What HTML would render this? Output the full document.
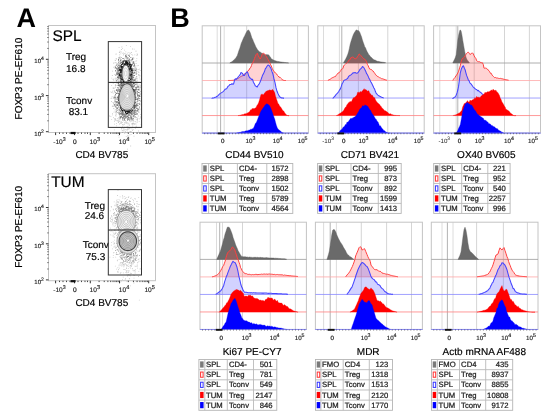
<!DOCTYPE html>
<html><head><meta charset="utf-8"><style>
html,body{margin:0;padding:0;background:#fff;width:550px;height:416px;overflow:hidden;}
svg{display:block;font-family:"Liberation Sans",sans-serif;will-change:transform;text-rendering:geometricPrecision;}
</style></head><body><svg width="550" height="416" viewBox="0 0 550 416" font-family="Liberation Sans, sans-serif"><text x="16.60" y="27.00" font-size="27" text-anchor="start" font-weight="bold" fill="#000" >A</text>
<text x="170.20" y="27.00" font-size="27" text-anchor="start" font-weight="bold" fill="#000" >B</text>
<rect x="48.5" y="25.5" width="107.0" height="107.0" fill="none" stroke="#c4c4c4" stroke-width="1"/>
<line x1="45.9" y1="59.3" x2="48.5" y2="59.3" stroke="#333" stroke-width="1"/>
<text x="34.30" y="63.20" font-size="6.0" fill="#222" stroke="#222" stroke-width="0.15" text-anchor="start">10<tspan font-size="5.10" dy="-3.00">4</tspan></text>
<line x1="45.9" y1="95.6" x2="48.5" y2="95.6" stroke="#333" stroke-width="1"/>
<text x="34.30" y="99.50" font-size="6.0" fill="#222" stroke="#222" stroke-width="0.15" text-anchor="start">10<tspan font-size="5.10" dy="-3.00">3</tspan></text>
<line x1="45.9" y1="131.7" x2="48.5" y2="131.7" stroke="#333" stroke-width="1"/>
<text x="34.30" y="135.60" font-size="6.0" fill="#222" stroke="#222" stroke-width="0.15" text-anchor="start">10<tspan font-size="5.10" dy="-3.00">2</tspan></text>
<rect x="47.4" y="120.30" width="1.1" height="1" fill="#444"/>
<rect x="47.4" y="113.93" width="1.1" height="1" fill="#444"/>
<rect x="47.4" y="109.41" width="1.1" height="1" fill="#444"/>
<rect x="47.4" y="105.90" width="1.1" height="1" fill="#444"/>
<rect x="47.4" y="103.03" width="1.1" height="1" fill="#444"/>
<rect x="47.4" y="100.61" width="1.1" height="1" fill="#444"/>
<rect x="47.4" y="98.51" width="1.1" height="1" fill="#444"/>
<rect x="47.4" y="96.66" width="1.1" height="1" fill="#444"/>
<rect x="47.4" y="84.20" width="1.1" height="1" fill="#444"/>
<rect x="47.4" y="77.83" width="1.1" height="1" fill="#444"/>
<rect x="47.4" y="73.31" width="1.1" height="1" fill="#444"/>
<rect x="47.4" y="69.80" width="1.1" height="1" fill="#444"/>
<rect x="47.4" y="66.93" width="1.1" height="1" fill="#444"/>
<rect x="47.4" y="64.51" width="1.1" height="1" fill="#444"/>
<rect x="47.4" y="62.41" width="1.1" height="1" fill="#444"/>
<rect x="47.4" y="60.56" width="1.1" height="1" fill="#444"/>
<rect x="47.4" y="47.90" width="1.1" height="1" fill="#444"/>
<rect x="47.4" y="41.53" width="1.1" height="1" fill="#444"/>
<rect x="47.4" y="37.01" width="1.1" height="1" fill="#444"/>
<rect x="47.4" y="33.50" width="1.1" height="1" fill="#444"/>
<rect x="47.4" y="30.63" width="1.1" height="1" fill="#444"/>
<rect x="47.4" y="28.21" width="1.1" height="1" fill="#444"/>
<rect x="47.4" y="26.11" width="1.1" height="1" fill="#444"/>
<line x1="55.6" y1="132.5" x2="55.6" y2="135.1" stroke="#333" stroke-width="1"/>
<line x1="74.5" y1="132.5" x2="74.5" y2="135.1" stroke="#333" stroke-width="1"/>
<line x1="90.3" y1="132.5" x2="90.3" y2="135.1" stroke="#333" stroke-width="1"/>
<line x1="119.5" y1="132.5" x2="119.5" y2="135.1" stroke="#333" stroke-width="1"/>
<line x1="148.7" y1="132.5" x2="148.7" y2="135.1" stroke="#333" stroke-width="1"/>
<rect x="59.00" y="132.5" width="1" height="1.4" fill="#444"/>
<rect x="62.50" y="132.5" width="1" height="1.4" fill="#444"/>
<rect x="66.00" y="132.5" width="1" height="1.4" fill="#444"/>
<rect x="69.50" y="132.5" width="1" height="1.4" fill="#444"/>
<rect x="77.50" y="132.5" width="1" height="1.4" fill="#444"/>
<rect x="81.00" y="132.5" width="1" height="1.4" fill="#444"/>
<rect x="84.50" y="132.5" width="1" height="1.4" fill="#444"/>
<rect x="87.00" y="132.5" width="1" height="1.4" fill="#444"/>
<rect x="98.59" y="132.5" width="1" height="1.4" fill="#444"/>
<rect x="103.73" y="132.5" width="1" height="1.4" fill="#444"/>
<rect x="107.38" y="132.5" width="1" height="1.4" fill="#444"/>
<rect x="110.21" y="132.5" width="1" height="1.4" fill="#444"/>
<rect x="112.52" y="132.5" width="1" height="1.4" fill="#444"/>
<rect x="114.48" y="132.5" width="1" height="1.4" fill="#444"/>
<rect x="116.17" y="132.5" width="1" height="1.4" fill="#444"/>
<rect x="117.66" y="132.5" width="1" height="1.4" fill="#444"/>
<rect x="127.79" y="132.5" width="1" height="1.4" fill="#444"/>
<rect x="132.93" y="132.5" width="1" height="1.4" fill="#444"/>
<rect x="136.58" y="132.5" width="1" height="1.4" fill="#444"/>
<rect x="139.41" y="132.5" width="1" height="1.4" fill="#444"/>
<rect x="141.72" y="132.5" width="1" height="1.4" fill="#444"/>
<rect x="143.68" y="132.5" width="1" height="1.4" fill="#444"/>
<rect x="145.37" y="132.5" width="1" height="1.4" fill="#444"/>
<rect x="146.86" y="132.5" width="1" height="1.4" fill="#444"/>
<rect x="70.6" y="131.9" width="5" height="2.2" fill="#111"/>
<text x="53.2" y="143.8" font-size="6.6" fill="#222" stroke="#222" stroke-width="0.15">-10<tspan font-size="5.28" dy="-3.3">3</tspan></text>
<text x="73.00" y="143.80" font-size="6.6" text-anchor="start" font-weight="normal" fill="#222" stroke="#222" stroke-width="0.22" >0</text>
<text x="89.60" y="143.80" font-size="6.6" fill="#222" stroke="#222" stroke-width="0.15" text-anchor="start">10<tspan font-size="5.61" dy="-3.30">3</tspan></text>
<text x="118.80" y="143.80" font-size="6.6" fill="#222" stroke="#222" stroke-width="0.15" text-anchor="start">10<tspan font-size="5.61" dy="-3.30">4</tspan></text>
<text x="144.40" y="143.80" font-size="6.6" fill="#222" stroke="#222" stroke-width="0.15" text-anchor="start">10<tspan font-size="5.61" dy="-3.30">5</tspan></text>
<text x="101.80" y="158.20" font-size="10" text-anchor="middle" font-weight="normal" fill="#000" stroke="#000" stroke-width="0.18" >CD4 BV785</text>
<text x="0" y="0" font-size="10" text-anchor="middle" stroke="#000" stroke-width="0.2" transform="translate(21.6,78.6) rotate(-90)">FOXP3 PE-EF610</text>
<text x="52.40" y="40.70" font-size="15.4" text-anchor="start" font-weight="normal" fill="#000" stroke="#000" stroke-width="0.18" >SPL</text>
<text x="76.00" y="60.20" font-size="10.0" text-anchor="middle" font-weight="normal" fill="#000" stroke="#000" stroke-width="0.18" >Treg</text>
<text x="75.80" y="71.90" font-size="10.0" text-anchor="middle" font-weight="normal" fill="#000" stroke="#000" stroke-width="0.18" >16.8</text>
<text x="79.10" y="103.60" font-size="10.0" text-anchor="middle" font-weight="normal" fill="#000" stroke="#000" stroke-width="0.18" >Tconv</text>
<text x="78.40" y="114.70" font-size="10.0" text-anchor="middle" font-weight="normal" fill="#000" stroke="#000" stroke-width="0.18" >83.1</text>
<path d="M126.0 82.3h0.80v0.80h-0.80zM131.6 71.2h0.80v0.80h-0.80zM128.7 63.1h0.80v0.80h-0.80zM129.6 64.2h0.80v0.80h-0.80zM131.1 69.5h0.80v0.80h-0.80zM122.3 66.3h0.80v0.80h-0.80zM120.2 71.1h0.80v0.80h-0.80zM131.3 65.2h0.80v0.80h-0.80zM124.5 63.9h0.80v0.80h-0.80zM129.7 66.4h0.80v0.80h-0.80zM119.2 74.1h0.80v0.80h-0.80zM131.5 67.8h0.80v0.80h-0.80zM132.0 70.0h0.80v0.80h-0.80zM121.3 64.6h0.80v0.80h-0.80zM123.3 64.3h0.80v0.80h-0.80zM121.5 67.3h0.80v0.80h-0.80zM122.4 77.1h0.80v0.80h-0.80zM126.8 65.5h0.80v0.80h-0.80zM128.4 63.5h0.80v0.80h-0.80zM129.9 65.3h0.80v0.80h-0.80zM122.0 70.5h0.80v0.80h-0.80zM127.2 64.1h0.80v0.80h-0.80zM126.7 64.9h0.80v0.80h-0.80zM122.3 78.8h0.80v0.80h-0.80zM120.6 75.8h0.80v0.80h-0.80zM128.9 68.8h0.80v0.80h-0.80zM122.1 62.6h0.80v0.80h-0.80zM121.7 67.8h0.80v0.80h-0.80zM122.1 62.5h0.80v0.80h-0.80zM121.7 66.4h0.80v0.80h-0.80zM129.6 73.6h0.80v0.80h-0.80zM124.7 82.0h0.80v0.80h-0.80zM120.1 76.0h0.80v0.80h-0.80zM131.0 76.7h0.80v0.80h-0.80zM121.1 67.3h0.80v0.80h-0.80zM130.4 79.2h0.80v0.80h-0.80zM124.4 63.3h0.80v0.80h-0.80zM126.6 63.3h0.80v0.80h-0.80zM120.8 75.0h0.80v0.80h-0.80zM121.6 73.1h0.80v0.80h-0.80zM130.6 75.4h0.80v0.80h-0.80zM130.3 68.3h0.80v0.80h-0.80zM124.8 60.5h0.80v0.80h-0.80zM126.2 61.3h0.80v0.80h-0.80zM129.9 74.4h0.80v0.80h-0.80zM125.6 62.9h0.80v0.80h-0.80zM121.8 77.9h0.80v0.80h-0.80zM122.2 78.7h0.80v0.80h-0.80zM131.0 76.6h0.80v0.80h-0.80zM131.0 70.0h0.80v0.80h-0.80zM122.5 62.3h0.80v0.80h-0.80zM131.1 66.3h0.80v0.80h-0.80zM121.8 68.1h0.80v0.80h-0.80zM120.2 72.6h0.80v0.80h-0.80zM128.5 61.6h0.80v0.80h-0.80zM128.9 64.7h0.80v0.80h-0.80zM121.7 72.8h0.80v0.80h-0.80zM127.9 66.4h0.80v0.80h-0.80zM123.3 79.8h0.80v0.80h-0.80zM130.4 71.8h0.80v0.80h-0.80zM119.8 75.4h0.80v0.80h-0.80zM130.7 69.1h0.80v0.80h-0.80zM130.4 68.5h0.80v0.80h-0.80zM120.5 71.8h0.80v0.80h-0.80zM122.4 69.3h0.80v0.80h-0.80zM119.9 65.2h0.80v0.80h-0.80zM121.9 63.9h0.80v0.80h-0.80zM125.7 60.7h0.80v0.80h-0.80zM125.2 63.4h0.80v0.80h-0.80zM121.4 71.3h0.80v0.80h-0.80zM126.1 63.5h0.80v0.80h-0.80zM122.8 79.1h0.80v0.80h-0.80zM118.6 69.6h0.80v0.80h-0.80zM130.5 68.9h0.80v0.80h-0.80zM123.7 64.8h0.80v0.80h-0.80zM129.5 63.9h0.80v0.80h-0.80zM122.2 63.0h0.80v0.80h-0.80zM119.6 70.1h0.80v0.80h-0.80zM127.8 81.4h0.80v0.80h-0.80zM131.7 73.8h0.80v0.80h-0.80zM121.9 64.1h0.80v0.80h-0.80zM130.3 74.0h0.80v0.80h-0.80zM125.2 63.6h0.80v0.80h-0.80zM129.2 64.5h0.80v0.80h-0.80zM125.8 61.6h0.80v0.80h-0.80zM128.9 80.0h0.80v0.80h-0.80zM123.4 61.4h0.80v0.80h-0.80zM123.5 80.5h0.80v0.80h-0.80zM125.7 62.8h0.80v0.80h-0.80zM124.5 63.4h0.80v0.80h-0.80zM120.9 79.2h0.80v0.80h-0.80zM122.3 68.0h0.80v0.80h-0.80zM122.1 72.9h0.80v0.80h-0.80zM128.6 80.2h0.80v0.80h-0.80zM120.3 74.3h0.80v0.80h-0.80zM121.0 76.4h0.80v0.80h-0.80zM121.9 66.0h0.80v0.80h-0.80zM124.9 64.7h0.80v0.80h-0.80zM126.9 62.1h0.80v0.80h-0.80zM129.7 68.5h0.80v0.80h-0.80zM131.6 69.9h0.80v0.80h-0.80zM129.5 77.1h0.80v0.80h-0.80zM129.0 62.1h0.80v0.80h-0.80zM130.0 67.7h0.80v0.80h-0.80zM126.6 61.8h0.80v0.80h-0.80zM124.2 63.3h0.80v0.80h-0.80zM129.6 64.7h0.80v0.80h-0.80zM130.4 75.3h0.80v0.80h-0.80zM126.8 82.4h0.80v0.80h-0.80zM122.1 70.3h0.80v0.80h-0.80zM130.7 76.4h0.80v0.80h-0.80zM119.6 69.2h0.80v0.80h-0.80zM122.0 79.6h0.80v0.80h-0.80zM131.7 76.2h0.80v0.80h-0.80zM125.0 62.5h0.80v0.80h-0.80zM130.4 71.3h0.80v0.80h-0.80zM120.0 69.5h0.80v0.80h-0.80zM131.4 68.4h0.80v0.80h-0.80zM126.3 62.8h0.80v0.80h-0.80zM124.7 64.4h0.80v0.80h-0.80zM125.4 64.4h0.80v0.80h-0.80zM123.2 80.4h0.80v0.80h-0.80zM118.8 69.8h0.80v0.80h-0.80zM130.0 79.3h0.80v0.80h-0.80zM122.3 70.3h0.80v0.80h-0.80zM126.3 61.9h0.80v0.80h-0.80zM121.0 74.7h0.80v0.80h-0.80zM131.9 74.9h0.80v0.80h-0.80zM129.4 75.6h0.80v0.80h-0.80zM121.8 74.8h0.80v0.80h-0.80zM131.0 74.0h0.80v0.80h-0.80zM121.4 69.3h0.80v0.80h-0.80zM130.5 66.1h0.80v0.80h-0.80zM119.9 76.8h0.80v0.80h-0.80zM120.2 68.9h0.80v0.80h-0.80zM121.9 79.1h0.80v0.80h-0.80zM127.4 62.6h0.80v0.80h-0.80zM122.9 81.1h0.80v0.80h-0.80zM119.4 66.6h0.80v0.80h-0.80zM121.1 72.0h0.80v0.80h-0.80zM121.0 79.0h0.80v0.80h-0.80zM123.3 67.1h0.80v0.80h-0.80zM129.4 74.4h0.80v0.80h-0.80zM121.3 72.2h0.80v0.80h-0.80zM132.0 68.9h0.80v0.80h-0.80zM129.5 70.7h0.80v0.80h-0.80zM126.9 60.6h0.80v0.80h-0.80zM119.0 73.9h0.80v0.80h-0.80zM119.3 75.3h0.80v0.80h-0.80zM131.0 70.3h0.80v0.80h-0.80zM122.9 61.9h0.80v0.80h-0.80zM119.9 69.2h0.80v0.80h-0.80zM122.7 80.7h0.80v0.80h-0.80zM122.2 76.9h0.80v0.80h-0.80zM119.6 74.4h0.80v0.80h-0.80zM132.1 70.6h0.80v0.80h-0.80zM130.7 75.3h0.80v0.80h-0.80zM124.3 63.6h0.80v0.80h-0.80zM123.5 81.2h0.80v0.80h-0.80zM121.3 76.4h0.80v0.80h-0.80zM129.6 75.2h0.80v0.80h-0.80zM130.5 66.7h0.80v0.80h-0.80zM129.3 65.8h0.80v0.80h-0.80zM119.8 70.8h0.80v0.80h-0.80zM130.5 76.2h0.80v0.80h-0.80zM119.9 72.6h0.80v0.80h-0.80zM122.7 79.3h0.80v0.80h-0.80zM121.2 69.8h0.80v0.80h-0.80zM121.9 70.5h0.80v0.80h-0.80zM130.0 79.4h0.80v0.80h-0.80zM121.8 66.0h0.80v0.80h-0.80zM121.2 74.5h0.80v0.80h-0.80zM130.2 67.0h0.80v0.80h-0.80zM131.7 73.9h0.80v0.80h-0.80zM121.1 76.5h0.80v0.80h-0.80zM121.8 68.9h0.80v0.80h-0.80zM124.3 65.8h0.80v0.80h-0.80zM120.2 78.1h0.80v0.80h-0.80zM124.0 65.9h0.80v0.80h-0.80zM122.1 72.1h0.80v0.80h-0.80zM124.5 63.8h0.80v0.80h-0.80zM130.7 78.1h0.80v0.80h-0.80zM129.1 63.6h0.80v0.80h-0.80zM119.6 74.8h0.80v0.80h-0.80zM126.0 60.6h0.80v0.80h-0.80zM130.5 64.4h0.80v0.80h-0.80zM125.4 64.4h0.80v0.80h-0.80zM125.0 63.5h0.80v0.80h-0.80zM118.6 73.0h0.80v0.80h-0.80zM120.6 68.3h0.80v0.80h-0.80zM130.8 78.4h0.80v0.80h-0.80zM131.3 74.8h0.80v0.80h-0.80zM127.4 81.2h0.80v0.80h-0.80zM129.9 63.9h0.80v0.80h-0.80zM131.3 68.4h0.80v0.80h-0.80zM121.6 74.2h0.80v0.80h-0.80zM119.7 67.0h0.80v0.80h-0.80zM124.7 81.7h0.80v0.80h-0.80zM125.3 61.3h0.80v0.80h-0.80zM123.3 63.1h0.80v0.80h-0.80zM126.9 65.2h0.80v0.80h-0.80zM128.7 68.7h0.80v0.80h-0.80zM125.1 61.6h0.80v0.80h-0.80zM126.7 63.1h0.80v0.80h-0.80zM122.3 67.2h0.80v0.80h-0.80zM120.7 70.6h0.80v0.80h-0.80zM127.2 63.4h0.80v0.80h-0.80zM127.5 62.7h0.80v0.80h-0.80zM123.1 64.9h0.80v0.80h-0.80zM127.0 64.0h0.80v0.80h-0.80zM129.4 75.7h0.80v0.80h-0.80zM119.4 66.7h0.80v0.80h-0.80zM121.8 67.4h0.80v0.80h-0.80zM121.7 68.7h0.80v0.80h-0.80zM119.9 70.3h0.80v0.80h-0.80zM127.3 61.8h0.80v0.80h-0.80zM130.1 78.5h0.80v0.80h-0.80zM121.5 72.3h0.80v0.80h-0.80zM130.5 67.4h0.80v0.80h-0.80zM131.6 72.2h0.80v0.80h-0.80zM123.4 80.7h0.80v0.80h-0.80zM125.3 60.9h0.80v0.80h-0.80zM126.3 61.3h0.80v0.80h-0.80zM122.5 62.3h0.80v0.80h-0.80zM130.6 67.5h0.80v0.80h-0.80zM123.8 60.8h0.80v0.80h-0.80zM120.8 77.6h0.80v0.80h-0.80zM131.4 68.9h0.80v0.80h-0.80zM121.4 71.4h0.80v0.80h-0.80zM130.7 64.1h0.80v0.80h-0.80zM122.4 79.2h0.80v0.80h-0.80zM125.5 63.3h0.80v0.80h-0.80zM124.8 64.7h0.80v0.80h-0.80zM120.3 72.6h0.80v0.80h-0.80zM119.8 71.3h0.80v0.80h-0.80zM130.3 66.4h0.80v0.80h-0.80zM128.2 63.6h0.80v0.80h-0.80zM123.2 80.0h0.80v0.80h-0.80zM129.2 68.6h0.80v0.80h-0.80zM129.8 70.4h0.80v0.80h-0.80zM129.1 69.1h0.80v0.80h-0.80zM129.5 67.0h0.80v0.80h-0.80zM118.8 68.6h0.80v0.80h-0.80zM120.3 77.6h0.80v0.80h-0.80zM129.0 67.7h0.80v0.80h-0.80zM121.5 76.2h0.80v0.80h-0.80zM128.9 65.8h0.80v0.80h-0.80zM120.2 69.1h0.80v0.80h-0.80zM120.2 72.6h0.80v0.80h-0.80zM121.9 77.2h0.80v0.80h-0.80zM119.6 68.8h0.80v0.80h-0.80zM119.6 71.7h0.80v0.80h-0.80zM125.7 62.1h0.80v0.80h-0.80zM130.3 63.8h0.80v0.80h-0.80zM127.6 65.4h0.80v0.80h-0.80zM131.8 73.9h0.80v0.80h-0.80zM129.0 69.2h0.80v0.80h-0.80zM127.9 81.5h0.80v0.80h-0.80zM129.2 70.4h0.80v0.80h-0.80zM128.9 63.8h0.80v0.80h-0.80zM120.5 74.7h0.80v0.80h-0.80zM120.9 66.6h0.80v0.80h-0.80zM131.0 69.2h0.80v0.80h-0.80zM122.0 63.8h0.80v0.80h-0.80zM120.8 64.7h0.80v0.80h-0.80zM119.3 70.1h0.80v0.80h-0.80zM126.5 64.4h0.80v0.80h-0.80zM119.7 72.4h0.80v0.80h-0.80zM118.8 74.6h0.80v0.80h-0.80zM131.3 71.6h0.80v0.80h-0.80zM126.7 64.2h0.80v0.80h-0.80zM120.1 66.4h0.80v0.80h-0.80zM129.6 63.5h0.80v0.80h-0.80zM120.6 68.8h0.80v0.80h-0.80zM120.6 69.7h0.80v0.80h-0.80zM129.7 70.4h0.80v0.80h-0.80zM121.5 79.5h0.80v0.80h-0.80zM122.0 77.4h0.80v0.80h-0.80zM122.6 67.4h0.80v0.80h-0.80zM121.8 63.5h0.80v0.80h-0.80zM127.9 82.0h0.80v0.80h-0.80zM125.8 62.9h0.80v0.80h-0.80zM120.5 79.1h0.80v0.80h-0.80zM121.1 70.8h0.80v0.80h-0.80zM125.7 64.6h0.80v0.80h-0.80zM120.3 70.3h0.80v0.80h-0.80zM120.5 66.5h0.80v0.80h-0.80zM121.5 67.8h0.80v0.80h-0.80zM121.4 70.4h0.80v0.80h-0.80zM120.6 78.4h0.80v0.80h-0.80zM132.4 72.3h0.80v0.80h-0.80zM122.2 66.2h0.80v0.80h-0.80zM127.5 64.1h0.80v0.80h-0.80zM129.9 66.3h0.80v0.80h-0.80zM121.3 67.2h0.80v0.80h-0.80zM123.1 79.4h0.80v0.80h-0.80zM131.4 70.2h0.80v0.80h-0.80zM121.2 68.8h0.80v0.80h-0.80zM123.3 61.1h0.80v0.80h-0.80zM129.6 69.7h0.80v0.80h-0.80zM129.9 68.8h0.80v0.80h-0.80zM129.3 74.3h0.80v0.80h-0.80zM129.8 72.7h0.80v0.80h-0.80zM129.3 80.5h0.80v0.80h-0.80zM124.1 66.0h0.80v0.80h-0.80zM120.9 66.8h0.80v0.80h-0.80zM119.1 75.7h0.80v0.80h-0.80zM132.1 70.5h0.80v0.80h-0.80zM126.6 64.4h0.80v0.80h-0.80zM122.3 67.2h0.80v0.80h-0.80zM120.9 78.4h0.80v0.80h-0.80zM124.4 64.5h0.80v0.80h-0.80zM119.0 72.9h0.80v0.80h-0.80zM121.5 66.1h0.80v0.80h-0.80zM130.9 69.3h0.80v0.80h-0.80zM128.2 65.6h0.80v0.80h-0.80zM129.1 78.1h0.80v0.80h-0.80zM119.0 75.1h0.80v0.80h-0.80zM122.2 79.7h0.80v0.80h-0.80zM128.1 66.6h0.80v0.80h-0.80zM127.8 64.0h0.80v0.80h-0.80zM129.6 64.9h0.80v0.80h-0.80zM130.2 79.5h0.80v0.80h-0.80zM120.9 64.1h0.80v0.80h-0.80zM120.1 71.4h0.80v0.80h-0.80zM131.0 64.8h0.80v0.80h-0.80zM131.2 74.3h0.80v0.80h-0.80zM129.5 67.0h0.80v0.80h-0.80zM118.6 72.7h0.80v0.80h-0.80zM129.9 67.2h0.80v0.80h-0.80zM128.0 79.9h0.80v0.80h-0.80zM120.4 70.3h0.80v0.80h-0.80zM121.8 70.1h0.80v0.80h-0.80zM121.8 68.6h0.80v0.80h-0.80zM131.1 77.0h0.80v0.80h-0.80zM129.0 63.9h0.80v0.80h-0.80zM121.2 71.2h0.80v0.80h-0.80zM123.2 66.0h0.80v0.80h-0.80zM129.7 67.0h0.80v0.80h-0.80zM129.7 65.5h0.80v0.80h-0.80zM121.3 71.3h0.80v0.80h-0.80zM120.8 65.9h0.80v0.80h-0.80zM128.8 63.5h0.80v0.80h-0.80zM125.7 63.5h0.80v0.80h-0.80zM131.2 72.9h0.80v0.80h-0.80zM120.6 74.6h0.80v0.80h-0.80zM121.1 70.2h0.80v0.80h-0.80zM128.2 63.2h0.80v0.80h-0.80zM129.3 75.0h0.80v0.80h-0.80zM130.9 74.5h0.80v0.80h-0.80zM131.7 72.9h0.80v0.80h-0.80zM128.0 63.8h0.80v0.80h-0.80zM122.1 67.4h0.80v0.80h-0.80zM131.6 74.8h0.80v0.80h-0.80zM122.1 71.4h0.80v0.80h-0.80zM124.1 81.7h0.80v0.80h-0.80zM121.5 76.2h0.80v0.80h-0.80zM123.9 64.0h0.80v0.80h-0.80zM128.3 65.7h0.80v0.80h-0.80zM127.3 81.9h0.80v0.80h-0.80zM121.2 67.2h0.80v0.80h-0.80zM122.9 61.7h0.80v0.80h-0.80zM120.6 65.9h0.80v0.80h-0.80zM129.5 65.1h0.80v0.80h-0.80zM120.9 65.7h0.80v0.80h-0.80zM123.9 80.8h0.80v0.80h-0.80zM129.6 72.8h0.80v0.80h-0.80zM120.8 79.0h0.80v0.80h-0.80z" fill="#000" opacity="0.9"/>
<path d="M120.5 80.0h0.80v0.80h-0.80zM135.8 72.9h0.80v0.80h-0.80zM116.7 69.4h0.80v0.80h-0.80zM125.9 60.0h0.80v0.80h-0.80zM117.8 81.0h0.80v0.80h-0.80zM121.3 80.7h0.80v0.80h-0.80zM129.0 61.7h0.80v0.80h-0.80zM133.7 79.7h0.80v0.80h-0.80zM123.0 85.7h0.80v0.80h-0.80zM121.0 62.4h0.80v0.80h-0.80zM118.5 67.1h0.80v0.80h-0.80zM117.7 77.3h0.80v0.80h-0.80zM119.4 77.3h0.80v0.80h-0.80zM132.9 73.0h0.80v0.80h-0.80zM123.1 57.9h0.80v0.80h-0.80zM120.6 80.0h0.80v0.80h-0.80zM117.5 65.6h0.80v0.80h-0.80zM121.4 82.2h0.80v0.80h-0.80zM129.1 56.1h0.80v0.80h-0.80zM128.2 60.0h0.80v0.80h-0.80zM125.2 55.1h0.80v0.80h-0.80zM132.3 64.0h0.80v0.80h-0.80zM131.2 64.9h0.80v0.80h-0.80zM134.4 72.7h0.80v0.80h-0.80zM116.2 73.6h0.80v0.80h-0.80zM115.8 68.1h0.80v0.80h-0.80zM130.0 84.9h0.80v0.80h-0.80zM134.1 64.1h0.80v0.80h-0.80zM118.1 59.1h0.80v0.80h-0.80zM136.0 68.8h0.80v0.80h-0.80zM120.9 81.5h0.80v0.80h-0.80zM120.4 79.9h0.80v0.80h-0.80zM127.9 60.1h0.80v0.80h-0.80zM117.1 71.8h0.80v0.80h-0.80zM118.2 77.8h0.80v0.80h-0.80zM117.4 68.5h0.80v0.80h-0.80zM133.2 62.4h0.80v0.80h-0.80zM132.6 82.5h0.80v0.80h-0.80zM127.6 59.2h0.80v0.80h-0.80zM131.2 78.4h0.80v0.80h-0.80zM135.8 73.9h0.80v0.80h-0.80zM133.0 82.9h0.80v0.80h-0.80zM120.8 57.0h0.80v0.80h-0.80zM132.3 68.2h0.80v0.80h-0.80zM116.2 65.2h0.80v0.80h-0.80zM125.5 83.4h0.80v0.80h-0.80zM122.2 58.0h0.80v0.80h-0.80zM117.8 72.8h0.80v0.80h-0.80zM132.9 79.6h0.80v0.80h-0.80zM117.4 76.3h0.80v0.80h-0.80zM127.8 82.3h0.80v0.80h-0.80zM123.1 84.4h0.80v0.80h-0.80zM116.4 80.2h0.80v0.80h-0.80zM121.4 84.8h0.80v0.80h-0.80zM118.3 73.0h0.80v0.80h-0.80zM115.5 74.8h0.80v0.80h-0.80zM116.9 73.1h0.80v0.80h-0.80zM128.7 83.9h0.80v0.80h-0.80zM134.0 80.5h0.80v0.80h-0.80zM118.4 65.3h0.80v0.80h-0.80zM127.3 82.6h0.80v0.80h-0.80zM124.3 84.1h0.80v0.80h-0.80zM126.8 57.2h0.80v0.80h-0.80zM123.2 83.9h0.80v0.80h-0.80zM120.0 58.7h0.80v0.80h-0.80zM133.3 68.4h0.80v0.80h-0.80zM123.9 58.8h0.80v0.80h-0.80zM120.9 61.9h0.80v0.80h-0.80zM121.3 83.5h0.80v0.80h-0.80zM133.3 77.2h0.80v0.80h-0.80zM116.5 67.7h0.80v0.80h-0.80zM119.2 84.8h0.80v0.80h-0.80zM127.1 57.9h0.80v0.80h-0.80zM117.8 78.6h0.80v0.80h-0.80zM129.1 58.4h0.80v0.80h-0.80zM118.7 67.8h0.80v0.80h-0.80zM118.5 63.3h0.80v0.80h-0.80zM134.8 71.7h0.80v0.80h-0.80zM127.5 59.9h0.80v0.80h-0.80zM130.1 62.4h0.80v0.80h-0.80zM133.2 65.5h0.80v0.80h-0.80zM118.6 77.4h0.80v0.80h-0.80zM128.5 60.4h0.80v0.80h-0.80zM132.9 75.7h0.80v0.80h-0.80zM123.0 82.6h0.80v0.80h-0.80zM121.4 82.7h0.80v0.80h-0.80zM124.9 57.5h0.80v0.80h-0.80zM124.1 60.0h0.80v0.80h-0.80zM116.6 74.5h0.80v0.80h-0.80zM132.5 63.1h0.80v0.80h-0.80zM132.3 77.6h0.80v0.80h-0.80zM130.0 81.6h0.80v0.80h-0.80zM117.3 78.8h0.80v0.80h-0.80zM118.0 62.3h0.80v0.80h-0.80zM119.7 63.3h0.80v0.80h-0.80zM121.3 81.1h0.80v0.80h-0.80zM129.2 61.6h0.80v0.80h-0.80zM121.1 62.1h0.80v0.80h-0.80zM133.4 65.7h0.80v0.80h-0.80zM117.8 70.0h0.80v0.80h-0.80zM134.1 75.1h0.80v0.80h-0.80zM120.5 83.2h0.80v0.80h-0.80zM130.7 83.5h0.80v0.80h-0.80zM118.8 84.5h0.80v0.80h-0.80zM132.9 61.3h0.80v0.80h-0.80zM134.9 69.5h0.80v0.80h-0.80zM119.9 62.2h0.80v0.80h-0.80zM133.9 63.3h0.80v0.80h-0.80zM126.0 56.3h0.80v0.80h-0.80zM115.3 70.6h0.80v0.80h-0.80zM128.4 60.7h0.80v0.80h-0.80zM116.5 80.3h0.80v0.80h-0.80zM131.9 79.2h0.80v0.80h-0.80zM118.0 82.3h0.80v0.80h-0.80zM116.7 69.2h0.80v0.80h-0.80zM129.5 61.2h0.80v0.80h-0.80zM121.9 60.5h0.80v0.80h-0.80zM117.1 72.8h0.80v0.80h-0.80zM120.4 83.3h0.80v0.80h-0.80zM135.6 67.8h0.80v0.80h-0.80zM129.9 80.8h0.80v0.80h-0.80zM120.9 80.6h0.80v0.80h-0.80zM132.1 59.1h0.80v0.80h-0.80zM116.7 71.4h0.80v0.80h-0.80zM121.3 81.9h0.80v0.80h-0.80zM118.5 75.8h0.80v0.80h-0.80zM130.9 59.3h0.80v0.80h-0.80zM135.4 77.7h0.80v0.80h-0.80zM116.9 68.5h0.80v0.80h-0.80zM130.4 57.1h0.80v0.80h-0.80zM128.8 61.1h0.80v0.80h-0.80zM120.0 62.4h0.80v0.80h-0.80zM133.7 69.8h0.80v0.80h-0.80zM133.5 61.6h0.80v0.80h-0.80zM132.1 78.0h0.80v0.80h-0.80zM118.5 69.8h0.80v0.80h-0.80zM115.0 74.8h0.80v0.80h-0.80zM133.4 70.1h0.80v0.80h-0.80zM131.0 60.5h0.80v0.80h-0.80zM117.6 82.7h0.80v0.80h-0.80zM122.0 61.1h0.80v0.80h-0.80zM129.5 84.3h0.80v0.80h-0.80zM119.3 64.5h0.80v0.80h-0.80zM127.9 54.9h0.80v0.80h-0.80zM118.4 72.2h0.80v0.80h-0.80zM124.7 60.2h0.80v0.80h-0.80zM115.1 67.3h0.80v0.80h-0.80zM116.8 63.5h0.80v0.80h-0.80zM135.7 70.3h0.80v0.80h-0.80zM133.6 72.4h0.80v0.80h-0.80zM121.8 84.0h0.80v0.80h-0.80zM135.0 70.1h0.80v0.80h-0.80zM132.4 79.3h0.80v0.80h-0.80zM121.3 84.4h0.80v0.80h-0.80zM129.6 82.5h0.80v0.80h-0.80zM118.6 68.4h0.80v0.80h-0.80zM129.2 82.3h0.80v0.80h-0.80zM130.5 60.2h0.80v0.80h-0.80zM117.1 66.5h0.80v0.80h-0.80zM117.8 68.0h0.80v0.80h-0.80zM130.4 80.6h0.80v0.80h-0.80zM123.9 84.6h0.80v0.80h-0.80zM126.0 59.9h0.80v0.80h-0.80zM120.9 59.5h0.80v0.80h-0.80zM118.9 65.6h0.80v0.80h-0.80zM134.0 71.9h0.80v0.80h-0.80zM133.2 75.3h0.80v0.80h-0.80zM130.6 80.4h0.80v0.80h-0.80zM132.9 76.9h0.80v0.80h-0.80zM122.5 84.7h0.80v0.80h-0.80zM120.3 60.0h0.80v0.80h-0.80zM119.1 65.5h0.80v0.80h-0.80zM134.0 75.0h0.80v0.80h-0.80zM127.9 82.6h0.80v0.80h-0.80zM120.0 60.7h0.80v0.80h-0.80zM132.8 80.4h0.80v0.80h-0.80zM120.3 60.7h0.80v0.80h-0.80zM133.0 61.7h0.80v0.80h-0.80zM131.6 82.8h0.80v0.80h-0.80zM133.8 65.7h0.80v0.80h-0.80zM122.5 83.3h0.80v0.80h-0.80zM121.4 62.0h0.80v0.80h-0.80zM116.2 72.8h0.80v0.80h-0.80zM117.0 77.1h0.80v0.80h-0.80zM115.1 69.9h0.80v0.80h-0.80zM117.1 73.8h0.80v0.80h-0.80zM115.5 67.3h0.80v0.80h-0.80zM125.1 56.2h0.80v0.80h-0.80zM133.6 71.4h0.80v0.80h-0.80zM123.0 57.9h0.80v0.80h-0.80zM118.8 61.5h0.80v0.80h-0.80zM117.5 69.7h0.80v0.80h-0.80zM131.2 82.0h0.80v0.80h-0.80zM128.8 55.3h0.80v0.80h-0.80zM117.2 69.8h0.80v0.80h-0.80zM126.5 56.7h0.80v0.80h-0.80zM133.4 65.4h0.80v0.80h-0.80zM121.2 80.9h0.80v0.80h-0.80zM121.6 61.6h0.80v0.80h-0.80zM118.9 67.3h0.80v0.80h-0.80zM123.5 83.7h0.80v0.80h-0.80zM128.6 59.7h0.80v0.80h-0.80zM123.5 83.1h0.80v0.80h-0.80zM129.7 62.4h0.80v0.80h-0.80zM132.0 59.4h0.80v0.80h-0.80zM117.9 77.3h0.80v0.80h-0.80zM123.1 60.2h0.80v0.80h-0.80zM132.9 79.5h0.80v0.80h-0.80zM126.0 58.4h0.80v0.80h-0.80zM118.2 77.0h0.80v0.80h-0.80zM131.9 61.8h0.80v0.80h-0.80zM133.0 65.8h0.80v0.80h-0.80zM125.4 55.7h0.80v0.80h-0.80zM130.9 63.9h0.80v0.80h-0.80zM130.6 85.4h0.80v0.80h-0.80zM127.6 83.5h0.80v0.80h-0.80zM116.5 64.3h0.80v0.80h-0.80zM132.1 64.3h0.80v0.80h-0.80zM118.4 76.4h0.80v0.80h-0.80zM128.9 60.3h0.80v0.80h-0.80zM120.1 60.0h0.80v0.80h-0.80zM121.6 62.1h0.80v0.80h-0.80zM127.5 59.9h0.80v0.80h-0.80zM134.4 65.0h0.80v0.80h-0.80zM116.6 73.9h0.80v0.80h-0.80zM131.1 85.9h0.80v0.80h-0.80zM126.3 57.0h0.80v0.80h-0.80zM134.2 79.5h0.80v0.80h-0.80zM115.2 66.8h0.80v0.80h-0.80zM126.0 55.4h0.80v0.80h-0.80zM118.8 65.7h0.80v0.80h-0.80zM133.5 62.0h0.80v0.80h-0.80zM133.6 75.3h0.80v0.80h-0.80zM126.2 83.8h0.80v0.80h-0.80zM118.3 60.4h0.80v0.80h-0.80zM129.1 82.2h0.80v0.80h-0.80zM131.9 58.6h0.80v0.80h-0.80zM132.5 69.4h0.80v0.80h-0.80zM132.3 82.4h0.80v0.80h-0.80zM132.9 61.7h0.80v0.80h-0.80zM119.4 77.9h0.80v0.80h-0.80zM117.7 78.4h0.80v0.80h-0.80zM117.3 74.0h0.80v0.80h-0.80zM118.3 59.1h0.80v0.80h-0.80zM129.3 59.3h0.80v0.80h-0.80zM122.5 81.7h0.80v0.80h-0.80zM118.2 68.0h0.80v0.80h-0.80zM116.6 69.1h0.80v0.80h-0.80zM118.4 70.2h0.80v0.80h-0.80zM117.8 74.4h0.80v0.80h-0.80zM133.6 63.2h0.80v0.80h-0.80zM123.3 59.9h0.80v0.80h-0.80zM119.6 81.2h0.80v0.80h-0.80zM123.7 60.1h0.80v0.80h-0.80zM124.9 60.1h0.80v0.80h-0.80zM132.0 76.6h0.80v0.80h-0.80zM134.0 65.0h0.80v0.80h-0.80zM119.8 80.8h0.80v0.80h-0.80zM120.8 81.5h0.80v0.80h-0.80zM134.6 66.6h0.80v0.80h-0.80zM120.3 62.8h0.80v0.80h-0.80zM122.7 82.9h0.80v0.80h-0.80zM121.2 62.3h0.80v0.80h-0.80zM116.5 72.3h0.80v0.80h-0.80zM134.2 79.4h0.80v0.80h-0.80zM130.7 83.3h0.80v0.80h-0.80zM133.5 82.8h0.80v0.80h-0.80zM118.3 60.0h0.80v0.80h-0.80zM127.9 57.6h0.80v0.80h-0.80zM134.9 79.2h0.80v0.80h-0.80zM122.4 85.6h0.80v0.80h-0.80zM132.1 58.1h0.80v0.80h-0.80zM122.8 61.1h0.80v0.80h-0.80zM117.4 70.6h0.80v0.80h-0.80zM120.4 85.6h0.80v0.80h-0.80zM116.3 80.0h0.80v0.80h-0.80zM115.6 77.8h0.80v0.80h-0.80zM133.4 72.9h0.80v0.80h-0.80zM130.0 80.7h0.80v0.80h-0.80zM124.4 83.4h0.80v0.80h-0.80zM134.5 68.4h0.80v0.80h-0.80zM118.2 73.6h0.80v0.80h-0.80zM131.3 78.0h0.80v0.80h-0.80zM120.1 80.3h0.80v0.80h-0.80zM118.4 77.2h0.80v0.80h-0.80zM118.1 75.0h0.80v0.80h-0.80zM118.2 71.2h0.80v0.80h-0.80zM131.6 77.6h0.80v0.80h-0.80zM133.5 63.3h0.80v0.80h-0.80zM117.9 67.1h0.80v0.80h-0.80zM119.4 57.6h0.80v0.80h-0.80zM132.2 58.7h0.80v0.80h-0.80zM131.7 64.6h0.80v0.80h-0.80zM117.3 76.7h0.80v0.80h-0.80zM134.5 80.1h0.80v0.80h-0.80zM118.2 64.4h0.80v0.80h-0.80zM121.6 84.9h0.80v0.80h-0.80zM136.0 71.6h0.80v0.80h-0.80zM122.7 82.7h0.80v0.80h-0.80zM122.5 85.0h0.80v0.80h-0.80z" fill="#333" opacity="0.65"/>
<path d="M118.3 58.5h0.80v0.80h-0.80zM123.3 54.2h0.80v0.80h-0.80zM122.8 52.6h0.80v0.80h-0.80zM113.6 78.4h0.80v0.80h-0.80zM115.4 62.1h0.80v0.80h-0.80zM120.4 53.5h0.80v0.80h-0.80zM135.8 50.8h0.80v0.80h-0.80zM134.4 54.4h0.80v0.80h-0.80zM135.4 50.8h0.80v0.80h-0.80zM136.6 55.1h0.80v0.80h-0.80zM136.0 76.1h0.80v0.80h-0.80zM120.2 91.5h0.80v0.80h-0.80zM119.3 51.7h0.80v0.80h-0.80zM138.4 72.1h0.80v0.80h-0.80zM137.1 54.2h0.80v0.80h-0.80zM113.4 79.9h0.80v0.80h-0.80zM135.7 63.1h0.80v0.80h-0.80zM114.6 82.0h0.80v0.80h-0.80zM115.6 79.4h0.80v0.80h-0.80zM119.6 56.2h0.80v0.80h-0.80zM125.4 51.4h0.80v0.80h-0.80zM120.7 51.6h0.80v0.80h-0.80zM135.8 92.3h0.80v0.80h-0.80zM124.1 49.8h0.80v0.80h-0.80zM119.3 52.1h0.80v0.80h-0.80zM132.8 57.2h0.80v0.80h-0.80zM134.1 83.2h0.80v0.80h-0.80zM129.2 54.4h0.80v0.80h-0.80zM115.6 53.9h0.80v0.80h-0.80zM113.0 62.7h0.80v0.80h-0.80zM113.4 66.7h0.80v0.80h-0.80zM120.7 87.1h0.80v0.80h-0.80zM129.9 52.8h0.80v0.80h-0.80zM139.3 75.2h0.80v0.80h-0.80zM119.6 50.8h0.80v0.80h-0.80zM129.5 53.4h0.80v0.80h-0.80zM118.6 57.7h0.80v0.80h-0.80zM139.4 74.9h0.80v0.80h-0.80zM126.3 54.1h0.80v0.80h-0.80zM136.7 53.6h0.80v0.80h-0.80zM116.0 58.6h0.80v0.80h-0.80zM136.6 65.5h0.80v0.80h-0.80zM137.6 71.2h0.80v0.80h-0.80zM121.0 49.1h0.80v0.80h-0.80zM136.4 69.3h0.80v0.80h-0.80zM118.3 57.1h0.80v0.80h-0.80zM119.2 54.5h0.80v0.80h-0.80zM118.7 47.0h0.80v0.80h-0.80zM131.4 53.9h0.80v0.80h-0.80zM122.5 53.2h0.80v0.80h-0.80zM136.4 58.2h0.80v0.80h-0.80zM137.8 65.1h0.80v0.80h-0.80zM132.7 86.2h0.80v0.80h-0.80zM113.2 87.7h0.80v0.80h-0.80zM118.3 86.8h0.80v0.80h-0.80zM117.4 88.2h0.80v0.80h-0.80zM115.1 60.3h0.80v0.80h-0.80zM136.4 73.0h0.80v0.80h-0.80zM130.1 45.9h0.80v0.80h-0.80zM138.1 69.0h0.80v0.80h-0.80zM114.7 68.1h0.80v0.80h-0.80zM114.1 87.7h0.80v0.80h-0.80zM114.8 66.1h0.80v0.80h-0.80zM115.6 78.8h0.80v0.80h-0.80zM119.1 57.2h0.80v0.80h-0.80zM113.7 66.8h0.80v0.80h-0.80zM114.3 74.3h0.80v0.80h-0.80zM125.9 44.9h0.80v0.80h-0.80zM115.8 62.6h0.80v0.80h-0.80zM138.0 74.8h0.80v0.80h-0.80zM126.9 52.8h0.80v0.80h-0.80zM132.0 48.6h0.80v0.80h-0.80zM115.4 94.8h0.80v0.80h-0.80zM113.6 66.9h0.80v0.80h-0.80zM124.3 53.0h0.80v0.80h-0.80zM111.4 77.7h0.80v0.80h-0.80zM117.9 84.0h0.80v0.80h-0.80zM112.1 70.8h0.80v0.80h-0.80zM135.5 83.0h0.80v0.80h-0.80zM111.7 96.0h0.80v0.80h-0.80zM133.5 57.8h0.80v0.80h-0.80zM137.3 83.2h0.80v0.80h-0.80zM138.9 77.5h0.80v0.80h-0.80zM122.0 48.2h0.80v0.80h-0.80zM114.7 59.8h0.80v0.80h-0.80zM138.6 73.9h0.80v0.80h-0.80zM135.2 80.7h0.80v0.80h-0.80zM133.5 90.2h0.80v0.80h-0.80zM135.4 60.8h0.80v0.80h-0.80zM134.5 82.9h0.80v0.80h-0.80zM133.6 82.9h0.80v0.80h-0.80zM131.7 57.0h0.80v0.80h-0.80zM135.4 80.3h0.80v0.80h-0.80zM116.9 87.2h0.80v0.80h-0.80zM136.9 78.4h0.80v0.80h-0.80zM132.3 54.8h0.80v0.80h-0.80zM116.7 82.2h0.80v0.80h-0.80zM111.9 75.1h0.80v0.80h-0.80zM133.2 58.6h0.80v0.80h-0.80zM133.8 48.7h0.80v0.80h-0.80zM136.6 69.2h0.80v0.80h-0.80zM113.8 62.5h0.80v0.80h-0.80zM115.6 80.0h0.80v0.80h-0.80zM138.2 82.3h0.80v0.80h-0.80zM139.9 70.3h0.80v0.80h-0.80zM118.9 85.9h0.80v0.80h-0.80zM135.6 77.9h0.80v0.80h-0.80zM127.7 54.2h0.80v0.80h-0.80zM115.1 65.6h0.80v0.80h-0.80zM124.8 53.4h0.80v0.80h-0.80zM136.0 82.0h0.80v0.80h-0.80zM139.5 75.7h0.80v0.80h-0.80zM131.1 52.1h0.80v0.80h-0.80zM134.2 82.8h0.80v0.80h-0.80zM121.5 46.6h0.80v0.80h-0.80zM118.9 51.9h0.80v0.80h-0.80zM114.9 85.6h0.80v0.80h-0.80zM115.7 57.9h0.80v0.80h-0.80zM125.0 53.8h0.80v0.80h-0.80zM137.9 82.3h0.80v0.80h-0.80zM122.9 54.8h0.80v0.80h-0.80zM135.7 63.1h0.80v0.80h-0.80zM114.3 82.3h0.80v0.80h-0.80zM120.9 88.1h0.80v0.80h-0.80zM116.6 92.8h0.80v0.80h-0.80zM128.5 52.2h0.80v0.80h-0.80zM137.1 86.0h0.80v0.80h-0.80zM112.7 79.1h0.80v0.80h-0.80zM118.1 89.7h0.80v0.80h-0.80zM136.3 60.4h0.80v0.80h-0.80zM133.9 82.8h0.80v0.80h-0.80zM115.7 53.5h0.80v0.80h-0.80z" fill="#777" opacity="0.45"/>
<path d="M127.5 111.8h0.80v0.80h-0.80zM134.6 103.2h0.80v0.80h-0.80zM134.9 92.8h0.80v0.80h-0.80zM121.2 88.3h0.80v0.80h-0.80zM133.2 89.3h0.80v0.80h-0.80zM118.8 102.1h0.80v0.80h-0.80zM131.2 109.4h0.80v0.80h-0.80zM124.3 109.7h0.80v0.80h-0.80zM121.4 107.5h0.80v0.80h-0.80zM121.6 108.8h0.80v0.80h-0.80zM120.4 90.8h0.80v0.80h-0.80zM118.5 99.2h0.80v0.80h-0.80zM125.0 112.5h0.80v0.80h-0.80zM118.9 95.1h0.80v0.80h-0.80zM121.6 110.2h0.80v0.80h-0.80zM122.4 111.2h0.80v0.80h-0.80zM135.2 96.8h0.80v0.80h-0.80zM120.3 90.6h0.80v0.80h-0.80zM135.3 99.3h0.80v0.80h-0.80zM118.4 98.1h0.80v0.80h-0.80zM124.2 110.6h0.80v0.80h-0.80zM124.9 111.7h0.80v0.80h-0.80zM125.0 110.8h0.80v0.80h-0.80zM125.2 110.9h0.80v0.80h-0.80zM125.3 112.2h0.80v0.80h-0.80zM132.3 110.3h0.80v0.80h-0.80zM125.7 111.6h0.80v0.80h-0.80zM122.6 110.8h0.80v0.80h-0.80zM131.1 109.5h0.80v0.80h-0.80zM118.8 102.8h0.80v0.80h-0.80zM130.0 111.6h0.80v0.80h-0.80zM129.6 110.3h0.80v0.80h-0.80zM131.6 110.1h0.80v0.80h-0.80zM126.8 113.1h0.80v0.80h-0.80zM131.8 109.0h0.80v0.80h-0.80zM120.5 106.4h0.80v0.80h-0.80zM130.3 110.2h0.80v0.80h-0.80zM122.8 109.2h0.80v0.80h-0.80zM118.9 94.1h0.80v0.80h-0.80zM134.8 93.0h0.80v0.80h-0.80zM120.0 107.6h0.80v0.80h-0.80zM118.2 100.1h0.80v0.80h-0.80zM133.9 106.6h0.80v0.80h-0.80zM126.5 111.0h0.80v0.80h-0.80zM121.1 108.8h0.80v0.80h-0.80zM125.1 111.8h0.80v0.80h-0.80zM129.0 110.7h0.80v0.80h-0.80zM128.5 110.6h0.80v0.80h-0.80zM130.9 111.7h0.80v0.80h-0.80zM133.9 90.2h0.80v0.80h-0.80zM133.5 90.6h0.80v0.80h-0.80zM135.7 98.9h0.80v0.80h-0.80zM124.4 110.3h0.80v0.80h-0.80zM118.8 99.3h0.80v0.80h-0.80zM127.3 110.4h0.80v0.80h-0.80zM134.0 107.6h0.80v0.80h-0.80zM118.4 96.4h0.80v0.80h-0.80zM135.3 96.6h0.80v0.80h-0.80zM118.3 98.6h0.80v0.80h-0.80zM133.7 90.9h0.80v0.80h-0.80zM135.0 94.4h0.80v0.80h-0.80zM131.0 111.0h0.80v0.80h-0.80zM129.5 110.1h0.80v0.80h-0.80zM125.3 111.5h0.80v0.80h-0.80zM128.9 111.7h0.80v0.80h-0.80zM122.3 110.7h0.80v0.80h-0.80zM125.9 113.1h0.80v0.80h-0.80zM118.6 99.1h0.80v0.80h-0.80zM127.8 111.5h0.80v0.80h-0.80zM120.0 107.3h0.80v0.80h-0.80zM134.7 91.9h0.80v0.80h-0.80zM118.8 102.2h0.80v0.80h-0.80zM135.0 101.9h0.80v0.80h-0.80zM133.6 90.0h0.80v0.80h-0.80zM123.2 109.8h0.80v0.80h-0.80zM118.6 98.5h0.80v0.80h-0.80zM122.0 110.0h0.80v0.80h-0.80zM132.7 108.5h0.80v0.80h-0.80zM128.6 110.8h0.80v0.80h-0.80zM133.8 91.3h0.80v0.80h-0.80zM118.7 98.5h0.80v0.80h-0.80zM119.2 94.1h0.80v0.80h-0.80zM126.7 111.4h0.80v0.80h-0.80zM130.2 111.6h0.80v0.80h-0.80zM128.3 110.3h0.80v0.80h-0.80zM126.2 112.9h0.80v0.80h-0.80zM119.7 91.1h0.80v0.80h-0.80zM120.4 108.0h0.80v0.80h-0.80zM125.6 110.4h0.80v0.80h-0.80zM119.1 93.7h0.80v0.80h-0.80zM134.5 103.6h0.80v0.80h-0.80zM122.0 87.5h0.80v0.80h-0.80zM120.3 106.8h0.80v0.80h-0.80zM127.1 110.6h0.80v0.80h-0.80zM126.4 110.8h0.80v0.80h-0.80zM126.6 111.3h0.80v0.80h-0.80zM121.9 110.0h0.80v0.80h-0.80zM129.5 112.1h0.80v0.80h-0.80zM120.5 90.1h0.80v0.80h-0.80zM122.2 110.1h0.80v0.80h-0.80zM119.4 93.5h0.80v0.80h-0.80zM127.7 110.8h0.80v0.80h-0.80zM121.1 109.4h0.80v0.80h-0.80zM134.1 105.3h0.80v0.80h-0.80zM134.3 106.2h0.80v0.80h-0.80zM118.5 102.6h0.80v0.80h-0.80zM121.6 110.0h0.80v0.80h-0.80zM119.8 90.8h0.80v0.80h-0.80zM121.1 108.9h0.80v0.80h-0.80zM133.3 106.4h0.80v0.80h-0.80zM123.8 109.9h0.80v0.80h-0.80zM126.3 111.1h0.80v0.80h-0.80zM134.9 94.6h0.80v0.80h-0.80zM134.7 104.9h0.80v0.80h-0.80zM127.6 111.5h0.80v0.80h-0.80zM128.2 111.5h0.80v0.80h-0.80zM132.1 110.5h0.80v0.80h-0.80zM132.9 89.0h0.80v0.80h-0.80zM128.4 112.5h0.80v0.80h-0.80zM132.8 107.5h0.80v0.80h-0.80zM118.7 96.7h0.80v0.80h-0.80zM133.1 89.6h0.80v0.80h-0.80zM126.1 113.1h0.80v0.80h-0.80zM127.3 113.2h0.80v0.80h-0.80zM128.8 111.4h0.80v0.80h-0.80zM118.6 95.3h0.80v0.80h-0.80zM129.3 111.2h0.80v0.80h-0.80zM119.7 104.9h0.80v0.80h-0.80zM127.0 111.6h0.80v0.80h-0.80zM119.0 94.1h0.80v0.80h-0.80zM127.5 112.5h0.80v0.80h-0.80zM120.7 108.6h0.80v0.80h-0.80zM119.8 107.3h0.80v0.80h-0.80zM120.0 91.4h0.80v0.80h-0.80zM121.3 109.7h0.80v0.80h-0.80zM120.1 105.9h0.80v0.80h-0.80zM127.6 112.3h0.80v0.80h-0.80zM123.3 110.0h0.80v0.80h-0.80zM135.3 97.8h0.80v0.80h-0.80z" fill="#000" opacity="0.9"/>
<path d="M137.6 89.3h0.80v0.80h-0.80zM132.9 81.5h0.80v0.80h-0.80zM123.5 117.7h0.80v0.80h-0.80zM119.0 88.9h0.80v0.80h-0.80zM134.4 91.2h0.80v0.80h-0.80zM136.8 84.6h0.80v0.80h-0.80zM136.1 104.8h0.80v0.80h-0.80zM125.4 116.4h0.80v0.80h-0.80zM120.0 117.7h0.80v0.80h-0.80zM123.3 115.5h0.80v0.80h-0.80zM127.9 83.9h0.80v0.80h-0.80zM130.3 113.2h0.80v0.80h-0.80zM137.1 104.9h0.80v0.80h-0.80zM138.5 95.0h0.80v0.80h-0.80zM117.9 85.1h0.80v0.80h-0.80zM133.0 111.2h0.80v0.80h-0.80zM127.4 113.7h0.80v0.80h-0.80zM135.0 89.7h0.80v0.80h-0.80zM129.9 81.4h0.80v0.80h-0.80zM121.9 116.9h0.80v0.80h-0.80zM130.0 84.0h0.80v0.80h-0.80zM121.2 85.2h0.80v0.80h-0.80zM136.9 95.8h0.80v0.80h-0.80zM131.4 81.1h0.80v0.80h-0.80zM136.1 87.1h0.80v0.80h-0.80zM133.1 87.7h0.80v0.80h-0.80zM139.9 100.8h0.80v0.80h-0.80zM127.8 115.4h0.80v0.80h-0.80zM134.1 112.1h0.80v0.80h-0.80zM116.2 111.0h0.80v0.80h-0.80zM123.8 115.6h0.80v0.80h-0.80zM116.3 100.9h0.80v0.80h-0.80zM136.5 97.6h0.80v0.80h-0.80zM122.9 85.5h0.80v0.80h-0.80zM129.2 84.2h0.80v0.80h-0.80zM131.2 117.8h0.80v0.80h-0.80zM139.2 92.5h0.80v0.80h-0.80zM130.9 80.1h0.80v0.80h-0.80zM134.3 112.9h0.80v0.80h-0.80zM121.9 82.8h0.80v0.80h-0.80zM117.5 85.0h0.80v0.80h-0.80zM119.4 109.8h0.80v0.80h-0.80zM135.5 88.6h0.80v0.80h-0.80zM122.6 116.8h0.80v0.80h-0.80zM130.4 115.3h0.80v0.80h-0.80zM123.7 84.8h0.80v0.80h-0.80zM136.2 87.1h0.80v0.80h-0.80zM123.7 82.0h0.80v0.80h-0.80zM134.8 86.9h0.80v0.80h-0.80zM117.3 92.8h0.80v0.80h-0.80zM119.0 112.7h0.80v0.80h-0.80zM134.4 82.3h0.80v0.80h-0.80zM128.0 117.0h0.80v0.80h-0.80zM116.3 102.3h0.80v0.80h-0.80zM137.6 98.6h0.80v0.80h-0.80zM131.5 86.3h0.80v0.80h-0.80zM134.4 111.4h0.80v0.80h-0.80zM133.3 86.4h0.80v0.80h-0.80zM121.3 84.7h0.80v0.80h-0.80zM136.4 110.1h0.80v0.80h-0.80zM139.6 96.2h0.80v0.80h-0.80zM132.3 86.2h0.80v0.80h-0.80zM123.9 119.9h0.80v0.80h-0.80zM129.6 82.3h0.80v0.80h-0.80zM117.9 83.8h0.80v0.80h-0.80zM122.9 116.9h0.80v0.80h-0.80zM126.7 116.1h0.80v0.80h-0.80zM134.7 116.8h0.80v0.80h-0.80zM123.0 112.3h0.80v0.80h-0.80zM124.5 116.7h0.80v0.80h-0.80zM131.7 119.6h0.80v0.80h-0.80zM138.4 103.2h0.80v0.80h-0.80zM136.8 94.0h0.80v0.80h-0.80zM135.7 89.2h0.80v0.80h-0.80zM120.6 80.6h0.80v0.80h-0.80zM132.0 111.4h0.80v0.80h-0.80zM119.7 117.0h0.80v0.80h-0.80zM133.0 83.2h0.80v0.80h-0.80zM120.0 116.0h0.80v0.80h-0.80zM129.3 81.5h0.80v0.80h-0.80zM124.5 116.5h0.80v0.80h-0.80zM130.9 116.9h0.80v0.80h-0.80zM119.6 90.2h0.80v0.80h-0.80zM115.7 108.9h0.80v0.80h-0.80zM121.2 116.7h0.80v0.80h-0.80zM122.7 114.3h0.80v0.80h-0.80zM133.8 89.1h0.80v0.80h-0.80zM138.9 107.4h0.80v0.80h-0.80zM138.1 92.1h0.80v0.80h-0.80zM129.0 114.6h0.80v0.80h-0.80zM124.9 120.5h0.80v0.80h-0.80zM125.3 113.4h0.80v0.80h-0.80zM135.0 82.1h0.80v0.80h-0.80zM135.1 110.2h0.80v0.80h-0.80zM122.3 85.5h0.80v0.80h-0.80zM136.1 113.7h0.80v0.80h-0.80zM125.5 117.7h0.80v0.80h-0.80zM134.2 112.8h0.80v0.80h-0.80zM117.2 101.3h0.80v0.80h-0.80zM118.4 95.0h0.80v0.80h-0.80zM137.0 94.6h0.80v0.80h-0.80zM129.0 114.9h0.80v0.80h-0.80zM134.9 84.1h0.80v0.80h-0.80zM136.9 99.3h0.80v0.80h-0.80zM116.7 107.3h0.80v0.80h-0.80zM121.0 116.6h0.80v0.80h-0.80zM117.0 108.5h0.80v0.80h-0.80zM132.2 83.9h0.80v0.80h-0.80zM117.1 108.0h0.80v0.80h-0.80zM133.4 89.0h0.80v0.80h-0.80zM120.0 87.1h0.80v0.80h-0.80zM137.5 100.6h0.80v0.80h-0.80zM117.8 92.7h0.80v0.80h-0.80zM138.6 96.1h0.80v0.80h-0.80zM137.1 91.2h0.80v0.80h-0.80zM122.3 112.9h0.80v0.80h-0.80zM136.1 88.3h0.80v0.80h-0.80zM139.1 106.4h0.80v0.80h-0.80zM132.3 79.8h0.80v0.80h-0.80zM116.9 107.3h0.80v0.80h-0.80zM121.8 114.2h0.80v0.80h-0.80zM117.6 90.9h0.80v0.80h-0.80zM127.1 115.6h0.80v0.80h-0.80zM132.7 86.3h0.80v0.80h-0.80zM136.1 83.7h0.80v0.80h-0.80zM130.6 112.8h0.80v0.80h-0.80zM137.1 95.0h0.80v0.80h-0.80zM120.4 110.4h0.80v0.80h-0.80zM121.5 86.7h0.80v0.80h-0.80zM132.4 82.3h0.80v0.80h-0.80zM119.6 110.5h0.80v0.80h-0.80zM131.1 113.2h0.80v0.80h-0.80zM121.6 111.9h0.80v0.80h-0.80zM122.8 81.8h0.80v0.80h-0.80zM120.8 83.7h0.80v0.80h-0.80zM121.0 111.7h0.80v0.80h-0.80zM119.5 90.0h0.80v0.80h-0.80zM131.4 113.3h0.80v0.80h-0.80zM130.8 113.0h0.80v0.80h-0.80zM126.0 114.2h0.80v0.80h-0.80zM128.9 80.4h0.80v0.80h-0.80zM121.0 112.9h0.80v0.80h-0.80zM128.1 81.6h0.80v0.80h-0.80zM136.3 113.7h0.80v0.80h-0.80zM132.7 115.0h0.80v0.80h-0.80zM115.4 97.4h0.80v0.80h-0.80zM136.4 107.2h0.80v0.80h-0.80zM131.0 80.7h0.80v0.80h-0.80zM135.7 106.2h0.80v0.80h-0.80zM134.1 110.1h0.80v0.80h-0.80zM117.2 97.2h0.80v0.80h-0.80zM133.7 85.8h0.80v0.80h-0.80zM124.1 119.3h0.80v0.80h-0.80zM120.7 110.6h0.80v0.80h-0.80zM122.6 116.7h0.80v0.80h-0.80zM119.9 89.5h0.80v0.80h-0.80zM129.8 81.3h0.80v0.80h-0.80zM133.4 108.9h0.80v0.80h-0.80zM134.0 113.8h0.80v0.80h-0.80zM132.8 112.3h0.80v0.80h-0.80zM124.0 118.3h0.80v0.80h-0.80zM131.1 84.5h0.80v0.80h-0.80zM118.1 106.6h0.80v0.80h-0.80zM131.6 114.1h0.80v0.80h-0.80zM132.6 116.4h0.80v0.80h-0.80zM135.5 89.1h0.80v0.80h-0.80zM138.2 89.4h0.80v0.80h-0.80zM116.8 107.7h0.80v0.80h-0.80zM135.0 107.1h0.80v0.80h-0.80zM120.9 82.2h0.80v0.80h-0.80zM124.3 83.7h0.80v0.80h-0.80zM134.9 105.6h0.80v0.80h-0.80zM114.6 91.8h0.80v0.80h-0.80zM116.9 97.1h0.80v0.80h-0.80zM120.4 116.9h0.80v0.80h-0.80zM128.5 113.6h0.80v0.80h-0.80zM135.1 114.3h0.80v0.80h-0.80zM120.5 82.1h0.80v0.80h-0.80zM132.4 113.7h0.80v0.80h-0.80zM118.7 85.1h0.80v0.80h-0.80zM116.0 101.0h0.80v0.80h-0.80zM129.8 114.5h0.80v0.80h-0.80zM114.6 100.2h0.80v0.80h-0.80zM117.6 96.4h0.80v0.80h-0.80zM121.2 116.2h0.80v0.80h-0.80zM119.8 110.5h0.80v0.80h-0.80zM130.8 113.1h0.80v0.80h-0.80zM130.7 78.6h0.80v0.80h-0.80zM138.2 95.2h0.80v0.80h-0.80zM118.5 113.4h0.80v0.80h-0.80zM126.8 83.3h0.80v0.80h-0.80zM137.7 94.5h0.80v0.80h-0.80zM116.8 108.1h0.80v0.80h-0.80zM131.2 85.0h0.80v0.80h-0.80zM129.6 83.3h0.80v0.80h-0.80zM121.5 112.7h0.80v0.80h-0.80zM118.2 87.8h0.80v0.80h-0.80zM136.9 113.0h0.80v0.80h-0.80zM136.6 110.5h0.80v0.80h-0.80zM118.5 103.5h0.80v0.80h-0.80zM137.4 98.8h0.80v0.80h-0.80zM136.8 108.1h0.80v0.80h-0.80zM127.6 116.1h0.80v0.80h-0.80zM116.8 90.3h0.80v0.80h-0.80zM127.3 82.7h0.80v0.80h-0.80zM117.4 102.2h0.80v0.80h-0.80zM133.9 114.4h0.80v0.80h-0.80zM123.0 112.9h0.80v0.80h-0.80zM122.2 81.5h0.80v0.80h-0.80zM116.8 98.6h0.80v0.80h-0.80zM135.3 89.3h0.80v0.80h-0.80zM120.9 82.0h0.80v0.80h-0.80zM137.2 95.7h0.80v0.80h-0.80zM121.6 111.8h0.80v0.80h-0.80zM116.6 109.9h0.80v0.80h-0.80zM130.2 119.4h0.80v0.80h-0.80zM117.8 96.3h0.80v0.80h-0.80zM139.1 98.3h0.80v0.80h-0.80zM135.9 111.6h0.80v0.80h-0.80zM132.7 111.5h0.80v0.80h-0.80zM135.5 105.3h0.80v0.80h-0.80zM122.6 81.9h0.80v0.80h-0.80zM122.0 114.7h0.80v0.80h-0.80zM119.5 113.8h0.80v0.80h-0.80zM116.8 105.1h0.80v0.80h-0.80zM139.4 102.7h0.80v0.80h-0.80zM113.8 97.7h0.80v0.80h-0.80zM119.7 83.9h0.80v0.80h-0.80zM134.3 90.1h0.80v0.80h-0.80zM137.3 91.9h0.80v0.80h-0.80zM129.4 83.0h0.80v0.80h-0.80zM128.0 81.7h0.80v0.80h-0.80zM130.1 116.6h0.80v0.80h-0.80zM115.6 102.1h0.80v0.80h-0.80zM125.5 115.5h0.80v0.80h-0.80zM115.5 104.7h0.80v0.80h-0.80zM124.2 119.1h0.80v0.80h-0.80zM124.5 116.8h0.80v0.80h-0.80zM126.4 82.7h0.80v0.80h-0.80zM116.1 89.2h0.80v0.80h-0.80zM137.6 86.1h0.80v0.80h-0.80zM118.3 93.1h0.80v0.80h-0.80zM135.5 104.7h0.80v0.80h-0.80zM134.7 109.8h0.80v0.80h-0.80zM127.5 117.6h0.80v0.80h-0.80zM131.5 112.4h0.80v0.80h-0.80zM133.6 115.2h0.80v0.80h-0.80zM118.4 102.6h0.80v0.80h-0.80zM135.6 93.0h0.80v0.80h-0.80zM137.0 92.9h0.80v0.80h-0.80zM138.1 109.4h0.80v0.80h-0.80zM119.3 91.1h0.80v0.80h-0.80zM115.0 94.1h0.80v0.80h-0.80zM130.9 116.5h0.80v0.80h-0.80zM128.5 83.1h0.80v0.80h-0.80zM135.0 112.0h0.80v0.80h-0.80zM132.2 82.0h0.80v0.80h-0.80zM128.6 114.9h0.80v0.80h-0.80zM120.1 113.0h0.80v0.80h-0.80zM122.2 111.9h0.80v0.80h-0.80zM119.3 109.6h0.80v0.80h-0.80zM128.5 117.1h0.80v0.80h-0.80zM117.4 87.3h0.80v0.80h-0.80zM116.7 89.8h0.80v0.80h-0.80zM127.5 118.1h0.80v0.80h-0.80zM116.8 89.5h0.80v0.80h-0.80zM116.1 107.4h0.80v0.80h-0.80zM126.1 83.8h0.80v0.80h-0.80zM131.0 113.5h0.80v0.80h-0.80zM130.5 117.4h0.80v0.80h-0.80zM125.5 117.3h0.80v0.80h-0.80zM136.6 104.6h0.80v0.80h-0.80zM138.2 96.7h0.80v0.80h-0.80zM121.3 87.8h0.80v0.80h-0.80zM115.3 106.7h0.80v0.80h-0.80zM118.1 83.0h0.80v0.80h-0.80zM120.4 113.6h0.80v0.80h-0.80zM127.7 81.4h0.80v0.80h-0.80zM136.6 101.5h0.80v0.80h-0.80zM138.4 89.6h0.80v0.80h-0.80zM131.9 118.7h0.80v0.80h-0.80zM126.5 116.7h0.80v0.80h-0.80zM121.9 115.3h0.80v0.80h-0.80zM130.4 84.2h0.80v0.80h-0.80zM121.3 86.1h0.80v0.80h-0.80zM137.4 110.4h0.80v0.80h-0.80zM130.5 115.8h0.80v0.80h-0.80zM124.0 116.0h0.80v0.80h-0.80zM127.3 118.1h0.80v0.80h-0.80zM116.8 104.6h0.80v0.80h-0.80zM136.1 104.0h0.80v0.80h-0.80zM117.8 93.0h0.80v0.80h-0.80zM138.2 87.0h0.80v0.80h-0.80zM137.9 108.7h0.80v0.80h-0.80zM125.2 82.2h0.80v0.80h-0.80zM116.8 99.3h0.80v0.80h-0.80zM131.9 85.1h0.80v0.80h-0.80zM122.6 117.6h0.80v0.80h-0.80zM129.3 83.8h0.80v0.80h-0.80zM134.4 82.2h0.80v0.80h-0.80zM133.1 118.2h0.80v0.80h-0.80zM122.6 118.8h0.80v0.80h-0.80zM116.7 92.6h0.80v0.80h-0.80zM123.6 112.7h0.80v0.80h-0.80zM123.6 117.7h0.80v0.80h-0.80zM136.8 90.9h0.80v0.80h-0.80zM120.8 114.0h0.80v0.80h-0.80zM130.8 116.2h0.80v0.80h-0.80zM127.7 113.6h0.80v0.80h-0.80zM128.6 118.9h0.80v0.80h-0.80zM128.7 117.6h0.80v0.80h-0.80zM128.9 120.2h0.80v0.80h-0.80zM118.4 111.7h0.80v0.80h-0.80zM113.8 96.9h0.80v0.80h-0.80zM113.8 96.3h0.80v0.80h-0.80zM132.9 112.7h0.80v0.80h-0.80zM134.1 111.0h0.80v0.80h-0.80zM117.2 103.7h0.80v0.80h-0.80zM121.6 113.6h0.80v0.80h-0.80zM134.4 85.8h0.80v0.80h-0.80zM137.7 108.6h0.80v0.80h-0.80zM130.2 117.9h0.80v0.80h-0.80zM118.6 104.7h0.80v0.80h-0.80zM119.7 81.7h0.80v0.80h-0.80zM138.0 109.3h0.80v0.80h-0.80zM121.9 112.8h0.80v0.80h-0.80zM132.7 85.6h0.80v0.80h-0.80zM131.6 85.9h0.80v0.80h-0.80zM122.0 85.4h0.80v0.80h-0.80zM115.3 96.4h0.80v0.80h-0.80zM139.3 94.7h0.80v0.80h-0.80zM124.0 81.8h0.80v0.80h-0.80zM115.7 92.9h0.80v0.80h-0.80zM125.1 81.9h0.80v0.80h-0.80zM124.4 116.6h0.80v0.80h-0.80zM130.1 112.6h0.80v0.80h-0.80zM120.7 110.6h0.80v0.80h-0.80zM130.1 113.3h0.80v0.80h-0.80zM118.3 90.4h0.80v0.80h-0.80zM134.1 89.0h0.80v0.80h-0.80zM137.0 109.6h0.80v0.80h-0.80zM120.1 86.4h0.80v0.80h-0.80zM117.6 92.8h0.80v0.80h-0.80zM118.6 113.1h0.80v0.80h-0.80zM114.6 94.9h0.80v0.80h-0.80zM132.8 111.6h0.80v0.80h-0.80zM126.3 83.3h0.80v0.80h-0.80zM123.2 113.9h0.80v0.80h-0.80zM130.0 82.9h0.80v0.80h-0.80zM118.8 107.8h0.80v0.80h-0.80zM120.0 80.9h0.80v0.80h-0.80zM135.3 105.6h0.80v0.80h-0.80zM121.1 82.9h0.80v0.80h-0.80zM127.6 116.2h0.80v0.80h-0.80zM119.9 89.9h0.80v0.80h-0.80zM127.8 117.6h0.80v0.80h-0.80zM124.7 117.8h0.80v0.80h-0.80zM135.2 87.5h0.80v0.80h-0.80zM135.0 108.8h0.80v0.80h-0.80zM135.2 106.2h0.80v0.80h-0.80zM127.4 116.2h0.80v0.80h-0.80zM119.7 85.4h0.80v0.80h-0.80zM137.6 104.8h0.80v0.80h-0.80zM120.2 84.4h0.80v0.80h-0.80zM119.7 88.6h0.80v0.80h-0.80zM117.4 89.5h0.80v0.80h-0.80zM127.0 120.0h0.80v0.80h-0.80zM115.0 91.9h0.80v0.80h-0.80zM130.8 113.1h0.80v0.80h-0.80zM134.9 110.8h0.80v0.80h-0.80zM116.8 112.3h0.80v0.80h-0.80zM124.3 114.6h0.80v0.80h-0.80zM133.9 110.6h0.80v0.80h-0.80zM133.4 82.9h0.80v0.80h-0.80zM139.5 95.8h0.80v0.80h-0.80zM113.5 97.4h0.80v0.80h-0.80zM117.0 89.7h0.80v0.80h-0.80zM138.5 88.7h0.80v0.80h-0.80zM125.4 114.6h0.80v0.80h-0.80zM122.3 119.6h0.80v0.80h-0.80zM118.1 89.0h0.80v0.80h-0.80zM133.0 113.4h0.80v0.80h-0.80zM119.9 87.3h0.80v0.80h-0.80zM115.7 105.6h0.80v0.80h-0.80zM119.4 109.3h0.80v0.80h-0.80zM134.9 113.9h0.80v0.80h-0.80zM120.4 111.7h0.80v0.80h-0.80zM130.8 85.5h0.80v0.80h-0.80zM137.5 111.0h0.80v0.80h-0.80zM115.9 90.1h0.80v0.80h-0.80zM136.4 105.8h0.80v0.80h-0.80zM127.4 83.7h0.80v0.80h-0.80zM123.6 115.7h0.80v0.80h-0.80zM136.5 101.6h0.80v0.80h-0.80zM133.2 110.2h0.80v0.80h-0.80zM137.5 105.5h0.80v0.80h-0.80zM135.2 110.3h0.80v0.80h-0.80zM134.6 90.3h0.80v0.80h-0.80zM131.9 80.7h0.80v0.80h-0.80zM117.1 101.4h0.80v0.80h-0.80zM126.6 115.9h0.80v0.80h-0.80zM114.7 97.0h0.80v0.80h-0.80zM127.8 118.9h0.80v0.80h-0.80zM133.9 108.1h0.80v0.80h-0.80zM137.7 108.9h0.80v0.80h-0.80zM129.2 113.0h0.80v0.80h-0.80zM136.5 86.6h0.80v0.80h-0.80zM118.2 93.3h0.80v0.80h-0.80zM137.7 99.7h0.80v0.80h-0.80zM129.8 84.0h0.80v0.80h-0.80zM114.1 104.1h0.80v0.80h-0.80zM132.9 87.5h0.80v0.80h-0.80zM120.8 85.1h0.80v0.80h-0.80zM123.3 116.3h0.80v0.80h-0.80zM130.9 83.8h0.80v0.80h-0.80zM139.5 98.5h0.80v0.80h-0.80zM131.7 84.5h0.80v0.80h-0.80zM131.1 85.6h0.80v0.80h-0.80zM133.7 83.8h0.80v0.80h-0.80zM138.2 92.3h0.80v0.80h-0.80zM131.0 118.6h0.80v0.80h-0.80zM135.6 112.9h0.80v0.80h-0.80zM124.1 114.3h0.80v0.80h-0.80zM118.2 109.4h0.80v0.80h-0.80zM133.7 116.4h0.80v0.80h-0.80zM130.8 116.5h0.80v0.80h-0.80zM117.4 96.3h0.80v0.80h-0.80zM119.7 116.4h0.80v0.80h-0.80zM132.4 85.4h0.80v0.80h-0.80zM139.2 104.2h0.80v0.80h-0.80zM131.5 81.4h0.80v0.80h-0.80zM134.1 85.1h0.80v0.80h-0.80zM115.4 103.6h0.80v0.80h-0.80zM118.1 82.7h0.80v0.80h-0.80zM116.4 103.8h0.80v0.80h-0.80zM128.3 114.9h0.80v0.80h-0.80zM123.2 116.5h0.80v0.80h-0.80zM136.5 103.3h0.80v0.80h-0.80zM139.4 103.8h0.80v0.80h-0.80zM123.5 115.0h0.80v0.80h-0.80zM139.9 93.8h0.80v0.80h-0.80zM120.4 83.5h0.80v0.80h-0.80zM114.5 98.8h0.80v0.80h-0.80zM131.3 117.3h0.80v0.80h-0.80zM119.6 115.8h0.80v0.80h-0.80zM114.0 105.2h0.80v0.80h-0.80zM130.2 81.7h0.80v0.80h-0.80zM125.8 113.3h0.80v0.80h-0.80zM114.7 106.0h0.80v0.80h-0.80zM137.1 103.4h0.80v0.80h-0.80zM131.8 78.7h0.80v0.80h-0.80zM133.6 82.9h0.80v0.80h-0.80zM119.8 110.9h0.80v0.80h-0.80zM122.4 84.2h0.80v0.80h-0.80zM118.8 105.6h0.80v0.80h-0.80zM118.9 109.4h0.80v0.80h-0.80zM117.7 103.6h0.80v0.80h-0.80zM126.4 83.0h0.80v0.80h-0.80zM119.2 109.8h0.80v0.80h-0.80zM136.0 108.3h0.80v0.80h-0.80zM135.4 90.0h0.80v0.80h-0.80zM119.2 114.4h0.80v0.80h-0.80zM131.6 118.2h0.80v0.80h-0.80zM119.7 110.3h0.80v0.80h-0.80zM116.7 92.8h0.80v0.80h-0.80zM134.8 116.2h0.80v0.80h-0.80zM129.3 79.4h0.80v0.80h-0.80zM122.1 118.0h0.80v0.80h-0.80zM127.9 117.7h0.80v0.80h-0.80zM116.7 110.2h0.80v0.80h-0.80zM135.3 90.9h0.80v0.80h-0.80zM138.3 96.9h0.80v0.80h-0.80zM116.0 89.7h0.80v0.80h-0.80zM120.5 88.1h0.80v0.80h-0.80zM137.1 100.8h0.80v0.80h-0.80zM120.5 113.3h0.80v0.80h-0.80zM121.7 85.3h0.80v0.80h-0.80zM128.1 83.6h0.80v0.80h-0.80zM121.9 113.7h0.80v0.80h-0.80zM126.3 114.5h0.80v0.80h-0.80zM136.0 105.1h0.80v0.80h-0.80zM131.1 114.4h0.80v0.80h-0.80zM138.0 91.9h0.80v0.80h-0.80zM137.2 99.1h0.80v0.80h-0.80zM132.9 116.0h0.80v0.80h-0.80zM117.3 105.3h0.80v0.80h-0.80zM124.5 113.6h0.80v0.80h-0.80zM131.7 111.4h0.80v0.80h-0.80zM117.9 100.3h0.80v0.80h-0.80zM136.4 88.8h0.80v0.80h-0.80zM124.6 116.0h0.80v0.80h-0.80zM121.0 115.7h0.80v0.80h-0.80zM117.4 105.0h0.80v0.80h-0.80zM131.3 79.3h0.80v0.80h-0.80zM132.6 113.3h0.80v0.80h-0.80zM128.5 114.4h0.80v0.80h-0.80zM138.2 98.2h0.80v0.80h-0.80zM128.0 117.3h0.80v0.80h-0.80zM133.7 109.0h0.80v0.80h-0.80zM131.0 114.4h0.80v0.80h-0.80zM124.6 82.5h0.80v0.80h-0.80zM139.3 95.6h0.80v0.80h-0.80zM131.7 112.5h0.80v0.80h-0.80zM137.0 87.0h0.80v0.80h-0.80zM120.0 89.7h0.80v0.80h-0.80zM128.0 82.2h0.80v0.80h-0.80zM132.1 87.3h0.80v0.80h-0.80zM118.0 94.4h0.80v0.80h-0.80zM118.7 112.1h0.80v0.80h-0.80zM118.2 96.5h0.80v0.80h-0.80zM120.5 87.8h0.80v0.80h-0.80zM130.8 82.7h0.80v0.80h-0.80zM116.3 93.1h0.80v0.80h-0.80zM136.9 98.2h0.80v0.80h-0.80zM137.9 89.1h0.80v0.80h-0.80zM123.8 114.4h0.80v0.80h-0.80zM132.8 82.5h0.80v0.80h-0.80zM131.0 81.7h0.80v0.80h-0.80zM127.0 119.2h0.80v0.80h-0.80zM123.4 85.6h0.80v0.80h-0.80zM127.6 115.5h0.80v0.80h-0.80zM129.2 118.7h0.80v0.80h-0.80zM122.4 113.6h0.80v0.80h-0.80zM123.5 81.6h0.80v0.80h-0.80zM122.0 114.0h0.80v0.80h-0.80zM132.9 118.2h0.80v0.80h-0.80zM138.0 86.2h0.80v0.80h-0.80zM118.6 90.0h0.80v0.80h-0.80zM115.6 98.7h0.80v0.80h-0.80zM114.2 101.5h0.80v0.80h-0.80zM125.7 82.0h0.80v0.80h-0.80zM116.4 107.9h0.80v0.80h-0.80zM136.5 114.0h0.80v0.80h-0.80zM122.5 111.5h0.80v0.80h-0.80zM138.8 98.2h0.80v0.80h-0.80zM116.6 89.8h0.80v0.80h-0.80zM122.7 84.8h0.80v0.80h-0.80zM115.3 101.1h0.80v0.80h-0.80zM134.6 89.1h0.80v0.80h-0.80zM119.5 86.5h0.80v0.80h-0.80zM123.7 116.0h0.80v0.80h-0.80zM128.9 117.4h0.80v0.80h-0.80zM118.0 97.3h0.80v0.80h-0.80zM139.4 92.3h0.80v0.80h-0.80zM118.3 96.6h0.80v0.80h-0.80zM119.4 89.7h0.80v0.80h-0.80zM133.6 84.0h0.80v0.80h-0.80zM125.8 116.6h0.80v0.80h-0.80zM130.3 81.2h0.80v0.80h-0.80zM117.0 97.5h0.80v0.80h-0.80zM125.0 114.6h0.80v0.80h-0.80zM117.3 101.7h0.80v0.80h-0.80zM126.3 113.9h0.80v0.80h-0.80zM115.5 98.6h0.80v0.80h-0.80zM135.5 91.6h0.80v0.80h-0.80zM134.5 89.5h0.80v0.80h-0.80zM121.3 87.1h0.80v0.80h-0.80zM131.0 84.4h0.80v0.80h-0.80zM117.2 101.2h0.80v0.80h-0.80zM132.1 118.4h0.80v0.80h-0.80zM136.6 89.7h0.80v0.80h-0.80zM122.6 113.7h0.80v0.80h-0.80zM130.2 84.8h0.80v0.80h-0.80zM120.0 110.8h0.80v0.80h-0.80zM133.4 84.4h0.80v0.80h-0.80zM118.4 83.3h0.80v0.80h-0.80zM139.3 100.1h0.80v0.80h-0.80zM138.8 95.0h0.80v0.80h-0.80zM117.1 91.3h0.80v0.80h-0.80z" fill="#333" opacity="0.65"/>
<path d="M130.5 130.9h0.80v0.80h-0.80zM139.5 90.2h0.80v0.80h-0.80zM140.4 82.4h0.80v0.80h-0.80zM113.2 117.3h0.80v0.80h-0.80zM114.2 123.7h0.80v0.80h-0.80zM127.1 148.7h0.80v0.80h-0.80zM127.1 129.0h0.80v0.80h-0.80zM128.6 127.7h0.80v0.80h-0.80zM130.4 127.2h0.80v0.80h-0.80zM139.5 84.3h0.80v0.80h-0.80zM125.2 131.2h0.80v0.80h-0.80zM114.7 110.4h0.80v0.80h-0.80zM122.8 124.8h0.80v0.80h-0.80zM133.9 124.3h0.80v0.80h-0.80zM112.8 92.8h0.80v0.80h-0.80zM127.4 126.7h0.80v0.80h-0.80zM119.8 118.1h0.80v0.80h-0.80zM121.2 128.1h0.80v0.80h-0.80zM112.3 105.5h0.80v0.80h-0.80zM122.3 126.0h0.80v0.80h-0.80zM113.9 118.3h0.80v0.80h-0.80zM112.7 87.4h0.80v0.80h-0.80zM121.9 130.0h0.80v0.80h-0.80zM116.0 125.5h0.80v0.80h-0.80zM129.7 131.3h0.80v0.80h-0.80zM122.0 132.1h0.80v0.80h-0.80zM133.2 120.6h0.80v0.80h-0.80zM123.5 128.2h0.80v0.80h-0.80zM117.6 76.5h0.80v0.80h-0.80zM140.7 104.1h0.80v0.80h-0.80zM132.0 123.5h0.80v0.80h-0.80zM117.4 118.1h0.80v0.80h-0.80zM118.2 80.3h0.80v0.80h-0.80zM121.9 127.4h0.80v0.80h-0.80zM134.2 79.0h0.80v0.80h-0.80zM138.0 84.8h0.80v0.80h-0.80zM129.9 75.4h0.80v0.80h-0.80zM117.9 122.2h0.80v0.80h-0.80zM111.3 119.3h0.80v0.80h-0.80zM123.5 129.9h0.80v0.80h-0.80zM130.8 131.3h0.80v0.80h-0.80zM120.0 78.8h0.80v0.80h-0.80zM127.5 126.5h0.80v0.80h-0.80zM140.7 124.0h0.80v0.80h-0.80zM119.1 78.7h0.80v0.80h-0.80zM138.7 111.7h0.80v0.80h-0.80zM117.9 135.0h0.80v0.80h-0.80zM130.7 133.9h0.80v0.80h-0.80zM115.9 132.0h0.80v0.80h-0.80zM131.6 123.9h0.80v0.80h-0.80zM123.2 120.4h0.80v0.80h-0.80zM110.5 91.4h0.80v0.80h-0.80zM113.5 103.4h0.80v0.80h-0.80zM140.8 93.2h0.80v0.80h-0.80zM136.6 76.4h0.80v0.80h-0.80zM140.4 86.8h0.80v0.80h-0.80zM133.4 119.4h0.80v0.80h-0.80zM120.9 122.9h0.80v0.80h-0.80zM140.7 100.0h0.80v0.80h-0.80zM127.5 136.4h0.80v0.80h-0.80zM111.0 101.1h0.80v0.80h-0.80zM120.1 78.8h0.80v0.80h-0.80zM115.1 118.3h0.80v0.80h-0.80zM139.2 118.4h0.80v0.80h-0.80zM115.9 81.7h0.80v0.80h-0.80zM140.6 105.5h0.80v0.80h-0.80zM113.2 102.9h0.80v0.80h-0.80zM115.6 112.6h0.80v0.80h-0.80zM136.7 119.1h0.80v0.80h-0.80zM126.0 121.6h0.80v0.80h-0.80zM131.7 70.9h0.80v0.80h-0.80zM133.4 76.7h0.80v0.80h-0.80zM114.1 90.2h0.80v0.80h-0.80zM123.5 130.8h0.80v0.80h-0.80zM129.9 73.7h0.80v0.80h-0.80zM132.3 126.6h0.80v0.80h-0.80zM131.7 123.1h0.80v0.80h-0.80zM132.9 119.9h0.80v0.80h-0.80zM129.7 121.4h0.80v0.80h-0.80zM119.9 126.9h0.80v0.80h-0.80zM139.5 84.8h0.80v0.80h-0.80zM119.2 118.3h0.80v0.80h-0.80zM112.6 90.5h0.80v0.80h-0.80zM133.0 78.6h0.80v0.80h-0.80zM137.9 115.6h0.80v0.80h-0.80zM124.6 129.1h0.80v0.80h-0.80zM113.7 108.5h0.80v0.80h-0.80zM133.8 122.9h0.80v0.80h-0.80zM121.7 76.5h0.80v0.80h-0.80zM117.8 118.8h0.80v0.80h-0.80zM136.1 81.1h0.80v0.80h-0.80zM115.8 114.2h0.80v0.80h-0.80zM112.8 87.9h0.80v0.80h-0.80zM130.3 145.6h0.80v0.80h-0.80zM127.7 124.4h0.80v0.80h-0.80zM140.4 132.1h0.80v0.80h-0.80zM135.6 123.6h0.80v0.80h-0.80zM112.8 83.3h0.80v0.80h-0.80zM124.0 126.8h0.80v0.80h-0.80zM124.3 140.9h0.80v0.80h-0.80zM117.5 120.5h0.80v0.80h-0.80zM127.5 122.6h0.80v0.80h-0.80zM125.8 122.9h0.80v0.80h-0.80zM132.1 78.4h0.80v0.80h-0.80zM123.9 127.0h0.80v0.80h-0.80zM114.7 119.2h0.80v0.80h-0.80zM112.5 102.3h0.80v0.80h-0.80zM109.3 115.6h0.80v0.80h-0.80zM128.4 129.2h0.80v0.80h-0.80zM129.7 121.0h0.80v0.80h-0.80zM134.5 79.9h0.80v0.80h-0.80zM137.1 119.1h0.80v0.80h-0.80zM115.2 85.2h0.80v0.80h-0.80zM119.8 75.5h0.80v0.80h-0.80zM131.8 123.5h0.80v0.80h-0.80zM137.1 114.3h0.80v0.80h-0.80zM116.2 122.9h0.80v0.80h-0.80zM111.3 85.0h0.80v0.80h-0.80zM130.2 77.1h0.80v0.80h-0.80zM117.7 120.0h0.80v0.80h-0.80zM110.5 115.9h0.80v0.80h-0.80zM134.1 69.8h0.80v0.80h-0.80zM114.0 121.2h0.80v0.80h-0.80zM139.0 68.8h0.80v0.80h-0.80zM135.6 118.8h0.80v0.80h-0.80zM123.8 124.1h0.80v0.80h-0.80zM118.6 136.7h0.80v0.80h-0.80zM129.0 127.9h0.80v0.80h-0.80zM119.2 123.7h0.80v0.80h-0.80zM112.2 113.0h0.80v0.80h-0.80zM118.6 80.3h0.80v0.80h-0.80zM129.0 77.0h0.80v0.80h-0.80zM110.6 98.0h0.80v0.80h-0.80zM137.2 80.4h0.80v0.80h-0.80zM118.0 120.8h0.80v0.80h-0.80zM132.7 123.6h0.80v0.80h-0.80zM136.4 78.3h0.80v0.80h-0.80zM132.1 123.1h0.80v0.80h-0.80zM125.8 126.5h0.80v0.80h-0.80zM113.9 129.5h0.80v0.80h-0.80zM131.7 120.5h0.80v0.80h-0.80zM126.5 122.5h0.80v0.80h-0.80zM131.7 123.7h0.80v0.80h-0.80zM118.1 122.1h0.80v0.80h-0.80zM139.4 109.5h0.80v0.80h-0.80zM137.5 118.3h0.80v0.80h-0.80zM131.5 123.2h0.80v0.80h-0.80zM125.8 135.9h0.80v0.80h-0.80zM116.9 81.9h0.80v0.80h-0.80zM115.4 118.7h0.80v0.80h-0.80zM125.5 132.5h0.80v0.80h-0.80zM118.0 76.0h0.80v0.80h-0.80zM138.1 130.6h0.80v0.80h-0.80zM117.2 79.2h0.80v0.80h-0.80zM129.2 125.0h0.80v0.80h-0.80zM121.8 130.4h0.80v0.80h-0.80zM113.0 106.3h0.80v0.80h-0.80zM133.1 123.0h0.80v0.80h-0.80zM137.1 119.5h0.80v0.80h-0.80zM138.3 111.5h0.80v0.80h-0.80zM129.2 123.8h0.80v0.80h-0.80zM112.9 97.8h0.80v0.80h-0.80zM120.4 71.3h0.80v0.80h-0.80zM119.2 117.5h0.80v0.80h-0.80zM118.6 127.1h0.80v0.80h-0.80zM139.8 85.7h0.80v0.80h-0.80zM132.6 74.1h0.80v0.80h-0.80zM140.0 114.2h0.80v0.80h-0.80zM120.4 122.0h0.80v0.80h-0.80zM129.1 126.9h0.80v0.80h-0.80zM139.4 88.9h0.80v0.80h-0.80zM129.6 130.9h0.80v0.80h-0.80zM122.0 124.0h0.80v0.80h-0.80zM111.4 97.6h0.80v0.80h-0.80zM136.4 82.4h0.80v0.80h-0.80zM128.0 126.9h0.80v0.80h-0.80zM125.8 129.4h0.80v0.80h-0.80zM112.1 114.5h0.80v0.80h-0.80zM121.3 127.6h0.80v0.80h-0.80zM115.9 81.0h0.80v0.80h-0.80zM121.3 72.3h0.80v0.80h-0.80zM115.7 85.0h0.80v0.80h-0.80zM128.3 135.7h0.80v0.80h-0.80zM115.2 87.2h0.80v0.80h-0.80zM138.0 74.5h0.80v0.80h-0.80zM136.3 117.2h0.80v0.80h-0.80zM140.6 108.8h0.80v0.80h-0.80zM115.2 114.8h0.80v0.80h-0.80zM125.3 122.5h0.80v0.80h-0.80zM134.5 78.6h0.80v0.80h-0.80zM115.6 115.6h0.80v0.80h-0.80zM122.7 140.4h0.80v0.80h-0.80zM140.6 93.2h0.80v0.80h-0.80zM116.8 82.3h0.80v0.80h-0.80zM127.5 128.1h0.80v0.80h-0.80zM133.3 75.1h0.80v0.80h-0.80zM127.4 126.0h0.80v0.80h-0.80zM140.6 85.2h0.80v0.80h-0.80zM120.1 79.9h0.80v0.80h-0.80zM130.6 75.2h0.80v0.80h-0.80zM127.1 131.7h0.80v0.80h-0.80zM120.9 121.3h0.80v0.80h-0.80zM121.4 122.1h0.80v0.80h-0.80zM129.5 73.0h0.80v0.80h-0.80zM111.9 106.1h0.80v0.80h-0.80zM138.7 87.6h0.80v0.80h-0.80zM135.6 116.9h0.80v0.80h-0.80zM127.8 123.3h0.80v0.80h-0.80zM132.1 129.9h0.80v0.80h-0.80zM136.7 119.5h0.80v0.80h-0.80zM135.1 81.2h0.80v0.80h-0.80zM121.5 127.4h0.80v0.80h-0.80zM137.7 85.0h0.80v0.80h-0.80zM134.7 121.1h0.80v0.80h-0.80zM138.8 121.3h0.80v0.80h-0.80zM135.9 125.7h0.80v0.80h-0.80zM129.5 134.5h0.80v0.80h-0.80zM114.0 90.9h0.80v0.80h-0.80zM115.2 111.6h0.80v0.80h-0.80zM140.0 116.4h0.80v0.80h-0.80zM133.6 135.7h0.80v0.80h-0.80zM131.7 123.7h0.80v0.80h-0.80zM113.0 108.2h0.80v0.80h-0.80zM124.5 122.0h0.80v0.80h-0.80zM122.0 122.0h0.80v0.80h-0.80zM139.8 87.6h0.80v0.80h-0.80zM139.9 91.3h0.80v0.80h-0.80zM114.0 91.1h0.80v0.80h-0.80zM116.7 120.4h0.80v0.80h-0.80zM126.8 129.6h0.80v0.80h-0.80zM113.5 104.6h0.80v0.80h-0.80zM131.4 69.3h0.80v0.80h-0.80zM113.3 102.4h0.80v0.80h-0.80zM139.7 86.7h0.80v0.80h-0.80zM131.5 128.4h0.80v0.80h-0.80zM132.7 122.5h0.80v0.80h-0.80zM121.1 76.4h0.80v0.80h-0.80zM136.7 80.7h0.80v0.80h-0.80zM123.9 122.8h0.80v0.80h-0.80zM135.9 76.8h0.80v0.80h-0.80zM129.7 127.6h0.80v0.80h-0.80zM119.7 123.1h0.80v0.80h-0.80zM136.8 82.0h0.80v0.80h-0.80zM129.0 137.8h0.80v0.80h-0.80zM118.4 117.2h0.80v0.80h-0.80zM138.4 112.2h0.80v0.80h-0.80zM131.4 120.7h0.80v0.80h-0.80zM124.2 132.9h0.80v0.80h-0.80zM120.3 133.2h0.80v0.80h-0.80zM121.3 128.8h0.80v0.80h-0.80zM139.6 89.5h0.80v0.80h-0.80zM122.6 124.6h0.80v0.80h-0.80zM140.5 117.6h0.80v0.80h-0.80zM132.4 124.7h0.80v0.80h-0.80zM119.2 119.4h0.80v0.80h-0.80zM134.9 128.2h0.80v0.80h-0.80zM111.4 92.1h0.80v0.80h-0.80zM138.6 86.0h0.80v0.80h-0.80zM119.7 120.7h0.80v0.80h-0.80zM139.4 87.0h0.80v0.80h-0.80zM134.7 123.4h0.80v0.80h-0.80zM114.3 119.6h0.80v0.80h-0.80zM137.1 117.8h0.80v0.80h-0.80zM119.8 118.7h0.80v0.80h-0.80zM120.7 79.5h0.80v0.80h-0.80zM139.3 108.5h0.80v0.80h-0.80zM131.1 120.4h0.80v0.80h-0.80zM137.2 121.7h0.80v0.80h-0.80zM115.3 119.8h0.80v0.80h-0.80zM115.1 84.3h0.80v0.80h-0.80zM127.3 135.0h0.80v0.80h-0.80zM133.9 79.1h0.80v0.80h-0.80zM140.2 91.1h0.80v0.80h-0.80zM118.7 121.1h0.80v0.80h-0.80zM135.7 121.7h0.80v0.80h-0.80zM135.6 79.2h0.80v0.80h-0.80zM132.5 74.2h0.80v0.80h-0.80zM139.7 78.7h0.80v0.80h-0.80zM123.1 128.7h0.80v0.80h-0.80zM119.5 139.7h0.80v0.80h-0.80zM135.6 126.5h0.80v0.80h-0.80zM112.2 91.5h0.80v0.80h-0.80zM132.7 129.0h0.80v0.80h-0.80zM116.6 83.2h0.80v0.80h-0.80zM122.9 142.0h0.80v0.80h-0.80zM115.7 120.0h0.80v0.80h-0.80zM130.2 74.0h0.80v0.80h-0.80zM136.9 120.4h0.80v0.80h-0.80zM113.6 111.7h0.80v0.80h-0.80zM140.8 91.0h0.80v0.80h-0.80zM116.0 112.6h0.80v0.80h-0.80zM133.3 118.9h0.80v0.80h-0.80z" fill="#777" opacity="0.45"/>
<path d="M135.00,97.00 L135.10,98.72 L135.05,100.42 L134.85,102.05 L134.49,103.60 L133.97,105.04 L133.31,106.33 L132.50,107.47 L131.56,108.43 L130.52,109.20 L129.40,109.75 L128.21,110.09 L127.00,110.20 L125.79,110.09 L124.60,109.75 L123.48,109.20 L122.44,108.43 L121.50,107.47 L120.69,106.33 L120.03,105.04 L119.51,103.60 L119.15,102.05 L118.95,100.42 L118.90,98.72 L119.00,97.00 L119.24,95.28 L119.60,93.58 L120.07,91.95 L120.64,90.40 L121.28,88.96 L122.00,87.67 L122.76,86.53 L123.56,85.57 L124.40,84.80 L125.26,84.25 L126.12,83.91 L127.00,83.80 L127.88,83.91 L128.74,84.25 L129.60,84.80 L130.44,85.57 L131.24,86.53 L132.00,87.67 L132.72,88.96 L133.36,90.40 L133.93,91.95 L134.40,93.58 L134.76,95.28Z" fill="#e4e4e4" stroke="#444" stroke-width="0.9"/>
<path d="M134.01,97.00 L134.08,98.48 L134.01,99.93 L133.82,101.33 L133.49,102.66 L133.03,103.89 L132.44,105.00 L131.73,105.98 L130.92,106.80 L130.02,107.45 L129.05,107.93 L128.04,108.22 L127.00,108.31 L125.96,108.22 L124.95,107.93 L123.98,107.45 L123.08,106.80 L122.27,105.98 L121.56,105.00 L120.97,103.89 L120.51,102.66 L120.18,101.33 L119.99,99.93 L119.92,98.48 L119.99,97.00 L120.17,95.52 L120.46,94.07 L120.86,92.67 L121.34,91.34 L121.90,90.11 L122.52,89.00 L123.19,88.02 L123.91,87.20 L124.65,86.55 L125.42,86.07 L126.21,85.78 L127.00,85.69 L127.79,85.78 L128.58,86.07 L129.35,86.55 L130.09,87.20 L130.81,88.02 L131.48,89.00 L132.10,90.11 L132.66,91.34 L133.14,92.67 L133.54,94.07 L133.83,95.52Z" fill="none" stroke="#a4a4a4" stroke-width="0.5"/>
<path d="M132.98,97.00 L133.01,98.23 L132.94,99.44 L132.76,100.61 L132.47,101.71 L132.06,102.74 L131.56,103.67 L130.96,104.48 L130.28,105.17 L129.52,105.71 L128.71,106.11 L127.87,106.35 L127.00,106.43 L126.13,106.35 L125.29,106.11 L124.48,105.71 L123.72,105.17 L123.04,104.48 L122.44,103.67 L121.94,102.74 L121.53,101.71 L121.24,100.61 L121.06,99.44 L120.99,98.23 L121.02,97.00 L121.16,95.77 L121.39,94.56 L121.71,93.39 L122.11,92.29 L122.58,91.26 L123.10,90.33 L123.68,89.52 L124.30,88.83 L124.95,88.29 L125.62,87.89 L126.31,87.65 L127.00,87.57 L127.69,87.65 L128.38,87.89 L129.05,88.29 L129.70,88.83 L130.32,89.52 L130.90,90.33 L131.42,91.26 L131.89,92.29 L132.29,93.39 L132.61,94.56 L132.84,95.77Z" fill="none" stroke="#a4a4a4" stroke-width="0.5"/>
<path d="M131.89,97.00 L131.90,97.98 L131.83,98.95 L131.67,99.89 L131.42,100.77 L131.08,101.59 L130.67,102.33 L130.18,102.98 L129.63,103.53 L129.02,103.97 L128.37,104.29 L127.69,104.48 L127.00,104.54 L126.31,104.48 L125.63,104.29 L124.98,103.97 L124.37,103.53 L123.82,102.98 L123.33,102.33 L122.92,101.59 L122.58,100.77 L122.33,99.89 L122.17,98.95 L122.10,97.98 L122.11,97.00 L122.21,96.02 L122.38,95.05 L122.63,94.11 L122.95,93.23 L123.33,92.41 L123.76,91.67 L124.23,91.02 L124.74,90.47 L125.28,90.03 L125.84,89.71 L126.42,89.52 L127.00,89.46 L127.58,89.52 L128.16,89.71 L128.72,90.03 L129.26,90.47 L129.77,91.02 L130.24,91.67 L130.67,92.41 L131.05,93.23 L131.37,94.11 L131.62,95.05 L131.79,96.02Z" fill="none" stroke="#a4a4a4" stroke-width="0.5"/>
<path d="M130.75,97.00 L130.75,97.74 L130.68,98.46 L130.55,99.16 L130.35,99.83 L130.09,100.44 L129.77,101.00 L129.40,101.49 L128.98,101.90 L128.52,102.23 L128.03,102.46 L127.52,102.61 L127.00,102.66 L126.48,102.61 L125.97,102.46 L125.48,102.23 L125.02,101.90 L124.60,101.49 L124.23,101.00 L123.91,100.44 L123.65,99.83 L123.45,99.16 L123.32,98.46 L123.25,97.74 L123.25,97.00 L123.32,96.26 L123.44,95.54 L123.62,94.84 L123.86,94.17 L124.14,93.56 L124.47,93.00 L124.83,92.51 L125.23,92.10 L125.65,91.77 L126.09,91.54 L126.54,91.39 L127.00,91.34 L127.46,91.39 L127.91,91.54 L128.35,91.77 L128.77,92.10 L129.17,92.51 L129.53,93.00 L129.86,93.56 L130.14,94.17 L130.38,94.84 L130.56,95.54 L130.68,96.26Z" fill="none" stroke="#a4a4a4" stroke-width="0.5"/>
<path d="M129.55,97.00 L129.54,97.49 L129.49,97.98 L129.39,98.44 L129.26,98.89 L129.08,99.30 L128.86,99.67 L128.60,99.99 L128.32,100.27 L128.01,100.48 L127.69,100.64 L127.35,100.74 L127.00,100.77 L126.65,100.74 L126.31,100.64 L125.99,100.48 L125.68,100.27 L125.40,99.99 L125.14,99.67 L124.92,99.30 L124.74,98.89 L124.61,98.44 L124.51,97.98 L124.46,97.49 L124.45,97.00 L124.48,96.51 L124.56,96.02 L124.68,95.56 L124.84,95.11 L125.03,94.70 L125.25,94.33 L125.50,94.01 L125.77,93.73 L126.06,93.52 L126.37,93.36 L126.68,93.26 L127.00,93.23 L127.32,93.26 L127.63,93.36 L127.94,93.52 L128.23,93.73 L128.50,94.01 L128.75,94.33 L128.97,94.70 L129.16,95.11 L129.32,95.56 L129.44,96.02 L129.52,96.51Z" fill="none" stroke="#a4a4a4" stroke-width="0.5"/>
<path d="M128.30,97.00 L128.29,97.25 L128.26,97.49 L128.21,97.72 L128.14,97.94 L128.05,98.15 L127.93,98.33 L127.81,98.50 L127.66,98.63 L127.51,98.74 L127.34,98.82 L127.17,98.87 L127.00,98.89 L126.83,98.87 L126.66,98.82 L126.49,98.74 L126.34,98.63 L126.19,98.50 L126.07,98.33 L125.95,98.15 L125.86,97.94 L125.79,97.72 L125.74,97.49 L125.71,97.25 L125.70,97.00 L125.71,96.75 L125.75,96.51 L125.81,96.28 L125.88,96.06 L125.98,95.85 L126.09,95.67 L126.22,95.50 L126.36,95.37 L126.51,95.26 L126.67,95.18 L126.83,95.13 L127.00,95.11 L127.17,95.13 L127.33,95.18 L127.49,95.26 L127.64,95.37 L127.78,95.50 L127.91,95.67 L128.02,95.85 L128.12,96.06 L128.19,96.28 L128.25,96.51 L128.29,96.75Z" fill="none" stroke="#a4a4a4" stroke-width="0.5"/>
<circle cx="127.5" cy="96" r="0.9" fill="#fff"/>
<path d="M129.30,73.50 L129.27,74.58 L129.18,75.65 L129.03,76.68 L128.82,77.65 L128.56,78.55 L128.25,79.37 L127.89,80.08 L127.50,80.69 L127.08,81.17 L126.63,81.52 L126.17,81.73 L125.70,81.80 L125.23,81.73 L124.77,81.52 L124.32,81.17 L123.90,80.69 L123.51,80.08 L123.15,79.37 L122.84,78.55 L122.58,77.65 L122.37,76.68 L122.22,75.65 L122.13,74.58 L122.10,73.50 L122.13,72.42 L122.22,71.35 L122.37,70.32 L122.58,69.35 L122.84,68.45 L123.15,67.63 L123.51,66.92 L123.90,66.31 L124.32,65.83 L124.77,65.48 L125.23,65.27 L125.70,65.20 L126.17,65.27 L126.63,65.48 L127.08,65.83 L127.50,66.31 L127.89,66.92 L128.25,67.63 L128.56,68.45 L128.82,69.35 L129.03,70.32 L129.18,71.35 L129.27,72.42Z" fill="#f8f8f8" stroke="#555" stroke-width="0.9"/>
<path d="M128.10,73.50 L128.08,74.22 L128.02,74.93 L127.92,75.62 L127.78,76.27 L127.60,76.87 L127.40,77.41 L127.16,77.89 L126.90,78.29 L126.62,78.61 L126.32,78.84 L126.01,78.99 L125.70,79.03 L125.39,78.99 L125.08,78.84 L124.78,78.61 L124.50,78.29 L124.24,77.89 L124.00,77.41 L123.80,76.87 L123.62,76.27 L123.48,75.62 L123.38,74.93 L123.32,74.22 L123.30,73.50 L123.32,72.78 L123.38,72.07 L123.48,71.38 L123.62,70.73 L123.80,70.13 L124.00,69.59 L124.24,69.11 L124.50,68.71 L124.78,68.39 L125.08,68.16 L125.39,68.01 L125.70,67.97 L126.01,68.01 L126.32,68.16 L126.62,68.39 L126.90,68.71 L127.16,69.11 L127.40,69.59 L127.60,70.13 L127.78,70.73 L127.92,71.38 L128.02,72.07 L128.08,72.78Z" fill="none" stroke="#b0b0b0" stroke-width="0.5"/>
<path d="M126.90,73.50 L126.89,73.86 L126.86,74.22 L126.81,74.56 L126.74,74.88 L126.65,75.18 L126.55,75.46 L126.43,75.69 L126.30,75.90 L126.16,76.06 L126.01,76.17 L125.86,76.24 L125.70,76.27 L125.54,76.24 L125.39,76.17 L125.24,76.06 L125.10,75.90 L124.97,75.69 L124.85,75.46 L124.75,75.18 L124.66,74.88 L124.59,74.56 L124.54,74.22 L124.51,73.86 L124.50,73.50 L124.51,73.14 L124.54,72.78 L124.59,72.44 L124.66,72.12 L124.75,71.82 L124.85,71.54 L124.97,71.31 L125.10,71.10 L125.24,70.94 L125.39,70.83 L125.54,70.76 L125.70,70.73 L125.86,70.76 L126.01,70.83 L126.16,70.94 L126.30,71.10 L126.43,71.31 L126.55,71.54 L126.65,71.82 L126.74,72.12 L126.81,72.44 L126.86,72.78 L126.89,73.14Z" fill="none" stroke="#b0b0b0" stroke-width="0.5"/>
<rect x="108.3" y="41.6" width="33.3" height="85.8" fill="none" stroke="#333" stroke-width="1"/>
<line x1="108.3" y1="82.4" x2="141.6" y2="82.4" stroke="#222" stroke-width="1"/>
<rect x="48.5" y="173.7" width="107.0" height="107.0" fill="none" stroke="#c4c4c4" stroke-width="1"/>
<line x1="45.9" y1="207.5" x2="48.5" y2="207.5" stroke="#333" stroke-width="1"/>
<text x="34.30" y="211.40" font-size="6.0" fill="#222" stroke="#222" stroke-width="0.15" text-anchor="start">10<tspan font-size="5.10" dy="-3.00">4</tspan></text>
<line x1="45.9" y1="243.79999999999998" x2="48.5" y2="243.79999999999998" stroke="#333" stroke-width="1"/>
<text x="34.30" y="247.70" font-size="6.0" fill="#222" stroke="#222" stroke-width="0.15" text-anchor="start">10<tspan font-size="5.10" dy="-3.00">3</tspan></text>
<line x1="45.9" y1="279.9" x2="48.5" y2="279.9" stroke="#333" stroke-width="1"/>
<text x="34.30" y="283.80" font-size="6.0" fill="#222" stroke="#222" stroke-width="0.15" text-anchor="start">10<tspan font-size="5.10" dy="-3.00">2</tspan></text>
<rect x="47.4" y="268.50" width="1.1" height="1" fill="#444"/>
<rect x="47.4" y="262.13" width="1.1" height="1" fill="#444"/>
<rect x="47.4" y="257.61" width="1.1" height="1" fill="#444"/>
<rect x="47.4" y="254.10" width="1.1" height="1" fill="#444"/>
<rect x="47.4" y="251.23" width="1.1" height="1" fill="#444"/>
<rect x="47.4" y="248.81" width="1.1" height="1" fill="#444"/>
<rect x="47.4" y="246.71" width="1.1" height="1" fill="#444"/>
<rect x="47.4" y="244.86" width="1.1" height="1" fill="#444"/>
<rect x="47.4" y="232.40" width="1.1" height="1" fill="#444"/>
<rect x="47.4" y="226.03" width="1.1" height="1" fill="#444"/>
<rect x="47.4" y="221.51" width="1.1" height="1" fill="#444"/>
<rect x="47.4" y="218.00" width="1.1" height="1" fill="#444"/>
<rect x="47.4" y="215.13" width="1.1" height="1" fill="#444"/>
<rect x="47.4" y="212.71" width="1.1" height="1" fill="#444"/>
<rect x="47.4" y="210.61" width="1.1" height="1" fill="#444"/>
<rect x="47.4" y="208.76" width="1.1" height="1" fill="#444"/>
<rect x="47.4" y="196.10" width="1.1" height="1" fill="#444"/>
<rect x="47.4" y="189.73" width="1.1" height="1" fill="#444"/>
<rect x="47.4" y="185.21" width="1.1" height="1" fill="#444"/>
<rect x="47.4" y="181.70" width="1.1" height="1" fill="#444"/>
<rect x="47.4" y="178.83" width="1.1" height="1" fill="#444"/>
<rect x="47.4" y="176.41" width="1.1" height="1" fill="#444"/>
<rect x="47.4" y="174.31" width="1.1" height="1" fill="#444"/>
<line x1="55.6" y1="280.7" x2="55.6" y2="283.3" stroke="#333" stroke-width="1"/>
<line x1="74.5" y1="280.7" x2="74.5" y2="283.3" stroke="#333" stroke-width="1"/>
<line x1="90.3" y1="280.7" x2="90.3" y2="283.3" stroke="#333" stroke-width="1"/>
<line x1="119.5" y1="280.7" x2="119.5" y2="283.3" stroke="#333" stroke-width="1"/>
<line x1="148.7" y1="280.7" x2="148.7" y2="283.3" stroke="#333" stroke-width="1"/>
<rect x="59.00" y="280.7" width="1" height="1.4" fill="#444"/>
<rect x="62.50" y="280.7" width="1" height="1.4" fill="#444"/>
<rect x="66.00" y="280.7" width="1" height="1.4" fill="#444"/>
<rect x="69.50" y="280.7" width="1" height="1.4" fill="#444"/>
<rect x="77.50" y="280.7" width="1" height="1.4" fill="#444"/>
<rect x="81.00" y="280.7" width="1" height="1.4" fill="#444"/>
<rect x="84.50" y="280.7" width="1" height="1.4" fill="#444"/>
<rect x="87.00" y="280.7" width="1" height="1.4" fill="#444"/>
<rect x="98.59" y="280.7" width="1" height="1.4" fill="#444"/>
<rect x="103.73" y="280.7" width="1" height="1.4" fill="#444"/>
<rect x="107.38" y="280.7" width="1" height="1.4" fill="#444"/>
<rect x="110.21" y="280.7" width="1" height="1.4" fill="#444"/>
<rect x="112.52" y="280.7" width="1" height="1.4" fill="#444"/>
<rect x="114.48" y="280.7" width="1" height="1.4" fill="#444"/>
<rect x="116.17" y="280.7" width="1" height="1.4" fill="#444"/>
<rect x="117.66" y="280.7" width="1" height="1.4" fill="#444"/>
<rect x="127.79" y="280.7" width="1" height="1.4" fill="#444"/>
<rect x="132.93" y="280.7" width="1" height="1.4" fill="#444"/>
<rect x="136.58" y="280.7" width="1" height="1.4" fill="#444"/>
<rect x="139.41" y="280.7" width="1" height="1.4" fill="#444"/>
<rect x="141.72" y="280.7" width="1" height="1.4" fill="#444"/>
<rect x="143.68" y="280.7" width="1" height="1.4" fill="#444"/>
<rect x="145.37" y="280.7" width="1" height="1.4" fill="#444"/>
<rect x="146.86" y="280.7" width="1" height="1.4" fill="#444"/>
<rect x="70.6" y="280.09999999999997" width="5" height="2.2" fill="#111"/>
<text x="53.2" y="292.0" font-size="6.6" fill="#222" stroke="#222" stroke-width="0.15">-10<tspan font-size="5.28" dy="-3.3">3</tspan></text>
<text x="73.00" y="292.00" font-size="6.6" text-anchor="start" font-weight="normal" fill="#222" stroke="#222" stroke-width="0.22" >0</text>
<text x="89.60" y="292.00" font-size="6.6" fill="#222" stroke="#222" stroke-width="0.15" text-anchor="start">10<tspan font-size="5.61" dy="-3.30">3</tspan></text>
<text x="118.80" y="292.00" font-size="6.6" fill="#222" stroke="#222" stroke-width="0.15" text-anchor="start">10<tspan font-size="5.61" dy="-3.30">4</tspan></text>
<text x="144.40" y="292.00" font-size="6.6" fill="#222" stroke="#222" stroke-width="0.15" text-anchor="start">10<tspan font-size="5.61" dy="-3.30">5</tspan></text>
<text x="101.80" y="306.40" font-size="10" text-anchor="middle" font-weight="normal" fill="#000" stroke="#000" stroke-width="0.18" >CD4 BV785</text>
<text x="0" y="0" font-size="10" text-anchor="middle" stroke="#000" stroke-width="0.2" transform="translate(21.6,226.79999999999998) rotate(-90)">FOXP3 PE-EF610</text>
<text x="51.20" y="186.80" font-size="15.4" text-anchor="start" font-weight="normal" fill="#000" stroke="#000" stroke-width="0.18" >TUM</text>
<text x="94.90" y="208.80" font-size="10.0" text-anchor="middle" font-weight="normal" fill="#000" stroke="#000" stroke-width="0.18" >Treg</text>
<text x="94.40" y="219.40" font-size="10.0" text-anchor="middle" font-weight="normal" fill="#000" stroke="#000" stroke-width="0.18" >24.6</text>
<text x="95.70" y="248.40" font-size="10.0" text-anchor="middle" font-weight="normal" fill="#000" stroke="#000" stroke-width="0.18" >Tconv</text>
<text x="95.50" y="260.00" font-size="10.0" text-anchor="middle" font-weight="normal" fill="#000" stroke="#000" stroke-width="0.18" >75.3</text>
<path d="M129.4 208.2h0.80v0.80h-0.80zM134.6 216.1h0.80v0.80h-0.80zM117.9 215.8h0.80v0.80h-0.80zM133.4 213.3h0.80v0.80h-0.80zM122.6 209.3h0.80v0.80h-0.80zM129.2 208.9h0.80v0.80h-0.80zM119.0 210.8h0.80v0.80h-0.80zM121.3 212.0h0.80v0.80h-0.80zM134.1 215.8h0.80v0.80h-0.80zM120.2 210.9h0.80v0.80h-0.80zM126.6 209.8h0.80v0.80h-0.80zM132.7 210.1h0.80v0.80h-0.80zM123.7 208.5h0.80v0.80h-0.80zM119.8 211.2h0.80v0.80h-0.80zM131.8 210.2h0.80v0.80h-0.80zM121.7 211.4h0.80v0.80h-0.80zM121.4 211.8h0.80v0.80h-0.80zM128.6 208.5h0.80v0.80h-0.80zM131.1 208.8h0.80v0.80h-0.80zM125.8 208.5h0.80v0.80h-0.80zM132.2 210.8h0.80v0.80h-0.80zM120.9 210.9h0.80v0.80h-0.80zM121.8 209.8h0.80v0.80h-0.80zM132.6 211.1h0.80v0.80h-0.80zM128.7 210.3h0.80v0.80h-0.80zM126.3 206.2h0.80v0.80h-0.80zM127.0 206.2h0.80v0.80h-0.80zM124.3 208.1h0.80v0.80h-0.80zM132.7 212.2h0.80v0.80h-0.80zM129.0 208.8h0.80v0.80h-0.80zM130.1 208.4h0.80v0.80h-0.80zM128.0 209.8h0.80v0.80h-0.80zM122.7 207.7h0.80v0.80h-0.80zM124.9 209.9h0.80v0.80h-0.80zM134.6 215.3h0.80v0.80h-0.80zM123.0 207.0h0.80v0.80h-0.80zM124.8 209.0h0.80v0.80h-0.80zM125.2 208.3h0.80v0.80h-0.80zM130.4 208.9h0.80v0.80h-0.80zM131.0 208.6h0.80v0.80h-0.80zM134.7 216.0h0.80v0.80h-0.80zM126.8 209.0h0.80v0.80h-0.80zM122.1 210.5h0.80v0.80h-0.80zM117.4 217.4h0.80v0.80h-0.80zM125.9 210.4h0.80v0.80h-0.80zM131.4 210.6h0.80v0.80h-0.80zM125.6 206.1h0.80v0.80h-0.80zM129.8 208.1h0.80v0.80h-0.80zM126.3 210.4h0.80v0.80h-0.80zM126.6 206.8h0.80v0.80h-0.80zM132.4 211.5h0.80v0.80h-0.80zM123.4 208.5h0.80v0.80h-0.80zM133.2 210.6h0.80v0.80h-0.80zM122.5 209.4h0.80v0.80h-0.80zM127.0 209.4h0.80v0.80h-0.80zM125.3 210.5h0.80v0.80h-0.80zM124.8 208.4h0.80v0.80h-0.80zM132.6 210.9h0.80v0.80h-0.80zM134.7 216.1h0.80v0.80h-0.80zM129.3 207.3h0.80v0.80h-0.80zM133.3 213.4h0.80v0.80h-0.80zM119.0 212.5h0.80v0.80h-0.80zM121.1 209.4h0.80v0.80h-0.80zM123.4 210.1h0.80v0.80h-0.80zM125.3 207.0h0.80v0.80h-0.80zM118.6 214.9h0.80v0.80h-0.80zM122.3 210.2h0.80v0.80h-0.80zM125.9 206.9h0.80v0.80h-0.80zM125.6 208.8h0.80v0.80h-0.80zM128.7 207.9h0.80v0.80h-0.80zM128.1 208.5h0.80v0.80h-0.80zM129.7 210.2h0.80v0.80h-0.80zM129.2 210.5h0.80v0.80h-0.80zM126.5 207.3h0.80v0.80h-0.80zM128.6 208.2h0.80v0.80h-0.80zM125.3 208.4h0.80v0.80h-0.80zM127.3 209.8h0.80v0.80h-0.80zM123.1 208.4h0.80v0.80h-0.80zM129.7 208.0h0.80v0.80h-0.80zM131.2 207.9h0.80v0.80h-0.80zM121.0 211.3h0.80v0.80h-0.80zM123.4 207.5h0.80v0.80h-0.80zM132.5 213.4h0.80v0.80h-0.80zM127.2 209.8h0.80v0.80h-0.80zM124.7 207.3h0.80v0.80h-0.80zM133.6 211.3h0.80v0.80h-0.80zM133.8 214.4h0.80v0.80h-0.80zM127.6 210.1h0.80v0.80h-0.80zM132.0 211.4h0.80v0.80h-0.80zM121.3 208.4h0.80v0.80h-0.80zM121.4 207.9h0.80v0.80h-0.80zM127.1 206.4h0.80v0.80h-0.80zM131.9 211.5h0.80v0.80h-0.80zM134.8 216.1h0.80v0.80h-0.80zM133.5 213.9h0.80v0.80h-0.80zM122.3 207.9h0.80v0.80h-0.80zM123.4 210.1h0.80v0.80h-0.80zM130.9 209.2h0.80v0.80h-0.80zM131.4 209.7h0.80v0.80h-0.80zM120.4 210.6h0.80v0.80h-0.80zM124.9 208.2h0.80v0.80h-0.80zM122.9 208.3h0.80v0.80h-0.80zM133.1 214.0h0.80v0.80h-0.80zM123.9 210.0h0.80v0.80h-0.80zM125.7 209.5h0.80v0.80h-0.80zM126.8 208.6h0.80v0.80h-0.80zM124.4 210.6h0.80v0.80h-0.80zM125.3 208.0h0.80v0.80h-0.80zM119.8 210.9h0.80v0.80h-0.80zM123.4 209.3h0.80v0.80h-0.80zM121.8 208.8h0.80v0.80h-0.80zM128.6 210.1h0.80v0.80h-0.80zM123.1 208.9h0.80v0.80h-0.80zM129.2 207.2h0.80v0.80h-0.80zM123.5 210.4h0.80v0.80h-0.80zM119.0 211.9h0.80v0.80h-0.80zM120.5 208.6h0.80v0.80h-0.80zM125.3 208.7h0.80v0.80h-0.80zM122.7 207.7h0.80v0.80h-0.80zM126.9 210.4h0.80v0.80h-0.80zM133.1 212.9h0.80v0.80h-0.80zM131.9 210.7h0.80v0.80h-0.80zM126.5 208.9h0.80v0.80h-0.80zM128.1 207.9h0.80v0.80h-0.80zM130.2 207.4h0.80v0.80h-0.80zM125.5 210.3h0.80v0.80h-0.80zM118.5 214.5h0.80v0.80h-0.80zM120.3 209.1h0.80v0.80h-0.80zM130.9 211.3h0.80v0.80h-0.80zM117.7 214.4h0.80v0.80h-0.80zM125.7 208.8h0.80v0.80h-0.80zM124.4 208.8h0.80v0.80h-0.80zM124.6 208.1h0.80v0.80h-0.80zM123.3 208.8h0.80v0.80h-0.80zM125.1 208.1h0.80v0.80h-0.80zM121.5 211.1h0.80v0.80h-0.80zM128.2 208.9h0.80v0.80h-0.80zM132.4 210.9h0.80v0.80h-0.80zM124.5 210.7h0.80v0.80h-0.80zM126.6 209.3h0.80v0.80h-0.80zM131.1 210.5h0.80v0.80h-0.80zM127.9 207.1h0.80v0.80h-0.80z" fill="#3a3a3a" opacity="0.65"/>
<path d="M118.2 207.2h0.80v0.80h-0.80zM135.4 212.7h0.80v0.80h-0.80zM117.7 214.0h0.80v0.80h-0.80zM116.3 213.9h0.80v0.80h-0.80zM136.4 217.3h0.80v0.80h-0.80zM126.2 200.6h0.80v0.80h-0.80zM138.1 218.7h0.80v0.80h-0.80zM114.6 214.7h0.80v0.80h-0.80zM135.0 225.9h0.80v0.80h-0.80zM130.1 200.9h0.80v0.80h-0.80zM115.6 208.1h0.80v0.80h-0.80zM118.0 206.1h0.80v0.80h-0.80zM134.0 230.2h0.80v0.80h-0.80zM139.5 216.9h0.80v0.80h-0.80zM115.2 218.0h0.80v0.80h-0.80zM135.4 214.0h0.80v0.80h-0.80zM118.5 228.4h0.80v0.80h-0.80zM127.8 204.1h0.80v0.80h-0.80zM120.3 204.7h0.80v0.80h-0.80zM127.5 204.1h0.80v0.80h-0.80zM120.9 207.9h0.80v0.80h-0.80zM114.0 220.6h0.80v0.80h-0.80zM118.9 204.9h0.80v0.80h-0.80zM125.2 201.1h0.80v0.80h-0.80zM118.5 230.2h0.80v0.80h-0.80zM133.3 207.5h0.80v0.80h-0.80zM122.3 204.4h0.80v0.80h-0.80zM127.9 206.0h0.80v0.80h-0.80zM117.8 206.7h0.80v0.80h-0.80zM119.1 206.7h0.80v0.80h-0.80zM119.3 209.7h0.80v0.80h-0.80zM135.8 227.6h0.80v0.80h-0.80zM130.0 205.8h0.80v0.80h-0.80zM128.7 201.4h0.80v0.80h-0.80zM120.5 207.9h0.80v0.80h-0.80zM125.9 205.6h0.80v0.80h-0.80zM138.0 218.3h0.80v0.80h-0.80zM123.7 205.4h0.80v0.80h-0.80zM138.0 223.5h0.80v0.80h-0.80zM128.8 204.9h0.80v0.80h-0.80zM136.9 219.2h0.80v0.80h-0.80zM116.2 210.6h0.80v0.80h-0.80zM136.1 221.5h0.80v0.80h-0.80zM117.3 213.0h0.80v0.80h-0.80zM123.9 204.9h0.80v0.80h-0.80zM120.8 230.6h0.80v0.80h-0.80zM136.9 219.5h0.80v0.80h-0.80zM136.0 213.2h0.80v0.80h-0.80zM136.1 214.9h0.80v0.80h-0.80zM131.0 206.3h0.80v0.80h-0.80zM118.8 210.9h0.80v0.80h-0.80zM122.3 205.2h0.80v0.80h-0.80zM125.0 203.6h0.80v0.80h-0.80zM137.2 222.5h0.80v0.80h-0.80zM134.3 211.6h0.80v0.80h-0.80zM117.4 217.9h0.80v0.80h-0.80zM136.2 224.7h0.80v0.80h-0.80zM134.1 209.5h0.80v0.80h-0.80zM126.7 205.9h0.80v0.80h-0.80zM114.5 222.6h0.80v0.80h-0.80zM124.7 203.9h0.80v0.80h-0.80zM115.2 208.9h0.80v0.80h-0.80zM137.4 211.3h0.80v0.80h-0.80zM139.1 215.2h0.80v0.80h-0.80zM131.7 207.5h0.80v0.80h-0.80zM135.0 224.9h0.80v0.80h-0.80zM120.7 201.5h0.80v0.80h-0.80zM117.5 206.3h0.80v0.80h-0.80zM117.2 216.2h0.80v0.80h-0.80zM115.7 219.0h0.80v0.80h-0.80zM122.6 205.1h0.80v0.80h-0.80zM114.3 213.5h0.80v0.80h-0.80zM116.2 210.1h0.80v0.80h-0.80zM126.4 204.3h0.80v0.80h-0.80zM121.2 202.0h0.80v0.80h-0.80zM125.5 205.3h0.80v0.80h-0.80zM134.1 210.7h0.80v0.80h-0.80zM117.7 212.6h0.80v0.80h-0.80zM118.1 210.1h0.80v0.80h-0.80zM122.2 204.2h0.80v0.80h-0.80zM135.3 225.8h0.80v0.80h-0.80zM125.1 201.4h0.80v0.80h-0.80zM129.8 204.3h0.80v0.80h-0.80zM121.5 204.3h0.80v0.80h-0.80zM126.9 203.4h0.80v0.80h-0.80zM115.7 217.1h0.80v0.80h-0.80zM128.4 206.2h0.80v0.80h-0.80zM136.1 213.4h0.80v0.80h-0.80zM117.0 226.2h0.80v0.80h-0.80zM134.2 210.0h0.80v0.80h-0.80zM137.7 219.2h0.80v0.80h-0.80zM133.3 228.9h0.80v0.80h-0.80zM118.0 227.5h0.80v0.80h-0.80zM136.7 214.9h0.80v0.80h-0.80zM115.6 218.6h0.80v0.80h-0.80zM137.9 217.7h0.80v0.80h-0.80zM116.9 207.3h0.80v0.80h-0.80zM115.7 221.4h0.80v0.80h-0.80zM114.1 211.9h0.80v0.80h-0.80zM130.7 206.5h0.80v0.80h-0.80zM124.5 205.5h0.80v0.80h-0.80zM135.7 222.1h0.80v0.80h-0.80zM116.7 220.0h0.80v0.80h-0.80zM134.7 208.5h0.80v0.80h-0.80zM129.0 201.2h0.80v0.80h-0.80zM119.5 208.2h0.80v0.80h-0.80zM131.2 207.7h0.80v0.80h-0.80zM137.5 211.8h0.80v0.80h-0.80zM126.7 205.4h0.80v0.80h-0.80zM122.5 204.1h0.80v0.80h-0.80zM116.4 205.5h0.80v0.80h-0.80zM136.5 221.4h0.80v0.80h-0.80zM134.5 227.0h0.80v0.80h-0.80zM119.8 205.2h0.80v0.80h-0.80zM132.2 207.0h0.80v0.80h-0.80zM114.8 224.7h0.80v0.80h-0.80zM124.0 205.6h0.80v0.80h-0.80zM129.2 202.9h0.80v0.80h-0.80zM139.3 214.3h0.80v0.80h-0.80zM121.2 207.7h0.80v0.80h-0.80zM116.8 208.8h0.80v0.80h-0.80zM116.5 221.4h0.80v0.80h-0.80zM129.5 203.1h0.80v0.80h-0.80zM117.0 205.7h0.80v0.80h-0.80zM118.1 208.1h0.80v0.80h-0.80zM131.8 207.5h0.80v0.80h-0.80zM115.0 221.0h0.80v0.80h-0.80zM121.5 201.2h0.80v0.80h-0.80zM121.5 203.8h0.80v0.80h-0.80zM120.8 206.5h0.80v0.80h-0.80zM134.2 208.0h0.80v0.80h-0.80zM121.4 203.8h0.80v0.80h-0.80zM134.3 211.3h0.80v0.80h-0.80zM120.4 232.1h0.80v0.80h-0.80zM135.4 222.5h0.80v0.80h-0.80zM137.2 226.8h0.80v0.80h-0.80zM116.7 220.7h0.80v0.80h-0.80zM119.0 210.1h0.80v0.80h-0.80zM135.0 226.0h0.80v0.80h-0.80zM134.1 204.0h0.80v0.80h-0.80zM116.6 205.8h0.80v0.80h-0.80zM118.0 227.8h0.80v0.80h-0.80zM115.9 227.7h0.80v0.80h-0.80zM126.0 203.3h0.80v0.80h-0.80zM138.4 220.5h0.80v0.80h-0.80zM117.2 217.0h0.80v0.80h-0.80zM138.1 216.0h0.80v0.80h-0.80zM137.4 216.6h0.80v0.80h-0.80zM137.5 209.2h0.80v0.80h-0.80zM134.0 203.6h0.80v0.80h-0.80zM124.8 203.3h0.80v0.80h-0.80zM132.0 205.0h0.80v0.80h-0.80zM117.3 204.5h0.80v0.80h-0.80zM121.6 207.3h0.80v0.80h-0.80zM123.1 203.7h0.80v0.80h-0.80zM119.0 207.6h0.80v0.80h-0.80zM135.4 224.9h0.80v0.80h-0.80zM113.3 214.8h0.80v0.80h-0.80zM118.4 209.4h0.80v0.80h-0.80zM117.1 219.1h0.80v0.80h-0.80zM120.8 205.2h0.80v0.80h-0.80zM116.2 216.6h0.80v0.80h-0.80zM118.6 208.7h0.80v0.80h-0.80zM135.7 211.0h0.80v0.80h-0.80zM123.5 204.2h0.80v0.80h-0.80zM124.2 202.7h0.80v0.80h-0.80zM136.4 224.5h0.80v0.80h-0.80zM129.5 200.7h0.80v0.80h-0.80zM118.3 208.3h0.80v0.80h-0.80zM138.0 213.0h0.80v0.80h-0.80zM137.0 212.3h0.80v0.80h-0.80zM116.3 214.5h0.80v0.80h-0.80zM133.6 228.7h0.80v0.80h-0.80zM137.0 216.1h0.80v0.80h-0.80zM125.2 201.5h0.80v0.80h-0.80zM135.7 216.8h0.80v0.80h-0.80zM116.1 215.1h0.80v0.80h-0.80zM133.1 209.9h0.80v0.80h-0.80zM135.5 212.1h0.80v0.80h-0.80zM130.9 207.3h0.80v0.80h-0.80zM114.3 217.8h0.80v0.80h-0.80zM137.7 209.6h0.80v0.80h-0.80zM136.2 211.5h0.80v0.80h-0.80zM134.9 213.3h0.80v0.80h-0.80zM125.4 202.8h0.80v0.80h-0.80zM119.7 209.1h0.80v0.80h-0.80zM128.9 204.0h0.80v0.80h-0.80zM136.2 218.8h0.80v0.80h-0.80zM117.7 211.1h0.80v0.80h-0.80zM118.0 208.5h0.80v0.80h-0.80zM134.5 229.3h0.80v0.80h-0.80zM136.1 215.3h0.80v0.80h-0.80zM118.2 211.3h0.80v0.80h-0.80zM135.6 215.4h0.80v0.80h-0.80zM126.8 205.9h0.80v0.80h-0.80zM115.1 214.7h0.80v0.80h-0.80zM117.5 213.7h0.80v0.80h-0.80zM130.7 204.1h0.80v0.80h-0.80zM134.0 227.6h0.80v0.80h-0.80zM135.3 217.2h0.80v0.80h-0.80zM128.5 206.0h0.80v0.80h-0.80zM120.6 207.3h0.80v0.80h-0.80zM113.1 213.2h0.80v0.80h-0.80zM121.2 206.5h0.80v0.80h-0.80zM114.8 217.1h0.80v0.80h-0.80zM133.8 208.4h0.80v0.80h-0.80zM133.7 210.6h0.80v0.80h-0.80zM135.0 213.9h0.80v0.80h-0.80zM128.4 206.2h0.80v0.80h-0.80zM133.5 209.8h0.80v0.80h-0.80zM132.7 206.6h0.80v0.80h-0.80zM127.2 203.7h0.80v0.80h-0.80zM116.0 219.1h0.80v0.80h-0.80zM117.8 229.3h0.80v0.80h-0.80zM136.6 215.1h0.80v0.80h-0.80zM134.1 208.1h0.80v0.80h-0.80zM122.3 205.0h0.80v0.80h-0.80zM117.5 213.3h0.80v0.80h-0.80zM131.1 206.3h0.80v0.80h-0.80zM134.1 207.5h0.80v0.80h-0.80zM115.0 223.0h0.80v0.80h-0.80zM134.5 211.7h0.80v0.80h-0.80zM133.6 210.2h0.80v0.80h-0.80zM131.2 206.6h0.80v0.80h-0.80zM135.4 216.8h0.80v0.80h-0.80zM134.1 209.3h0.80v0.80h-0.80zM135.0 211.3h0.80v0.80h-0.80zM135.9 222.1h0.80v0.80h-0.80zM138.0 216.0h0.80v0.80h-0.80zM127.2 202.2h0.80v0.80h-0.80zM120.2 203.2h0.80v0.80h-0.80zM132.3 207.7h0.80v0.80h-0.80zM122.4 206.3h0.80v0.80h-0.80zM117.8 227.4h0.80v0.80h-0.80zM116.5 227.3h0.80v0.80h-0.80zM136.0 205.8h0.80v0.80h-0.80zM122.1 203.8h0.80v0.80h-0.80zM122.9 203.4h0.80v0.80h-0.80zM116.8 220.6h0.80v0.80h-0.80zM136.7 212.9h0.80v0.80h-0.80z" fill="#5a5a5a" opacity="0.55"/>
<path d="M130.8 197.5h0.80v0.80h-0.80zM125.2 197.8h0.80v0.80h-0.80zM140.0 217.2h0.80v0.80h-0.80zM139.9 215.1h0.80v0.80h-0.80zM119.7 196.4h0.80v0.80h-0.80zM114.5 204.8h0.80v0.80h-0.80zM117.9 233.3h0.80v0.80h-0.80zM117.6 190.3h0.80v0.80h-0.80zM140.4 223.5h0.80v0.80h-0.80zM124.3 196.3h0.80v0.80h-0.80zM111.7 234.7h0.80v0.80h-0.80zM128.9 200.3h0.80v0.80h-0.80zM111.2 206.6h0.80v0.80h-0.80zM116.4 204.0h0.80v0.80h-0.80zM111.6 222.2h0.80v0.80h-0.80zM111.3 219.1h0.80v0.80h-0.80zM116.0 200.4h0.80v0.80h-0.80zM111.3 216.3h0.80v0.80h-0.80zM112.2 220.3h0.80v0.80h-0.80zM115.3 231.7h0.80v0.80h-0.80zM110.1 220.6h0.80v0.80h-0.80zM111.3 230.3h0.80v0.80h-0.80zM118.6 199.2h0.80v0.80h-0.80zM123.9 198.4h0.80v0.80h-0.80zM116.7 199.5h0.80v0.80h-0.80zM136.8 201.0h0.80v0.80h-0.80zM128.0 197.2h0.80v0.80h-0.80zM112.2 219.0h0.80v0.80h-0.80zM110.6 231.3h0.80v0.80h-0.80zM132.4 199.3h0.80v0.80h-0.80zM140.2 212.2h0.80v0.80h-0.80zM117.9 202.1h0.80v0.80h-0.80zM115.8 204.4h0.80v0.80h-0.80zM132.9 201.7h0.80v0.80h-0.80zM134.9 198.6h0.80v0.80h-0.80zM116.7 201.6h0.80v0.80h-0.80zM113.8 201.4h0.80v0.80h-0.80zM125.0 198.0h0.80v0.80h-0.80zM114.2 230.0h0.80v0.80h-0.80zM114.4 226.0h0.80v0.80h-0.80zM133.1 200.2h0.80v0.80h-0.80zM126.8 199.1h0.80v0.80h-0.80zM110.1 227.7h0.80v0.80h-0.80zM137.5 206.4h0.80v0.80h-0.80zM134.4 197.9h0.80v0.80h-0.80zM110.8 206.2h0.80v0.80h-0.80zM117.5 201.0h0.80v0.80h-0.80zM122.5 197.5h0.80v0.80h-0.80zM112.8 208.7h0.80v0.80h-0.80zM111.0 215.3h0.80v0.80h-0.80zM112.0 223.6h0.80v0.80h-0.80zM136.9 203.4h0.80v0.80h-0.80zM140.2 219.2h0.80v0.80h-0.80zM140.0 211.8h0.80v0.80h-0.80zM136.6 203.2h0.80v0.80h-0.80zM109.9 210.4h0.80v0.80h-0.80zM116.6 202.4h0.80v0.80h-0.80zM113.0 222.0h0.80v0.80h-0.80zM113.2 223.5h0.80v0.80h-0.80zM137.0 228.4h0.80v0.80h-0.80zM111.6 216.6h0.80v0.80h-0.80zM112.5 218.4h0.80v0.80h-0.80zM128.4 195.9h0.80v0.80h-0.80zM110.4 221.0h0.80v0.80h-0.80zM122.4 196.3h0.80v0.80h-0.80zM112.7 225.4h0.80v0.80h-0.80zM117.4 204.1h0.80v0.80h-0.80zM122.2 195.0h0.80v0.80h-0.80zM113.0 209.5h0.80v0.80h-0.80zM128.1 196.9h0.80v0.80h-0.80zM111.6 221.0h0.80v0.80h-0.80zM139.9 222.1h0.80v0.80h-0.80zM137.8 205.9h0.80v0.80h-0.80zM137.2 232.4h0.80v0.80h-0.80zM117.9 201.6h0.80v0.80h-0.80zM126.4 197.3h0.80v0.80h-0.80zM140.0 220.4h0.80v0.80h-0.80zM137.9 204.0h0.80v0.80h-0.80zM130.3 198.0h0.80v0.80h-0.80zM119.5 200.4h0.80v0.80h-0.80zM138.3 197.0h0.80v0.80h-0.80zM138.4 231.8h0.80v0.80h-0.80zM114.6 205.4h0.80v0.80h-0.80zM113.1 234.8h0.80v0.80h-0.80zM136.5 228.2h0.80v0.80h-0.80zM115.7 232.0h0.80v0.80h-0.80zM136.3 200.9h0.80v0.80h-0.80zM139.3 203.9h0.80v0.80h-0.80zM110.1 217.6h0.80v0.80h-0.80zM109.9 218.5h0.80v0.80h-0.80zM114.5 228.8h0.80v0.80h-0.80zM118.6 202.8h0.80v0.80h-0.80zM115.7 202.7h0.80v0.80h-0.80zM136.5 233.6h0.80v0.80h-0.80zM122.2 197.8h0.80v0.80h-0.80zM118.2 231.8h0.80v0.80h-0.80zM117.1 195.1h0.80v0.80h-0.80zM114.6 232.8h0.80v0.80h-0.80z" fill="#808080" opacity="0.45"/>
<path d="M126.1 253.8h0.80v0.80h-0.80zM124.4 253.5h0.80v0.80h-0.80zM123.6 253.6h0.80v0.80h-0.80zM133.0 253.0h0.80v0.80h-0.80zM131.0 254.5h0.80v0.80h-0.80zM130.9 255.7h0.80v0.80h-0.80zM133.1 253.1h0.80v0.80h-0.80zM127.7 256.3h0.80v0.80h-0.80zM127.1 253.8h0.80v0.80h-0.80zM122.5 252.5h0.80v0.80h-0.80zM126.0 253.8h0.80v0.80h-0.80zM127.8 253.7h0.80v0.80h-0.80zM123.9 254.2h0.80v0.80h-0.80zM127.9 255.9h0.80v0.80h-0.80zM130.8 253.6h0.80v0.80h-0.80zM130.2 253.7h0.80v0.80h-0.80zM121.2 252.2h0.80v0.80h-0.80zM121.4 251.8h0.80v0.80h-0.80zM120.6 250.6h0.80v0.80h-0.80zM126.8 254.5h0.80v0.80h-0.80zM129.7 255.2h0.80v0.80h-0.80zM128.5 254.8h0.80v0.80h-0.80zM128.9 253.8h0.80v0.80h-0.80zM132.9 254.0h0.80v0.80h-0.80zM125.4 255.9h0.80v0.80h-0.80zM120.5 251.5h0.80v0.80h-0.80zM126.0 255.2h0.80v0.80h-0.80zM130.6 254.0h0.80v0.80h-0.80zM131.4 253.3h0.80v0.80h-0.80zM122.7 253.9h0.80v0.80h-0.80zM127.5 256.0h0.80v0.80h-0.80zM134.7 251.8h0.80v0.80h-0.80zM129.7 254.1h0.80v0.80h-0.80zM128.3 256.1h0.80v0.80h-0.80zM120.3 251.2h0.80v0.80h-0.80zM122.3 253.5h0.80v0.80h-0.80zM122.3 252.2h0.80v0.80h-0.80zM126.7 256.1h0.80v0.80h-0.80zM122.0 252.0h0.80v0.80h-0.80z" fill="#3a3a3a" opacity="0.65"/>
<path d="M116.5 249.5h0.80v0.80h-0.80zM130.8 262.1h0.80v0.80h-0.80zM135.2 259.2h0.80v0.80h-0.80zM123.0 255.0h0.80v0.80h-0.80zM117.3 249.1h0.80v0.80h-0.80zM115.9 247.0h0.80v0.80h-0.80zM134.3 258.5h0.80v0.80h-0.80zM127.6 259.8h0.80v0.80h-0.80zM126.9 261.2h0.80v0.80h-0.80zM121.5 254.9h0.80v0.80h-0.80zM139.3 249.7h0.80v0.80h-0.80zM133.6 260.9h0.80v0.80h-0.80zM135.5 257.8h0.80v0.80h-0.80zM136.0 255.0h0.80v0.80h-0.80zM139.0 255.1h0.80v0.80h-0.80zM139.4 244.3h0.80v0.80h-0.80zM135.2 252.8h0.80v0.80h-0.80zM132.9 260.2h0.80v0.80h-0.80zM130.1 256.8h0.80v0.80h-0.80zM122.4 255.6h0.80v0.80h-0.80zM138.9 251.0h0.80v0.80h-0.80zM125.7 260.6h0.80v0.80h-0.80zM138.5 244.6h0.80v0.80h-0.80zM135.4 255.8h0.80v0.80h-0.80zM132.6 256.1h0.80v0.80h-0.80zM121.0 257.9h0.80v0.80h-0.80zM130.4 259.7h0.80v0.80h-0.80zM139.5 239.7h0.80v0.80h-0.80zM115.0 250.1h0.80v0.80h-0.80zM138.8 235.9h0.80v0.80h-0.80zM116.1 243.0h0.80v0.80h-0.80zM120.6 232.0h0.80v0.80h-0.80zM134.9 257.4h0.80v0.80h-0.80zM118.5 232.1h0.80v0.80h-0.80zM135.0 257.7h0.80v0.80h-0.80zM116.0 252.2h0.80v0.80h-0.80zM120.7 258.4h0.80v0.80h-0.80zM129.2 256.9h0.80v0.80h-0.80zM129.0 258.9h0.80v0.80h-0.80zM119.6 253.1h0.80v0.80h-0.80zM119.8 231.5h0.80v0.80h-0.80zM133.4 255.0h0.80v0.80h-0.80zM127.2 257.3h0.80v0.80h-0.80zM120.8 257.5h0.80v0.80h-0.80zM116.8 245.6h0.80v0.80h-0.80zM119.2 231.1h0.80v0.80h-0.80zM132.8 254.9h0.80v0.80h-0.80zM124.5 258.3h0.80v0.80h-0.80zM128.9 258.2h0.80v0.80h-0.80zM120.7 256.4h0.80v0.80h-0.80zM134.9 259.1h0.80v0.80h-0.80zM120.1 255.2h0.80v0.80h-0.80zM140.0 241.9h0.80v0.80h-0.80zM123.7 255.8h0.80v0.80h-0.80zM136.7 255.6h0.80v0.80h-0.80zM117.0 253.9h0.80v0.80h-0.80zM123.9 261.0h0.80v0.80h-0.80zM129.6 259.3h0.80v0.80h-0.80zM126.6 256.9h0.80v0.80h-0.80zM128.6 260.2h0.80v0.80h-0.80zM135.5 252.1h0.80v0.80h-0.80zM129.2 256.9h0.80v0.80h-0.80zM140.5 241.5h0.80v0.80h-0.80zM121.3 257.5h0.80v0.80h-0.80zM120.4 230.4h0.80v0.80h-0.80zM130.6 257.1h0.80v0.80h-0.80zM121.0 254.7h0.80v0.80h-0.80zM120.6 252.9h0.80v0.80h-0.80zM134.2 255.7h0.80v0.80h-0.80zM137.7 247.0h0.80v0.80h-0.80zM119.9 256.9h0.80v0.80h-0.80zM128.7 262.1h0.80v0.80h-0.80zM135.5 230.8h0.80v0.80h-0.80zM120.7 230.3h0.80v0.80h-0.80zM138.6 244.5h0.80v0.80h-0.80zM129.7 257.7h0.80v0.80h-0.80zM124.8 259.1h0.80v0.80h-0.80zM140.1 243.3h0.80v0.80h-0.80zM116.0 252.5h0.80v0.80h-0.80zM139.1 249.9h0.80v0.80h-0.80zM139.2 240.5h0.80v0.80h-0.80zM136.8 232.9h0.80v0.80h-0.80zM117.0 234.3h0.80v0.80h-0.80zM136.1 249.6h0.80v0.80h-0.80zM135.0 253.6h0.80v0.80h-0.80zM135.6 251.8h0.80v0.80h-0.80zM125.8 260.2h0.80v0.80h-0.80zM128.2 260.1h0.80v0.80h-0.80zM121.8 258.2h0.80v0.80h-0.80zM130.2 260.7h0.80v0.80h-0.80zM140.7 244.8h0.80v0.80h-0.80zM133.4 260.8h0.80v0.80h-0.80zM132.8 258.0h0.80v0.80h-0.80zM138.6 243.0h0.80v0.80h-0.80zM114.6 245.8h0.80v0.80h-0.80zM129.1 261.7h0.80v0.80h-0.80zM133.8 254.9h0.80v0.80h-0.80zM119.5 250.5h0.80v0.80h-0.80zM118.5 253.9h0.80v0.80h-0.80zM116.8 241.5h0.80v0.80h-0.80zM126.5 259.1h0.80v0.80h-0.80zM137.6 246.8h0.80v0.80h-0.80zM118.0 251.0h0.80v0.80h-0.80zM133.0 255.1h0.80v0.80h-0.80zM135.6 255.0h0.80v0.80h-0.80zM125.3 261.1h0.80v0.80h-0.80zM140.7 248.5h0.80v0.80h-0.80zM117.6 249.4h0.80v0.80h-0.80zM138.6 239.9h0.80v0.80h-0.80zM121.0 258.8h0.80v0.80h-0.80zM131.5 256.9h0.80v0.80h-0.80zM133.6 260.8h0.80v0.80h-0.80zM131.0 257.6h0.80v0.80h-0.80zM136.4 256.7h0.80v0.80h-0.80zM140.0 249.5h0.80v0.80h-0.80zM133.5 259.2h0.80v0.80h-0.80zM132.4 260.1h0.80v0.80h-0.80zM121.3 255.3h0.80v0.80h-0.80zM117.0 245.9h0.80v0.80h-0.80zM123.2 260.8h0.80v0.80h-0.80zM135.2 260.0h0.80v0.80h-0.80zM126.7 262.1h0.80v0.80h-0.80zM119.6 256.0h0.80v0.80h-0.80zM116.3 254.1h0.80v0.80h-0.80zM131.9 261.1h0.80v0.80h-0.80zM122.2 259.1h0.80v0.80h-0.80zM122.9 260.1h0.80v0.80h-0.80zM125.9 257.1h0.80v0.80h-0.80zM135.3 252.5h0.80v0.80h-0.80zM135.9 255.3h0.80v0.80h-0.80zM126.8 258.9h0.80v0.80h-0.80zM125.2 260.3h0.80v0.80h-0.80zM140.2 239.3h0.80v0.80h-0.80zM115.3 247.6h0.80v0.80h-0.80zM133.5 260.3h0.80v0.80h-0.80zM138.7 239.9h0.80v0.80h-0.80zM119.3 232.1h0.80v0.80h-0.80zM122.3 257.4h0.80v0.80h-0.80zM132.9 257.0h0.80v0.80h-0.80zM123.4 261.3h0.80v0.80h-0.80zM119.5 252.4h0.80v0.80h-0.80zM126.3 257.9h0.80v0.80h-0.80zM120.4 231.3h0.80v0.80h-0.80zM137.0 254.6h0.80v0.80h-0.80zM124.7 257.3h0.80v0.80h-0.80zM129.7 256.6h0.80v0.80h-0.80zM122.8 256.9h0.80v0.80h-0.80zM127.8 259.9h0.80v0.80h-0.80zM135.7 258.2h0.80v0.80h-0.80zM123.8 257.1h0.80v0.80h-0.80zM129.8 258.2h0.80v0.80h-0.80zM133.0 260.9h0.80v0.80h-0.80zM117.7 250.1h0.80v0.80h-0.80zM128.0 258.5h0.80v0.80h-0.80zM130.0 257.0h0.80v0.80h-0.80zM116.5 237.4h0.80v0.80h-0.80zM137.5 250.7h0.80v0.80h-0.80zM135.4 253.1h0.80v0.80h-0.80zM117.3 236.9h0.80v0.80h-0.80zM133.6 254.6h0.80v0.80h-0.80zM138.2 236.6h0.80v0.80h-0.80z" fill="#5a5a5a" opacity="0.55"/>
<path d="M119.7 262.7h0.80v0.80h-0.80zM126.1 270.6h0.80v0.80h-0.80zM138.0 259.3h0.80v0.80h-0.80zM130.8 265.0h0.80v0.80h-0.80zM117.7 270.7h0.80v0.80h-0.80zM131.2 272.9h0.80v0.80h-0.80zM120.5 272.1h0.80v0.80h-0.80zM115.7 253.8h0.80v0.80h-0.80zM112.9 254.9h0.80v0.80h-0.80zM136.0 259.9h0.80v0.80h-0.80zM117.4 270.9h0.80v0.80h-0.80zM133.6 277.7h0.80v0.80h-0.80zM113.6 252.2h0.80v0.80h-0.80zM136.8 264.5h0.80v0.80h-0.80zM140.4 234.6h0.80v0.80h-0.80zM138.4 271.2h0.80v0.80h-0.80zM126.0 267.4h0.80v0.80h-0.80zM138.6 258.6h0.80v0.80h-0.80zM129.4 263.3h0.80v0.80h-0.80zM128.3 263.7h0.80v0.80h-0.80zM132.7 262.3h0.80v0.80h-0.80zM135.9 260.0h0.80v0.80h-0.80zM113.7 236.9h0.80v0.80h-0.80zM132.7 263.5h0.80v0.80h-0.80zM140.1 268.5h0.80v0.80h-0.80zM135.6 281.0h0.80v0.80h-0.80zM137.1 267.8h0.80v0.80h-0.80zM139.8 236.2h0.80v0.80h-0.80zM118.6 265.5h0.80v0.80h-0.80zM111.1 242.2h0.80v0.80h-0.80zM116.3 235.1h0.80v0.80h-0.80zM126.1 267.7h0.80v0.80h-0.80zM138.2 261.4h0.80v0.80h-0.80zM118.8 264.5h0.80v0.80h-0.80zM133.9 262.1h0.80v0.80h-0.80zM114.2 239.8h0.80v0.80h-0.80zM109.5 256.8h0.80v0.80h-0.80zM139.5 260.8h0.80v0.80h-0.80zM134.1 274.9h0.80v0.80h-0.80zM126.6 265.4h0.80v0.80h-0.80zM126.1 265.5h0.80v0.80h-0.80zM123.6 264.3h0.80v0.80h-0.80zM114.1 243.2h0.80v0.80h-0.80zM134.6 265.7h0.80v0.80h-0.80zM133.1 274.8h0.80v0.80h-0.80zM120.9 262.5h0.80v0.80h-0.80zM117.5 267.4h0.80v0.80h-0.80zM124.7 263.1h0.80v0.80h-0.80zM136.8 223.4h0.80v0.80h-0.80zM118.1 269.1h0.80v0.80h-0.80zM122.2 262.1h0.80v0.80h-0.80zM126.7 270.0h0.80v0.80h-0.80zM117.3 271.6h0.80v0.80h-0.80zM133.8 269.9h0.80v0.80h-0.80zM112.0 248.5h0.80v0.80h-0.80zM120.0 262.6h0.80v0.80h-0.80zM132.4 269.7h0.80v0.80h-0.80zM133.5 282.6h0.80v0.80h-0.80zM112.8 241.4h0.80v0.80h-0.80zM122.9 263.7h0.80v0.80h-0.80zM125.2 263.7h0.80v0.80h-0.80zM115.3 256.8h0.80v0.80h-0.80zM137.3 230.4h0.80v0.80h-0.80zM131.1 266.3h0.80v0.80h-0.80zM123.5 266.2h0.80v0.80h-0.80zM138.0 276.1h0.80v0.80h-0.80zM122.7 287.1h0.80v0.80h-0.80zM125.2 269.4h0.80v0.80h-0.80zM137.2 262.4h0.80v0.80h-0.80zM128.9 277.9h0.80v0.80h-0.80zM128.1 274.1h0.80v0.80h-0.80zM123.2 262.2h0.80v0.80h-0.80zM140.8 258.5h0.80v0.80h-0.80zM130.6 265.8h0.80v0.80h-0.80zM116.1 268.7h0.80v0.80h-0.80zM129.0 274.6h0.80v0.80h-0.80zM137.0 262.3h0.80v0.80h-0.80zM118.7 258.9h0.80v0.80h-0.80zM127.4 265.4h0.80v0.80h-0.80zM118.9 279.9h0.80v0.80h-0.80zM120.3 281.7h0.80v0.80h-0.80zM130.6 263.2h0.80v0.80h-0.80zM137.5 227.8h0.80v0.80h-0.80zM129.8 265.1h0.80v0.80h-0.80zM114.1 236.6h0.80v0.80h-0.80zM113.3 232.8h0.80v0.80h-0.80zM136.0 260.1h0.80v0.80h-0.80zM126.1 268.2h0.80v0.80h-0.80zM136.7 265.5h0.80v0.80h-0.80zM130.4 273.6h0.80v0.80h-0.80zM123.4 266.5h0.80v0.80h-0.80zM139.6 268.6h0.80v0.80h-0.80zM127.8 287.0h0.80v0.80h-0.80zM119.1 267.8h0.80v0.80h-0.80zM122.7 264.0h0.80v0.80h-0.80zM139.7 234.5h0.80v0.80h-0.80zM116.9 260.4h0.80v0.80h-0.80zM120.0 262.3h0.80v0.80h-0.80zM130.0 285.4h0.80v0.80h-0.80zM133.3 270.5h0.80v0.80h-0.80zM123.9 268.9h0.80v0.80h-0.80zM115.4 232.9h0.80v0.80h-0.80zM117.3 233.1h0.80v0.80h-0.80zM124.2 264.6h0.80v0.80h-0.80zM109.4 230.1h0.80v0.80h-0.80zM127.9 268.0h0.80v0.80h-0.80zM122.4 264.7h0.80v0.80h-0.80zM133.1 262.4h0.80v0.80h-0.80zM112.7 236.3h0.80v0.80h-0.80zM112.5 231.5h0.80v0.80h-0.80zM132.5 263.4h0.80v0.80h-0.80zM138.6 231.6h0.80v0.80h-0.80zM131.9 268.3h0.80v0.80h-0.80zM121.4 265.7h0.80v0.80h-0.80zM134.7 271.3h0.80v0.80h-0.80zM117.7 271.9h0.80v0.80h-0.80zM139.8 230.3h0.80v0.80h-0.80zM126.5 271.6h0.80v0.80h-0.80zM122.2 278.9h0.80v0.80h-0.80zM122.8 276.7h0.80v0.80h-0.80zM130.2 267.7h0.80v0.80h-0.80zM127.1 275.6h0.80v0.80h-0.80zM113.5 243.6h0.80v0.80h-0.80zM134.6 270.2h0.80v0.80h-0.80zM122.2 263.3h0.80v0.80h-0.80zM137.6 259.4h0.80v0.80h-0.80zM128.5 270.1h0.80v0.80h-0.80zM130.7 264.7h0.80v0.80h-0.80zM119.9 273.2h0.80v0.80h-0.80zM128.0 265.9h0.80v0.80h-0.80zM128.4 271.2h0.80v0.80h-0.80zM130.1 275.4h0.80v0.80h-0.80zM120.8 280.8h0.80v0.80h-0.80zM120.5 264.9h0.80v0.80h-0.80zM118.0 230.5h0.80v0.80h-0.80zM132.1 268.2h0.80v0.80h-0.80zM134.9 268.9h0.80v0.80h-0.80zM110.0 234.4h0.80v0.80h-0.80zM117.3 226.7h0.80v0.80h-0.80zM127.7 275.3h0.80v0.80h-0.80zM126.5 272.5h0.80v0.80h-0.80zM138.9 299.7h0.80v0.80h-0.80zM131.5 264.5h0.80v0.80h-0.80zM113.6 246.6h0.80v0.80h-0.80zM134.7 272.6h0.80v0.80h-0.80zM123.3 269.2h0.80v0.80h-0.80zM137.2 230.9h0.80v0.80h-0.80zM131.5 262.6h0.80v0.80h-0.80zM110.9 244.8h0.80v0.80h-0.80zM126.7 274.0h0.80v0.80h-0.80zM126.4 280.9h0.80v0.80h-0.80zM124.8 279.3h0.80v0.80h-0.80zM125.4 272.3h0.80v0.80h-0.80zM114.0 242.4h0.80v0.80h-0.80zM123.5 264.2h0.80v0.80h-0.80zM131.1 263.5h0.80v0.80h-0.80zM114.4 234.1h0.80v0.80h-0.80zM125.0 278.2h0.80v0.80h-0.80zM114.7 230.3h0.80v0.80h-0.80zM126.5 264.8h0.80v0.80h-0.80zM123.3 264.6h0.80v0.80h-0.80zM126.3 264.3h0.80v0.80h-0.80zM129.9 272.8h0.80v0.80h-0.80zM129.6 266.6h0.80v0.80h-0.80zM122.9 272.5h0.80v0.80h-0.80zM117.2 259.8h0.80v0.80h-0.80zM135.6 266.1h0.80v0.80h-0.80zM114.9 265.7h0.80v0.80h-0.80zM137.0 265.8h0.80v0.80h-0.80zM130.2 265.0h0.80v0.80h-0.80zM123.5 264.4h0.80v0.80h-0.80zM114.8 233.3h0.80v0.80h-0.80zM122.4 262.7h0.80v0.80h-0.80zM117.5 267.2h0.80v0.80h-0.80zM120.7 264.2h0.80v0.80h-0.80zM112.8 257.0h0.80v0.80h-0.80zM113.0 252.5h0.80v0.80h-0.80zM127.9 272.1h0.80v0.80h-0.80zM121.4 262.2h0.80v0.80h-0.80zM129.3 278.5h0.80v0.80h-0.80z" fill="#808080" opacity="0.45"/>
<path d="M135.40,221.50 L135.32,222.94 L135.09,224.35 L134.70,225.71 L134.17,227.00 L133.50,228.20 L132.71,229.28 L131.80,230.23 L130.80,231.03 L129.72,231.66 L128.58,232.13 L127.40,232.41 L126.20,232.50 L125.00,232.41 L123.82,232.13 L122.68,231.66 L121.60,231.03 L120.60,230.23 L119.69,229.28 L118.90,228.20 L118.23,227.00 L117.70,225.71 L117.31,224.35 L117.08,222.94 L117.00,221.50 L117.08,220.06 L117.31,218.65 L117.70,217.29 L118.23,216.00 L118.90,214.80 L119.69,213.72 L120.60,212.77 L121.60,211.97 L122.68,211.34 L123.82,210.87 L125.00,210.59 L126.20,210.50 L127.40,210.59 L128.58,210.87 L129.72,211.34 L130.80,211.97 L131.80,212.77 L132.71,213.72 L133.50,214.80 L134.17,216.00 L134.70,217.29 L135.09,218.65 L135.32,220.06Z" fill="#f4f4f4" stroke="#7a7a7a" stroke-width="0.7"/>
<path d="M133.87,221.50 L133.80,222.70 L133.61,223.87 L133.28,225.01 L132.84,226.08 L132.28,227.08 L131.62,227.98 L130.87,228.77 L130.03,229.44 L129.13,229.97 L128.18,230.35 L127.20,230.59 L126.20,230.67 L125.20,230.59 L124.22,230.35 L123.27,229.97 L122.37,229.44 L121.53,228.77 L120.78,227.98 L120.12,227.08 L119.56,226.08 L119.12,225.01 L118.79,223.87 L118.60,222.70 L118.53,221.50 L118.60,220.30 L118.79,219.13 L119.12,217.99 L119.56,216.92 L120.12,215.92 L120.78,215.02 L121.53,214.23 L122.37,213.56 L123.27,213.03 L124.22,212.65 L125.20,212.41 L126.20,212.33 L127.20,212.41 L128.18,212.65 L129.13,213.03 L130.03,213.56 L130.87,214.23 L131.62,215.02 L132.28,215.92 L132.84,216.92 L133.28,217.99 L133.61,219.13 L133.80,220.30Z" fill="none" stroke="#8e8e8e" stroke-width="0.5"/>
<path d="M132.33,221.50 L132.28,222.46 L132.12,223.40 L131.87,224.31 L131.51,225.17 L131.07,225.96 L130.54,226.69 L129.93,227.32 L129.27,227.85 L128.55,228.28 L127.79,228.58 L127.00,228.77 L126.20,228.83 L125.40,228.77 L124.61,228.58 L123.85,228.28 L123.13,227.85 L122.47,227.32 L121.86,226.69 L121.33,225.96 L120.89,225.17 L120.53,224.31 L120.28,223.40 L120.12,222.46 L120.07,221.50 L120.12,220.54 L120.28,219.60 L120.53,218.69 L120.89,217.83 L121.33,217.04 L121.86,216.31 L122.47,215.68 L123.13,215.15 L123.85,214.72 L124.61,214.42 L125.40,214.23 L126.20,214.17 L127.00,214.23 L127.79,214.42 L128.55,214.72 L129.27,215.15 L129.93,215.68 L130.54,216.31 L131.07,217.04 L131.51,217.83 L131.87,218.69 L132.12,219.60 L132.28,220.54Z" fill="none" stroke="#8e8e8e" stroke-width="0.5"/>
<path d="M130.80,221.50 L130.76,222.22 L130.64,222.92 L130.45,223.60 L130.18,224.25 L129.85,224.85 L129.45,225.39 L129.00,225.86 L128.50,226.26 L127.96,226.58 L127.39,226.81 L126.80,226.95 L126.20,227.00 L125.60,226.95 L125.01,226.81 L124.44,226.58 L123.90,226.26 L123.40,225.86 L122.95,225.39 L122.55,224.85 L122.22,224.25 L121.95,223.60 L121.76,222.92 L121.64,222.22 L121.60,221.50 L121.64,220.78 L121.76,220.08 L121.95,219.40 L122.22,218.75 L122.55,218.15 L122.95,217.61 L123.40,217.14 L123.90,216.74 L124.44,216.42 L125.01,216.19 L125.60,216.05 L126.20,216.00 L126.80,216.05 L127.39,216.19 L127.96,216.42 L128.50,216.74 L129.00,217.14 L129.45,217.61 L129.85,218.15 L130.18,218.75 L130.45,219.40 L130.64,220.08 L130.76,220.78Z" fill="none" stroke="#8e8e8e" stroke-width="0.5"/>
<path d="M129.27,221.50 L129.24,221.98 L129.16,222.45 L129.03,222.90 L128.86,223.33 L128.63,223.73 L128.37,224.09 L128.07,224.41 L127.73,224.68 L127.37,224.89 L126.99,225.04 L126.60,225.14 L126.20,225.17 L125.80,225.14 L125.41,225.04 L125.03,224.89 L124.67,224.68 L124.33,224.41 L124.03,224.09 L123.77,223.73 L123.54,223.33 L123.37,222.90 L123.24,222.45 L123.16,221.98 L123.13,221.50 L123.16,221.02 L123.24,220.55 L123.37,220.10 L123.54,219.67 L123.77,219.27 L124.03,218.91 L124.33,218.59 L124.67,218.32 L125.03,218.11 L125.41,217.96 L125.80,217.86 L126.20,217.83 L126.60,217.86 L126.99,217.96 L127.37,218.11 L127.73,218.32 L128.07,218.59 L128.37,218.91 L128.63,219.27 L128.86,219.67 L129.03,220.10 L129.16,220.55 L129.24,221.02Z" fill="none" stroke="#8e8e8e" stroke-width="0.5"/>
<path d="M127.73,221.50 L127.72,221.74 L127.68,221.97 L127.62,222.20 L127.53,222.42 L127.42,222.62 L127.28,222.80 L127.13,222.95 L126.97,223.09 L126.79,223.19 L126.60,223.27 L126.40,223.32 L126.20,223.33 L126.00,223.32 L125.80,223.27 L125.61,223.19 L125.43,223.09 L125.27,222.95 L125.12,222.80 L124.98,222.62 L124.87,222.42 L124.78,222.20 L124.72,221.97 L124.68,221.74 L124.67,221.50 L124.68,221.26 L124.72,221.03 L124.78,220.80 L124.87,220.58 L124.98,220.38 L125.12,220.20 L125.27,220.05 L125.43,219.91 L125.61,219.81 L125.80,219.73 L126.00,219.68 L126.20,219.67 L126.40,219.68 L126.60,219.73 L126.79,219.81 L126.97,219.91 L127.13,220.05 L127.28,220.20 L127.42,220.38 L127.53,220.58 L127.62,220.80 L127.68,221.03 L127.72,221.26Z" fill="none" stroke="#8e8e8e" stroke-width="0.5"/>
<circle cx="126.2" cy="222" r="1.0" fill="#fff"/>
<path d="M138.60,241.20 L138.51,242.79 L138.23,244.36 L137.78,245.87 L137.15,247.30 L136.37,248.63 L135.44,249.83 L134.37,250.88 L133.20,251.77 L131.93,252.47 L130.60,252.98 L129.21,253.30 L127.80,253.40 L126.39,253.30 L125.00,252.98 L123.67,252.47 L122.40,251.77 L121.23,250.88 L120.16,249.83 L119.23,248.63 L118.45,247.30 L117.82,245.87 L117.37,244.36 L117.09,242.79 L117.00,241.20 L117.09,239.61 L117.37,238.04 L117.82,236.53 L118.45,235.10 L119.23,233.77 L120.16,232.57 L121.23,231.52 L122.40,230.63 L123.67,229.93 L125.00,229.42 L126.39,229.10 L127.80,229.00 L129.21,229.10 L130.60,229.42 L131.93,229.93 L133.20,230.63 L134.37,231.52 L135.44,232.57 L136.37,233.77 L137.15,235.10 L137.78,236.53 L138.23,238.04 L138.51,239.61Z" fill="#e0e0e0" stroke="#909090" stroke-width="0.8"/>
<path d="M135.00,241.20 L134.94,242.26 L134.75,243.31 L134.45,244.31 L134.04,245.27 L133.51,246.15 L132.89,246.95 L132.18,247.65 L131.40,248.24 L130.56,248.71 L129.66,249.06 L128.74,249.26 L127.80,249.33 L126.86,249.26 L125.94,249.06 L125.04,248.71 L124.20,248.24 L123.42,247.65 L122.71,246.95 L122.09,246.15 L121.56,245.27 L121.15,244.31 L120.85,243.31 L120.66,242.26 L120.60,241.20 L120.66,240.14 L120.85,239.09 L121.15,238.09 L121.56,237.13 L122.09,236.25 L122.71,235.45 L123.42,234.75 L124.20,234.16 L125.04,233.69 L125.94,233.34 L126.86,233.14 L127.80,233.07 L128.74,233.14 L129.66,233.34 L130.56,233.69 L131.40,234.16 L132.18,234.75 L132.89,235.45 L133.51,236.25 L134.04,237.13 L134.45,238.09 L134.75,239.09 L134.94,240.14Z" fill="none" stroke="#a0a0a0" stroke-width="0.5"/>
<path d="M131.40,241.20 L131.37,241.73 L131.28,242.25 L131.13,242.76 L130.92,243.23 L130.66,243.68 L130.35,244.08 L129.99,244.43 L129.60,244.72 L129.18,244.96 L128.73,245.13 L128.27,245.23 L127.80,245.27 L127.33,245.23 L126.87,245.13 L126.42,244.96 L126.00,244.72 L125.61,244.43 L125.25,244.08 L124.94,243.68 L124.68,243.23 L124.47,242.76 L124.32,242.25 L124.23,241.73 L124.20,241.20 L124.23,240.67 L124.32,240.15 L124.47,239.64 L124.68,239.17 L124.94,238.72 L125.25,238.32 L125.61,237.97 L126.00,237.68 L126.42,237.44 L126.87,237.27 L127.33,237.17 L127.80,237.13 L128.27,237.17 L128.73,237.27 L129.18,237.44 L129.60,237.68 L129.99,237.97 L130.35,238.32 L130.66,238.72 L130.92,239.17 L131.13,239.64 L131.28,240.15 L131.37,240.67Z" fill="none" stroke="#a0a0a0" stroke-width="0.5"/>
<path d="M136.50,241.20 L136.43,242.43 L136.20,243.63 L135.84,244.80 L135.33,245.90 L134.70,246.92 L133.95,247.85 L133.10,248.66 L132.15,249.34 L131.13,249.88 L130.05,250.28 L128.94,250.52 L127.80,250.60 L126.66,250.52 L125.55,250.28 L124.47,249.88 L123.45,249.34 L122.50,248.66 L121.65,247.85 L120.90,246.92 L120.27,245.90 L119.76,244.80 L119.40,243.63 L119.17,242.43 L119.10,241.20 L119.17,239.97 L119.40,238.77 L119.76,237.60 L120.27,236.50 L120.90,235.48 L121.65,234.55 L122.50,233.74 L123.45,233.06 L124.47,232.52 L125.55,232.12 L126.66,231.88 L127.80,231.80 L128.94,231.88 L130.05,232.12 L131.13,232.52 L132.15,233.06 L133.10,233.74 L133.95,234.55 L134.70,235.48 L135.33,236.50 L135.84,237.60 L136.20,238.77 L136.43,239.97Z" fill="#c8c8c8" stroke="#444" stroke-width="1.2"/>
<path d="M135.05,241.20 L134.99,242.22 L134.80,243.23 L134.50,244.20 L134.08,245.12 L133.55,245.97 L132.93,246.74 L132.21,247.41 L131.43,247.98 L130.57,248.44 L129.68,248.77 L128.75,248.97 L127.80,249.03 L126.85,248.97 L125.92,248.77 L125.03,248.44 L124.17,247.98 L123.39,247.41 L122.67,246.74 L122.05,245.97 L121.52,245.12 L121.10,244.20 L120.80,243.23 L120.61,242.22 L120.55,241.20 L120.61,240.18 L120.80,239.17 L121.10,238.20 L121.52,237.28 L122.05,236.43 L122.67,235.66 L123.39,234.99 L124.17,234.42 L125.03,233.96 L125.92,233.63 L126.85,233.43 L127.80,233.37 L128.75,233.43 L129.68,233.63 L130.57,233.96 L131.43,234.42 L132.21,234.99 L132.93,235.66 L133.55,236.43 L134.08,237.28 L134.50,238.20 L134.80,239.17 L134.99,240.18Z" fill="none" stroke="#7a7a7a" stroke-width="0.55"/>
<path d="M133.60,241.20 L133.55,242.02 L133.40,242.82 L133.16,243.60 L132.82,244.33 L132.40,245.01 L131.90,245.63 L131.33,246.17 L130.70,246.63 L130.02,246.99 L129.30,247.25 L128.56,247.41 L127.80,247.47 L127.04,247.41 L126.30,247.25 L125.58,246.99 L124.90,246.63 L124.27,246.17 L123.70,245.63 L123.20,245.01 L122.78,244.33 L122.44,243.60 L122.20,242.82 L122.05,242.02 L122.00,241.20 L122.05,240.38 L122.20,239.58 L122.44,238.80 L122.78,238.07 L123.20,237.39 L123.70,236.77 L124.27,236.23 L124.90,235.77 L125.58,235.41 L126.30,235.15 L127.04,234.99 L127.80,234.93 L128.56,234.99 L129.30,235.15 L130.02,235.41 L130.70,235.77 L131.33,236.23 L131.90,236.77 L132.40,237.39 L132.82,238.07 L133.16,238.80 L133.40,239.58 L133.55,240.38Z" fill="none" stroke="#7a7a7a" stroke-width="0.55"/>
<path d="M132.15,241.20 L132.11,241.81 L132.00,242.42 L131.82,243.00 L131.57,243.55 L131.25,244.06 L130.88,244.52 L130.45,244.93 L129.97,245.27 L129.46,245.54 L128.93,245.74 L128.37,245.86 L127.80,245.90 L127.23,245.86 L126.67,245.74 L126.14,245.54 L125.62,245.27 L125.15,244.93 L124.72,244.52 L124.35,244.06 L124.03,243.55 L123.78,243.00 L123.60,242.42 L123.49,241.81 L123.45,241.20 L123.49,240.59 L123.60,239.98 L123.78,239.40 L124.03,238.85 L124.35,238.34 L124.72,237.88 L125.15,237.47 L125.62,237.13 L126.14,236.86 L126.67,236.66 L127.23,236.54 L127.80,236.50 L128.37,236.54 L128.93,236.66 L129.46,236.86 L129.97,237.13 L130.45,237.47 L130.88,237.88 L131.25,238.34 L131.57,238.85 L131.82,239.40 L132.00,239.98 L132.11,240.59Z" fill="none" stroke="#7a7a7a" stroke-width="0.55"/>
<path d="M130.70,241.20 L130.68,241.61 L130.60,242.01 L130.48,242.40 L130.31,242.77 L130.10,243.11 L129.85,243.42 L129.57,243.69 L129.25,243.91 L128.91,244.09 L128.55,244.23 L128.18,244.31 L127.80,244.33 L127.42,244.31 L127.05,244.23 L126.69,244.09 L126.35,243.91 L126.03,243.69 L125.75,243.42 L125.50,243.11 L125.29,242.77 L125.12,242.40 L125.00,242.01 L124.92,241.61 L124.90,241.20 L124.92,240.79 L125.00,240.39 L125.12,240.00 L125.29,239.63 L125.50,239.29 L125.75,238.98 L126.03,238.71 L126.35,238.49 L126.69,238.31 L127.05,238.17 L127.42,238.09 L127.80,238.07 L128.18,238.09 L128.55,238.17 L128.91,238.31 L129.25,238.49 L129.57,238.71 L129.85,238.98 L130.10,239.29 L130.31,239.63 L130.48,240.00 L130.60,240.39 L130.68,240.79Z" fill="none" stroke="#7a7a7a" stroke-width="0.55"/>
<path d="M129.25,241.20 L129.24,241.40 L129.20,241.61 L129.14,241.80 L129.06,241.98 L128.95,242.15 L128.83,242.31 L128.68,242.44 L128.53,242.56 L128.35,242.65 L128.18,242.71 L127.99,242.75 L127.80,242.77 L127.61,242.75 L127.42,242.71 L127.25,242.65 L127.08,242.56 L126.92,242.44 L126.77,242.31 L126.65,242.15 L126.54,241.98 L126.46,241.80 L126.40,241.61 L126.36,241.40 L126.35,241.20 L126.36,241.00 L126.40,240.79 L126.46,240.60 L126.54,240.42 L126.65,240.25 L126.77,240.09 L126.92,239.96 L127.08,239.84 L127.25,239.75 L127.42,239.69 L127.61,239.65 L127.80,239.63 L127.99,239.65 L128.18,239.69 L128.35,239.75 L128.53,239.84 L128.68,239.96 L128.83,240.09 L128.95,240.25 L129.06,240.42 L129.14,240.60 L129.20,240.79 L129.24,241.00Z" fill="none" stroke="#7a7a7a" stroke-width="0.55"/>
<circle cx="128" cy="240.5" r="1.0" fill="#fff"/>
<rect x="108.3" y="189.6" width="33.2" height="85.4" fill="none" stroke="#333" stroke-width="1"/>
<line x1="108.3" y1="230" x2="141.5" y2="230" stroke="#222" stroke-width="1"/>
<line x1="217.2" y1="25.8" x2="217.2" y2="133.07999999999998" stroke="#d8d8d8" stroke-width="0.9"/>
<line x1="220.6" y1="25.8" x2="220.6" y2="133.07999999999998" stroke="#aaaaaa" stroke-width="0.9"/>
<line x1="224.2" y1="25.8" x2="224.2" y2="133.07999999999998" stroke="#d8d8d8" stroke-width="0.9"/>
<line x1="246.7" y1="25.8" x2="246.7" y2="133.07999999999998" stroke="#d0d0d0" stroke-width="0.9"/>
<line x1="273.7" y1="25.8" x2="273.7" y2="133.07999999999998" stroke="#d0d0d0" stroke-width="0.9"/>
<line x1="297.6" y1="25.8" x2="297.6" y2="133.07999999999998" stroke="#d0d0d0" stroke-width="0.9"/>
<rect x="202.2" y="25.8" width="106.19999999999999" height="107.27999999999999" fill="none" stroke="#c4c4c4" stroke-width="1"/>
<line x1="202.2" y1="63.0" x2="308.4" y2="63.0" stroke="#9a9a9a" stroke-width="0.8"/>
<path d="M229.80,63.00 L229.80,63.00 L230.32,62.61 L231.03,62.15 L231.87,61.71 L232.79,61.00 L233.76,60.09 L234.71,59.18 L235.61,58.16 L236.40,57.12 L237.32,55.49 L238.19,52.83 L239.01,50.19 L239.79,48.26 L240.55,45.68 L241.30,43.17 L242.19,41.22 L243.04,39.17 L243.86,37.32 L244.65,35.95 L245.40,34.13 L246.50,32.12 L247.50,30.53 L248.60,29.90 L249.35,31.03 L250.14,32.51 L250.96,35.06 L251.81,37.85 L252.70,39.40 L253.46,41.45 L254.24,43.26 L255.04,45.05 L255.87,47.05 L256.72,48.27 L257.60,50.06 L258.38,50.60 L259.20,51.70 L260.03,52.01 L260.88,52.38 L261.73,53.19 L262.57,53.42 L263.40,53.70 L264.22,54.56 L265.03,54.37 L265.85,54.99 L266.65,54.48 L267.45,54.66 L268.23,54.71 L269.00,55.21 L269.76,56.48 L270.35,56.90 L270.93,58.22 L271.64,58.98 L272.61,59.41 L274.00,60.37 L274.60,60.50 L275.29,60.68 L276.06,60.95 L276.90,61.27 L277.79,61.43 L278.73,61.57 L279.69,61.79 L280.67,61.89 L281.66,62.06 L282.64,62.20 L283.60,62.32 L284.53,62.44 L285.41,62.56 L286.24,62.66 L286.99,62.76 L287.66,62.85 L288.23,62.93 L288.70,63.00 L288.70,63.00 Z" fill="#6a6a6a" stroke="#5a5a5a" stroke-width="0.4"/>
<line x1="202.2" y1="80.52" x2="308.4" y2="80.52" stroke="#ffa8a8" stroke-width="0.8"/>
<path d="M228.00,80.52 L228.00,80.50 L228.49,80.46 L229.09,80.45 L229.81,80.45 L230.61,80.45 L231.49,80.42 L232.42,80.35 L233.39,80.22 L234.39,80.01 L235.40,79.71 L236.40,79.34 L237.14,78.92 L237.93,78.44 L238.76,78.00 L239.63,77.41 L240.52,76.96 L241.42,76.00 L242.32,75.91 L243.21,75.38 L244.09,74.02 L244.93,74.08 L245.73,73.01 L246.49,72.78 L247.18,71.89 L247.80,70.85 L249.02,70.01 L250.00,68.03 L250.81,67.35 L251.49,65.45 L252.10,63.79 L252.70,62.94 L253.73,60.70 L254.49,58.38 L255.20,56.76 L256.23,54.34 L257.30,53.21 L258.16,55.51 L259.10,57.24 L260.10,59.06 L260.84,58.02 L261.57,55.83 L262.40,53.84 L263.40,53.31 L264.08,53.62 L264.85,54.34 L265.67,55.64 L266.52,56.81 L267.38,58.38 L268.21,59.67 L269.00,61.21 L269.83,62.80 L270.59,64.75 L271.34,66.04 L272.12,68.19 L272.99,70.00 L274.00,71.60 L274.71,72.09 L275.51,73.16 L276.36,73.67 L277.26,75.14 L278.17,76.01 L279.08,77.26 L279.96,77.19 L280.79,78.19 L281.54,78.92 L282.20,79.51 L283.55,80.29 L284.61,80.53 L285.42,80.49 L286.00,80.50 L286.00,80.52 Z" fill="rgba(255,70,70,0.24)" stroke="none"/>
<path d="M228.00,80.52 L228.00,80.50 L228.49,80.46 L229.09,80.45 L229.81,80.45 L230.61,80.45 L231.49,80.42 L232.42,80.35 L233.39,80.22 L234.39,80.01 L235.40,79.71 L236.40,79.34 L237.14,78.92 L237.93,78.44 L238.76,78.00 L239.63,77.41 L240.52,76.96 L241.42,76.00 L242.32,75.91 L243.21,75.38 L244.09,74.02 L244.93,74.08 L245.73,73.01 L246.49,72.78 L247.18,71.89 L247.80,70.85 L249.02,70.01 L250.00,68.03 L250.81,67.35 L251.49,65.45 L252.10,63.79 L252.70,62.94 L253.73,60.70 L254.49,58.38 L255.20,56.76 L256.23,54.34 L257.30,53.21 L258.16,55.51 L259.10,57.24 L260.10,59.06 L260.84,58.02 L261.57,55.83 L262.40,53.84 L263.40,53.31 L264.08,53.62 L264.85,54.34 L265.67,55.64 L266.52,56.81 L267.38,58.38 L268.21,59.67 L269.00,61.21 L269.83,62.80 L270.59,64.75 L271.34,66.04 L272.12,68.19 L272.99,70.00 L274.00,71.60 L274.71,72.09 L275.51,73.16 L276.36,73.67 L277.26,75.14 L278.17,76.01 L279.08,77.26 L279.96,77.19 L280.79,78.19 L281.54,78.92 L282.20,79.51 L283.55,80.29 L284.61,80.53 L285.42,80.49 L286.00,80.50" fill="none" stroke="#ff4040" stroke-width="1.0" stroke-linejoin="round"/>
<line x1="202.2" y1="98.03999999999999" x2="308.4" y2="98.03999999999999" stroke="#8a8aff" stroke-width="0.8"/>
<path d="M212.00,98.04 L212.00,98.20 L212.54,98.07 L213.31,97.89 L214.21,97.67 L215.14,97.37 L216.00,97.02 L216.78,96.50 L217.55,95.97 L218.33,95.27 L219.14,94.40 L220.00,93.59 L220.78,93.16 L221.60,92.66 L222.45,92.15 L223.31,91.42 L224.17,90.51 L225.00,89.34 L225.82,88.92 L226.65,88.71 L227.47,87.17 L228.27,86.13 L229.05,85.66 L229.80,84.50 L230.91,84.59 L231.99,83.57 L232.96,84.42 L233.70,83.54 L234.60,79.81 L235.37,78.82 L236.36,79.20 L237.50,77.82 L238.30,76.77 L239.21,75.72 L240.14,74.62 L241.01,72.51 L241.70,72.91 L242.62,73.43 L243.30,75.59 L244.41,75.54 L245.50,73.50 L247.00,71.88 L247.81,72.92 L248.75,76.08 L249.70,77.80 L250.59,78.25 L251.50,79.44 L252.50,79.18 L253.36,82.18 L254.29,83.59 L255.25,85.78 L256.20,86.44 L257.15,87.08 L258.11,85.24 L259.07,84.05 L260.00,82.21 L260.87,80.09 L261.71,77.79 L262.56,75.21 L263.50,73.63 L264.36,71.79 L265.30,68.84 L266.26,67.61 L267.18,66.00 L268.00,64.99 L269.11,65.47 L270.06,66.93 L271.00,68.61 L272.00,71.65 L273.00,74.27 L274.00,78.97 L275.00,82.65 L276.00,87.64 L277.00,91.29 L277.96,93.53 L278.93,95.63 L280.00,96.95 L280.80,97.57 L281.72,97.88 L282.64,98.04 L283.44,98.11 L284.00,98.20 L284.00,98.04 Z" fill="rgba(80,80,255,0.26)" stroke="none"/>
<path d="M212.00,98.04 L212.00,98.20 L212.54,98.07 L213.31,97.89 L214.21,97.67 L215.14,97.37 L216.00,97.02 L216.78,96.50 L217.55,95.97 L218.33,95.27 L219.14,94.40 L220.00,93.59 L220.78,93.16 L221.60,92.66 L222.45,92.15 L223.31,91.42 L224.17,90.51 L225.00,89.34 L225.82,88.92 L226.65,88.71 L227.47,87.17 L228.27,86.13 L229.05,85.66 L229.80,84.50 L230.91,84.59 L231.99,83.57 L232.96,84.42 L233.70,83.54 L234.60,79.81 L235.37,78.82 L236.36,79.20 L237.50,77.82 L238.30,76.77 L239.21,75.72 L240.14,74.62 L241.01,72.51 L241.70,72.91 L242.62,73.43 L243.30,75.59 L244.41,75.54 L245.50,73.50 L247.00,71.88 L247.81,72.92 L248.75,76.08 L249.70,77.80 L250.59,78.25 L251.50,79.44 L252.50,79.18 L253.36,82.18 L254.29,83.59 L255.25,85.78 L256.20,86.44 L257.15,87.08 L258.11,85.24 L259.07,84.05 L260.00,82.21 L260.87,80.09 L261.71,77.79 L262.56,75.21 L263.50,73.63 L264.36,71.79 L265.30,68.84 L266.26,67.61 L267.18,66.00 L268.00,64.99 L269.11,65.47 L270.06,66.93 L271.00,68.61 L272.00,71.65 L273.00,74.27 L274.00,78.97 L275.00,82.65 L276.00,87.64 L277.00,91.29 L277.96,93.53 L278.93,95.63 L280.00,96.95 L280.80,97.57 L281.72,97.88 L282.64,98.04 L283.44,98.11 L284.00,98.20" fill="none" stroke="#4444ff" stroke-width="1.05" stroke-linejoin="round"/>
<line x1="202.2" y1="115.56" x2="308.4" y2="115.56" stroke="#ff8080" stroke-width="0.8"/>
<path d="M238.00,115.56 L238.00,115.70 L238.49,115.56 L239.12,115.40 L239.88,115.21 L240.72,114.99 L241.64,114.76 L242.59,114.56 L243.57,114.41 L244.53,113.87 L245.46,113.69 L246.34,113.43 L247.12,113.16 L247.80,112.67 L248.90,112.29 L249.80,111.34 L250.56,109.75 L251.25,110.05 L251.94,108.66 L252.70,108.50 L253.53,108.60 L254.39,108.56 L255.24,108.01 L256.08,107.53 L256.87,105.42 L257.60,104.74 L258.58,102.79 L259.46,100.04 L260.26,96.90 L261.00,94.38 L262.26,94.17 L263.40,94.66 L264.17,93.38 L264.94,92.68 L265.80,91.52 L266.80,91.03 L267.89,90.58 L269.00,90.37 L269.86,89.65 L270.75,90.30 L271.62,90.16 L272.40,89.34 L273.27,90.21 L274.03,91.37 L274.80,92.85 L275.54,96.33 L276.29,98.47 L277.30,101.31 L277.98,103.43 L278.76,104.11 L279.60,105.99 L280.48,106.83 L281.36,108.08 L282.20,109.54 L283.05,110.84 L283.94,111.20 L284.84,112.95 L285.69,114.03 L286.46,114.67 L287.10,115.30 L288.36,115.86 L289.00,115.70 L289.00,115.56 Z" fill="#ff0000" stroke="#ff0000" stroke-width="0.3"/>
<line x1="202.2" y1="133.07999999999998" x2="308.4" y2="133.07999999999998" stroke="#8080ff" stroke-width="0.8"/>
<path d="M236.40,133.08 L236.40,133.10 L236.86,132.98 L237.43,132.85 L238.10,132.71 L238.85,132.55 L239.67,132.37 L240.54,132.19 L241.46,131.86 L242.41,131.62 L243.39,131.55 L244.37,131.55 L245.34,130.88 L246.30,130.84 L247.23,130.78 L248.12,130.53 L248.95,129.88 L249.72,129.88 L250.41,129.31 L251.00,129.41 L252.39,128.81 L253.38,128.23 L254.10,126.74 L254.69,125.36 L255.28,123.61 L256.00,122.94 L256.85,121.24 L257.73,118.94 L258.61,116.38 L259.47,115.05 L260.27,112.62 L261.00,111.03 L262.20,109.23 L263.19,107.84 L264.20,106.58 L265.02,105.09 L265.85,104.38 L266.68,103.70 L267.50,104.08 L268.57,104.68 L269.63,105.73 L270.70,107.92 L271.52,109.98 L272.34,112.25 L273.17,114.86 L274.00,117.24 L274.79,119.27 L275.55,122.37 L276.36,125.23 L277.30,127.80 L278.06,128.91 L278.93,129.79 L279.84,130.60 L280.74,131.26 L281.54,132.04 L282.20,132.50 L283.41,133.11 L284.00,133.10 L284.00,133.08 Z" fill="#0000ff" stroke="#0000ff" stroke-width="0.3"/>
<line x1="202.2" y1="133.07999999999998" x2="308.4" y2="133.07999999999998" stroke="#8c8cf0" stroke-width="0.8"/>
<rect x="204.20" y="132.88" width="0.9" height="1.4" fill="#333" opacity="0.55"/>
<rect x="207.30" y="132.88" width="0.9" height="1.4" fill="#333" opacity="0.55"/>
<rect x="210.40" y="132.88" width="0.9" height="1.4" fill="#333" opacity="0.55"/>
<rect x="213.50" y="132.88" width="0.9" height="1.4" fill="#333" opacity="0.55"/>
<rect x="216.60" y="132.88" width="0.9" height="1.4" fill="#333" opacity="0.55"/>
<rect x="219.70" y="132.88" width="0.9" height="1.4" fill="#333" opacity="0.55"/>
<rect x="222.80" y="132.88" width="0.9" height="1.4" fill="#333" opacity="0.55"/>
<rect x="225.90" y="132.88" width="0.9" height="1.4" fill="#333" opacity="0.55"/>
<rect x="229.00" y="132.88" width="0.9" height="1.4" fill="#333" opacity="0.55"/>
<rect x="232.10" y="132.88" width="0.9" height="1.4" fill="#333" opacity="0.55"/>
<rect x="235.20" y="132.88" width="0.9" height="1.4" fill="#333" opacity="0.55"/>
<rect x="238.30" y="132.88" width="0.9" height="1.4" fill="#333" opacity="0.55"/>
<rect x="241.40" y="132.88" width="0.9" height="1.4" fill="#333" opacity="0.55"/>
<rect x="244.50" y="132.88" width="0.9" height="1.4" fill="#333" opacity="0.55"/>
<rect x="247.60" y="132.88" width="0.9" height="1.4" fill="#333" opacity="0.55"/>
<rect x="250.70" y="132.88" width="0.9" height="1.4" fill="#333" opacity="0.55"/>
<rect x="253.80" y="132.88" width="0.9" height="1.4" fill="#333" opacity="0.55"/>
<rect x="256.90" y="132.88" width="0.9" height="1.4" fill="#333" opacity="0.55"/>
<rect x="260.00" y="132.88" width="0.9" height="1.4" fill="#333" opacity="0.55"/>
<rect x="263.10" y="132.88" width="0.9" height="1.4" fill="#333" opacity="0.55"/>
<rect x="266.20" y="132.88" width="0.9" height="1.4" fill="#333" opacity="0.55"/>
<rect x="269.30" y="132.88" width="0.9" height="1.4" fill="#333" opacity="0.55"/>
<rect x="272.40" y="132.88" width="0.9" height="1.4" fill="#333" opacity="0.55"/>
<rect x="275.50" y="132.88" width="0.9" height="1.4" fill="#333" opacity="0.55"/>
<rect x="278.60" y="132.88" width="0.9" height="1.4" fill="#333" opacity="0.55"/>
<rect x="281.70" y="132.88" width="0.9" height="1.4" fill="#333" opacity="0.55"/>
<rect x="284.80" y="132.88" width="0.9" height="1.4" fill="#333" opacity="0.55"/>
<rect x="287.90" y="132.88" width="0.9" height="1.4" fill="#333" opacity="0.55"/>
<rect x="291.00" y="132.88" width="0.9" height="1.4" fill="#333" opacity="0.55"/>
<rect x="294.10" y="132.88" width="0.9" height="1.4" fill="#333" opacity="0.55"/>
<rect x="297.20" y="132.88" width="0.9" height="1.4" fill="#333" opacity="0.55"/>
<rect x="300.30" y="132.88" width="0.9" height="1.4" fill="#333" opacity="0.55"/>
<rect x="303.40" y="132.88" width="0.9" height="1.4" fill="#333" opacity="0.55"/>
<rect x="306.50" y="132.88" width="0.9" height="1.4" fill="#333" opacity="0.55"/>
<rect x="217.8" y="132.48" width="6.8" height="1.9" fill="#111"/>
<text x="221.00" y="143.20" font-size="6.2" text-anchor="start" font-weight="normal" fill="#222" stroke="#222" stroke-width="0.22" >0</text>
<text x="245.60" y="143.20" font-size="6.2" fill="#222" stroke="#222" stroke-width="0.15" text-anchor="start">10<tspan font-size="5.27" dy="-3.10">3</tspan></text>
<text x="272.70" y="143.20" font-size="6.2" fill="#222" stroke="#222" stroke-width="0.15" text-anchor="start">10<tspan font-size="5.27" dy="-3.10">4</tspan></text>
<text x="297.70" y="143.20" font-size="6.2" fill="#222" stroke="#222" stroke-width="0.15" text-anchor="start">10<tspan font-size="5.27" dy="-3.10">5</tspan></text>
<text x="254.50" y="157.50" font-size="10" text-anchor="middle" font-weight="normal" fill="#000" stroke="#000" stroke-width="0.18" >CD44 BV510</text>
<rect x="202.0" y="163.5" width="90.80000000000001" height="49.900000000000006" fill="#fff" stroke="#b4b4b4" stroke-width="0.9"/>
<line x1="202.0" y1="173.48" x2="292.8" y2="173.48" stroke="#bababa" stroke-width="0.9"/>
<line x1="202.0" y1="183.46" x2="292.8" y2="183.46" stroke="#bababa" stroke-width="0.9"/>
<line x1="202.0" y1="193.44" x2="292.8" y2="193.44" stroke="#bababa" stroke-width="0.9"/>
<line x1="202.0" y1="203.42" x2="292.8" y2="203.42" stroke="#bababa" stroke-width="0.9"/>
<line x1="208.6" y1="163.5" x2="208.6" y2="213.4" stroke="#bababa" stroke-width="0.9"/>
<line x1="237.4" y1="163.5" x2="237.4" y2="213.4" stroke="#bababa" stroke-width="0.9"/>
<line x1="266.8" y1="163.5" x2="266.8" y2="213.4" stroke="#bababa" stroke-width="0.9"/>
<rect x="203.20" y="165.40" width="3.5" height="6.2" fill="#7a7a7a"/>
<text x="209.80" y="171.10" font-size="7.7" text-anchor="start" font-weight="normal" fill="#1a1a1a" stroke="#1a1a1a" stroke-width="0.22" >SPL</text>
<text x="239.00" y="171.10" font-size="7.7" text-anchor="start" font-weight="normal" fill="#1a1a1a" stroke="#1a1a1a" stroke-width="0.22" >CD4-</text>
<text x="288.60" y="171.10" font-size="7.7" text-anchor="end" font-weight="normal" fill="#1a1a1a" stroke="#1a1a1a" stroke-width="0.22" >1572</text>
<rect x="203.70" y="175.88" width="2.5" height="5.2" fill="#fff" stroke="#ff3030" stroke-width="1"/>
<text x="209.80" y="181.08" font-size="7.7" text-anchor="start" font-weight="normal" fill="#1a1a1a" stroke="#1a1a1a" stroke-width="0.22" >SPL</text>
<text x="239.00" y="181.08" font-size="7.7" text-anchor="start" font-weight="normal" fill="#1a1a1a" stroke="#1a1a1a" stroke-width="0.22" >Treg</text>
<text x="288.60" y="181.08" font-size="7.7" text-anchor="end" font-weight="normal" fill="#1a1a1a" stroke="#1a1a1a" stroke-width="0.22" >2898</text>
<rect x="203.70" y="185.86" width="2.5" height="5.2" fill="#fff" stroke="#3030ff" stroke-width="1"/>
<text x="209.80" y="191.06" font-size="7.7" text-anchor="start" font-weight="normal" fill="#1a1a1a" stroke="#1a1a1a" stroke-width="0.22" >SPL</text>
<text x="239.00" y="191.06" font-size="7.7" text-anchor="start" font-weight="normal" fill="#1a1a1a" stroke="#1a1a1a" stroke-width="0.22" >Tconv</text>
<text x="288.60" y="191.06" font-size="7.7" text-anchor="end" font-weight="normal" fill="#1a1a1a" stroke="#1a1a1a" stroke-width="0.22" >1502</text>
<rect x="203.20" y="195.34" width="3.5" height="6.2" fill="#ff0000"/>
<text x="209.80" y="201.04" font-size="7.7" text-anchor="start" font-weight="normal" fill="#1a1a1a" stroke="#1a1a1a" stroke-width="0.22" >TUM</text>
<text x="239.00" y="201.04" font-size="7.7" text-anchor="start" font-weight="normal" fill="#1a1a1a" stroke="#1a1a1a" stroke-width="0.22" >Treg</text>
<text x="288.60" y="201.04" font-size="7.7" text-anchor="end" font-weight="normal" fill="#1a1a1a" stroke="#1a1a1a" stroke-width="0.22" >5789</text>
<rect x="203.20" y="205.32" width="3.5" height="6.2" fill="#0000ff"/>
<text x="209.80" y="211.02" font-size="7.7" text-anchor="start" font-weight="normal" fill="#1a1a1a" stroke="#1a1a1a" stroke-width="0.22" >TUM</text>
<text x="239.00" y="211.02" font-size="7.7" text-anchor="start" font-weight="normal" fill="#1a1a1a" stroke="#1a1a1a" stroke-width="0.22" >Tconv</text>
<text x="288.60" y="211.02" font-size="7.7" text-anchor="end" font-weight="normal" fill="#1a1a1a" stroke="#1a1a1a" stroke-width="0.22" >4564</text>
<line x1="323.5" y1="25.8" x2="323.5" y2="133.07999999999998" stroke="#d8d8d8" stroke-width="0.9"/>
<line x1="339.4" y1="25.8" x2="339.4" y2="133.07999999999998" stroke="#d8d8d8" stroke-width="0.9"/>
<line x1="341.8" y1="25.8" x2="341.8" y2="133.07999999999998" stroke="#aaaaaa" stroke-width="0.9"/>
<line x1="358.4" y1="25.8" x2="358.4" y2="133.07999999999998" stroke="#d0d0d0" stroke-width="0.9"/>
<line x1="387.8" y1="25.8" x2="387.8" y2="133.07999999999998" stroke="#d0d0d0" stroke-width="0.9"/>
<line x1="413.7" y1="25.8" x2="413.7" y2="133.07999999999998" stroke="#d0d0d0" stroke-width="0.9"/>
<rect x="317.8" y="25.8" width="106.39999999999998" height="107.27999999999999" fill="none" stroke="#c4c4c4" stroke-width="1"/>
<line x1="317.8" y1="63.0" x2="424.2" y2="63.0" stroke="#9a9a9a" stroke-width="0.8"/>
<path d="M343.60,63.00 L343.60,62.60 L344.17,61.55 L344.98,60.14 L345.92,58.52 L346.87,56.49 L347.70,54.43 L348.58,51.77 L349.40,48.25 L350.19,44.29 L351.00,41.43 L351.82,39.04 L352.65,36.39 L353.48,34.34 L354.30,32.79 L355.13,31.42 L355.96,30.20 L356.78,29.95 L357.60,30.54 L358.67,30.70 L359.73,32.14 L360.80,35.03 L361.58,36.94 L362.34,39.66 L363.16,42.15 L364.10,44.80 L364.80,46.99 L365.55,47.83 L366.34,49.96 L367.18,51.82 L368.07,53.33 L369.00,54.99 L369.72,55.54 L370.46,56.73 L371.21,57.37 L371.99,57.91 L372.82,58.97 L373.69,59.49 L374.61,60.03 L375.60,60.30 L376.34,60.74 L377.16,61.25 L378.05,61.30 L378.99,61.52 L379.95,61.68 L380.91,61.94 L381.85,62.06 L382.74,62.19 L383.56,62.31 L384.30,62.41 L384.92,62.51 L385.40,62.60 L385.40,63.00 Z" fill="#6a6a6a" stroke="#5a5a5a" stroke-width="0.4"/>
<line x1="317.8" y1="80.52" x2="424.2" y2="80.52" stroke="#ffa8a8" stroke-width="0.8"/>
<path d="M328.00,80.52 L328.00,80.30 L328.51,80.01 L329.17,79.64 L329.96,79.32 L330.85,78.84 L331.79,78.00 L332.77,77.55 L333.74,77.12 L334.67,76.66 L335.54,76.55 L336.30,75.14 L337.28,74.15 L338.21,72.95 L339.09,72.81 L339.92,71.75 L340.68,70.63 L341.38,69.27 L342.00,69.44 L343.04,68.13 L343.73,65.54 L344.50,65.10 L345.45,64.18 L346.48,63.11 L347.70,62.12 L348.44,61.13 L349.27,59.74 L350.14,59.64 L351.02,57.46 L351.86,57.46 L352.60,57.04 L353.54,57.30 L354.35,58.49 L355.11,58.72 L355.90,58.81 L356.72,57.84 L357.55,56.54 L358.38,55.42 L359.20,53.99 L360.03,54.56 L360.86,55.69 L361.68,56.42 L362.50,57.52 L363.57,58.62 L364.63,59.10 L365.70,60.35 L366.52,61.55 L367.34,64.34 L368.17,65.66 L369.00,67.83 L369.82,69.22 L370.65,69.35 L371.48,69.48 L372.30,70.67 L373.09,70.96 L373.85,72.17 L374.66,73.16 L375.60,74.81 L376.31,75.20 L377.06,76.21 L377.85,76.59 L378.69,77.01 L379.57,77.66 L380.50,77.96 L381.28,78.64 L382.16,78.71 L383.11,79.03 L384.06,79.28 L384.97,79.65 L385.79,79.91 L386.49,80.13 L387.00,80.30 L387.00,80.52 Z" fill="rgba(255,70,70,0.24)" stroke="none"/>
<path d="M328.00,80.52 L328.00,80.30 L328.51,80.01 L329.17,79.64 L329.96,79.32 L330.85,78.84 L331.79,78.00 L332.77,77.55 L333.74,77.12 L334.67,76.66 L335.54,76.55 L336.30,75.14 L337.28,74.15 L338.21,72.95 L339.09,72.81 L339.92,71.75 L340.68,70.63 L341.38,69.27 L342.00,69.44 L343.04,68.13 L343.73,65.54 L344.50,65.10 L345.45,64.18 L346.48,63.11 L347.70,62.12 L348.44,61.13 L349.27,59.74 L350.14,59.64 L351.02,57.46 L351.86,57.46 L352.60,57.04 L353.54,57.30 L354.35,58.49 L355.11,58.72 L355.90,58.81 L356.72,57.84 L357.55,56.54 L358.38,55.42 L359.20,53.99 L360.03,54.56 L360.86,55.69 L361.68,56.42 L362.50,57.52 L363.57,58.62 L364.63,59.10 L365.70,60.35 L366.52,61.55 L367.34,64.34 L368.17,65.66 L369.00,67.83 L369.82,69.22 L370.65,69.35 L371.48,69.48 L372.30,70.67 L373.09,70.96 L373.85,72.17 L374.66,73.16 L375.60,74.81 L376.31,75.20 L377.06,76.21 L377.85,76.59 L378.69,77.01 L379.57,77.66 L380.50,77.96 L381.28,78.64 L382.16,78.71 L383.11,79.03 L384.06,79.28 L384.97,79.65 L385.79,79.91 L386.49,80.13 L387.00,80.30" fill="none" stroke="#ff4040" stroke-width="1.0" stroke-linejoin="round"/>
<line x1="317.8" y1="98.03999999999999" x2="424.2" y2="98.03999999999999" stroke="#8a8aff" stroke-width="0.8"/>
<path d="M333.00,98.04 L333.00,98.10 L333.52,97.51 L334.22,96.77 L335.07,95.99 L335.99,94.64 L336.95,93.68 L337.89,92.60 L338.76,91.49 L339.50,90.12 L340.47,88.61 L341.31,86.37 L342.08,83.74 L342.82,82.76 L343.60,80.86 L344.45,80.13 L345.32,79.79 L346.18,79.44 L346.98,78.84 L347.70,78.28 L348.59,76.47 L349.31,75.87 L350.20,75.29 L350.93,74.87 L351.76,74.05 L352.64,73.06 L353.51,72.88 L354.30,72.72 L355.14,72.46 L355.90,73.09 L356.68,73.23 L357.60,72.95 L358.34,72.05 L359.18,70.86 L360.06,69.23 L360.93,68.55 L361.76,67.60 L362.50,66.54 L363.69,67.38 L364.69,69.29 L365.70,71.28 L366.50,73.43 L367.29,74.51 L368.12,76.16 L369.00,78.41 L369.77,79.48 L370.58,81.41 L371.42,82.75 L372.27,84.41 L373.10,86.22 L373.88,88.05 L374.62,89.08 L375.39,91.54 L376.23,93.38 L377.20,94.40 L377.94,95.10 L378.81,95.83 L379.75,96.31 L380.71,96.76 L381.63,97.18 L382.48,97.54 L383.18,97.85 L383.70,98.10 L383.70,98.04 Z" fill="rgba(80,80,255,0.26)" stroke="none"/>
<path d="M333.00,98.04 L333.00,98.10 L333.52,97.51 L334.22,96.77 L335.07,95.99 L335.99,94.64 L336.95,93.68 L337.89,92.60 L338.76,91.49 L339.50,90.12 L340.47,88.61 L341.31,86.37 L342.08,83.74 L342.82,82.76 L343.60,80.86 L344.45,80.13 L345.32,79.79 L346.18,79.44 L346.98,78.84 L347.70,78.28 L348.59,76.47 L349.31,75.87 L350.20,75.29 L350.93,74.87 L351.76,74.05 L352.64,73.06 L353.51,72.88 L354.30,72.72 L355.14,72.46 L355.90,73.09 L356.68,73.23 L357.60,72.95 L358.34,72.05 L359.18,70.86 L360.06,69.23 L360.93,68.55 L361.76,67.60 L362.50,66.54 L363.69,67.38 L364.69,69.29 L365.70,71.28 L366.50,73.43 L367.29,74.51 L368.12,76.16 L369.00,78.41 L369.77,79.48 L370.58,81.41 L371.42,82.75 L372.27,84.41 L373.10,86.22 L373.88,88.05 L374.62,89.08 L375.39,91.54 L376.23,93.38 L377.20,94.40 L377.94,95.10 L378.81,95.83 L379.75,96.31 L380.71,96.76 L381.63,97.18 L382.48,97.54 L383.18,97.85 L383.70,98.10" fill="none" stroke="#4444ff" stroke-width="1.05" stroke-linejoin="round"/>
<line x1="317.8" y1="115.56" x2="424.2" y2="115.56" stroke="#ff8080" stroke-width="0.8"/>
<path d="M336.30,115.56 L336.30,115.60 L336.81,115.28 L337.51,114.88 L338.33,114.38 L339.24,113.84 L340.19,113.35 L341.14,112.45 L342.02,112.07 L342.80,111.28 L343.71,110.17 L344.55,108.42 L345.35,107.26 L346.13,106.80 L346.90,104.64 L347.70,104.09 L348.52,102.64 L349.33,102.22 L350.14,101.37 L350.96,102.01 L351.78,100.90 L352.60,99.02 L353.43,97.73 L354.26,97.59 L355.10,96.95 L355.94,95.91 L356.77,95.34 L357.60,92.32 L358.46,92.16 L359.36,92.72 L360.26,91.35 L361.11,92.23 L361.88,91.30 L362.50,90.72 L363.40,89.81 L364.10,88.62 L364.79,89.73 L365.59,89.54 L366.48,89.98 L367.40,91.23 L368.14,90.83 L368.91,90.86 L369.71,93.15 L370.56,93.68 L371.50,95.36 L372.24,94.96 L373.04,96.39 L373.87,97.46 L374.73,97.71 L375.58,99.99 L376.41,101.15 L377.20,102.39 L378.06,103.11 L378.89,104.05 L379.70,104.47 L380.50,106.12 L381.29,106.62 L382.10,108.24 L382.90,108.54 L383.67,109.51 L384.44,110.57 L385.24,110.64 L386.08,111.12 L387.00,112.12 L387.75,112.33 L388.54,113.34 L389.36,113.96 L390.21,113.55 L391.06,114.25 L391.92,114.42 L392.77,114.75 L393.60,115.00 L394.58,115.22 L395.63,115.36 L396.69,115.46 L397.72,115.51 L398.64,115.54 L399.42,115.57 L400.00,115.60 L400.00,115.56 Z" fill="#ff0000" stroke="#ff0000" stroke-width="0.3"/>
<line x1="317.8" y1="133.07999999999998" x2="424.2" y2="133.07999999999998" stroke="#8080ff" stroke-width="0.8"/>
<path d="M337.90,133.08 L337.90,133.20 L338.42,132.63 L339.11,132.01 L339.93,130.99 L340.84,129.74 L341.80,129.40 L342.76,127.81 L343.67,126.83 L344.50,126.36 L345.36,124.50 L346.19,124.48 L347.01,121.93 L347.80,122.35 L348.60,121.36 L349.39,119.89 L350.20,119.10 L351.02,117.90 L351.85,118.79 L352.68,117.69 L353.51,117.46 L354.33,117.07 L355.13,116.48 L355.90,115.80 L356.78,114.50 L357.65,113.04 L358.50,111.78 L359.31,109.94 L360.09,108.61 L360.80,108.46 L361.74,107.23 L362.55,105.60 L363.31,105.90 L364.10,105.88 L364.89,104.75 L365.65,105.23 L366.46,105.57 L367.40,105.99 L368.12,106.81 L368.91,108.20 L369.75,109.50 L370.61,110.37 L371.46,112.22 L372.30,113.67 L373.12,114.67 L373.93,115.97 L374.75,117.57 L375.57,119.08 L376.38,119.48 L377.20,121.40 L378.02,121.80 L378.83,123.94 L379.65,125.97 L380.47,125.65 L381.28,127.24 L382.10,128.46 L382.94,129.18 L383.80,130.42 L384.67,130.64 L385.51,131.77 L386.29,132.06 L387.00,132.50 L388.25,133.01 L389.29,133.14 L390.00,133.20 L390.00,133.08 Z" fill="#0000ff" stroke="#0000ff" stroke-width="0.3"/>
<line x1="317.8" y1="133.07999999999998" x2="424.2" y2="133.07999999999998" stroke="#8c8cf0" stroke-width="0.8"/>
<rect x="319.80" y="132.88" width="0.9" height="1.4" fill="#333" opacity="0.55"/>
<rect x="322.90" y="132.88" width="0.9" height="1.4" fill="#333" opacity="0.55"/>
<rect x="326.00" y="132.88" width="0.9" height="1.4" fill="#333" opacity="0.55"/>
<rect x="329.10" y="132.88" width="0.9" height="1.4" fill="#333" opacity="0.55"/>
<rect x="332.20" y="132.88" width="0.9" height="1.4" fill="#333" opacity="0.55"/>
<rect x="335.30" y="132.88" width="0.9" height="1.4" fill="#333" opacity="0.55"/>
<rect x="338.40" y="132.88" width="0.9" height="1.4" fill="#333" opacity="0.55"/>
<rect x="341.50" y="132.88" width="0.9" height="1.4" fill="#333" opacity="0.55"/>
<rect x="344.60" y="132.88" width="0.9" height="1.4" fill="#333" opacity="0.55"/>
<rect x="347.70" y="132.88" width="0.9" height="1.4" fill="#333" opacity="0.55"/>
<rect x="350.80" y="132.88" width="0.9" height="1.4" fill="#333" opacity="0.55"/>
<rect x="353.90" y="132.88" width="0.9" height="1.4" fill="#333" opacity="0.55"/>
<rect x="357.00" y="132.88" width="0.9" height="1.4" fill="#333" opacity="0.55"/>
<rect x="360.10" y="132.88" width="0.9" height="1.4" fill="#333" opacity="0.55"/>
<rect x="363.20" y="132.88" width="0.9" height="1.4" fill="#333" opacity="0.55"/>
<rect x="366.30" y="132.88" width="0.9" height="1.4" fill="#333" opacity="0.55"/>
<rect x="369.40" y="132.88" width="0.9" height="1.4" fill="#333" opacity="0.55"/>
<rect x="372.50" y="132.88" width="0.9" height="1.4" fill="#333" opacity="0.55"/>
<rect x="375.60" y="132.88" width="0.9" height="1.4" fill="#333" opacity="0.55"/>
<rect x="378.70" y="132.88" width="0.9" height="1.4" fill="#333" opacity="0.55"/>
<rect x="381.80" y="132.88" width="0.9" height="1.4" fill="#333" opacity="0.55"/>
<rect x="384.90" y="132.88" width="0.9" height="1.4" fill="#333" opacity="0.55"/>
<rect x="388.00" y="132.88" width="0.9" height="1.4" fill="#333" opacity="0.55"/>
<rect x="391.10" y="132.88" width="0.9" height="1.4" fill="#333" opacity="0.55"/>
<rect x="394.20" y="132.88" width="0.9" height="1.4" fill="#333" opacity="0.55"/>
<rect x="397.30" y="132.88" width="0.9" height="1.4" fill="#333" opacity="0.55"/>
<rect x="400.40" y="132.88" width="0.9" height="1.4" fill="#333" opacity="0.55"/>
<rect x="403.50" y="132.88" width="0.9" height="1.4" fill="#333" opacity="0.55"/>
<rect x="406.60" y="132.88" width="0.9" height="1.4" fill="#333" opacity="0.55"/>
<rect x="409.70" y="132.88" width="0.9" height="1.4" fill="#333" opacity="0.55"/>
<rect x="412.80" y="132.88" width="0.9" height="1.4" fill="#333" opacity="0.55"/>
<rect x="415.90" y="132.88" width="0.9" height="1.4" fill="#333" opacity="0.55"/>
<rect x="419.00" y="132.88" width="0.9" height="1.4" fill="#333" opacity="0.55"/>
<rect x="422.10" y="132.88" width="0.9" height="1.4" fill="#333" opacity="0.55"/>
<rect x="337.3" y="132.48" width="6.8" height="1.9" fill="#111"/>
<text x="322.30" y="143.30" font-size="6.2" fill="#222">-10<tspan font-size="4.9" dy="-3">3</tspan></text>
<text x="341.90" y="143.30" font-size="6.2" text-anchor="start" font-weight="normal" fill="#222" stroke="#222" stroke-width="0.22" >0</text>
<text x="358.50" y="143.30" font-size="6.2" fill="#222" stroke="#222" stroke-width="0.15" text-anchor="start">10<tspan font-size="5.27" dy="-3.10">3</tspan></text>
<text x="387.70" y="143.30" font-size="6.2" fill="#222" stroke="#222" stroke-width="0.15" text-anchor="start">10<tspan font-size="5.27" dy="-3.10">4</tspan></text>
<text x="413.70" y="143.30" font-size="6.2" fill="#222" stroke="#222" stroke-width="0.15" text-anchor="start">10<tspan font-size="5.27" dy="-3.10">5</tspan></text>
<text x="370.00" y="157.50" font-size="10" text-anchor="middle" font-weight="normal" fill="#000" stroke="#000" stroke-width="0.18" >CD71 BV421</text>
<rect x="317.6" y="163.5" width="83.59999999999997" height="49.900000000000006" fill="#fff" stroke="#b4b4b4" stroke-width="0.9"/>
<line x1="317.6" y1="173.48" x2="401.2" y2="173.48" stroke="#bababa" stroke-width="0.9"/>
<line x1="317.6" y1="183.46" x2="401.2" y2="183.46" stroke="#bababa" stroke-width="0.9"/>
<line x1="317.6" y1="193.44" x2="401.2" y2="193.44" stroke="#bababa" stroke-width="0.9"/>
<line x1="317.6" y1="203.42" x2="401.2" y2="203.42" stroke="#bababa" stroke-width="0.9"/>
<line x1="323.7" y1="163.5" x2="323.7" y2="213.4" stroke="#bababa" stroke-width="0.9"/>
<line x1="351.0" y1="163.5" x2="351.0" y2="213.4" stroke="#bababa" stroke-width="0.9"/>
<line x1="378.3" y1="163.5" x2="378.3" y2="213.4" stroke="#bababa" stroke-width="0.9"/>
<rect x="318.80" y="165.40" width="3.5" height="6.2" fill="#7a7a7a"/>
<text x="324.90" y="171.10" font-size="7.7" text-anchor="start" font-weight="normal" fill="#1a1a1a" stroke="#1a1a1a" stroke-width="0.22" >SPL</text>
<text x="352.60" y="171.10" font-size="7.7" text-anchor="start" font-weight="normal" fill="#1a1a1a" stroke="#1a1a1a" stroke-width="0.22" >CD4-</text>
<text x="397.00" y="171.10" font-size="7.7" text-anchor="end" font-weight="normal" fill="#1a1a1a" stroke="#1a1a1a" stroke-width="0.22" >995</text>
<rect x="319.30" y="175.88" width="2.5" height="5.2" fill="#fff" stroke="#ff3030" stroke-width="1"/>
<text x="324.90" y="181.08" font-size="7.7" text-anchor="start" font-weight="normal" fill="#1a1a1a" stroke="#1a1a1a" stroke-width="0.22" >SPL</text>
<text x="352.60" y="181.08" font-size="7.7" text-anchor="start" font-weight="normal" fill="#1a1a1a" stroke="#1a1a1a" stroke-width="0.22" >Treg</text>
<text x="397.00" y="181.08" font-size="7.7" text-anchor="end" font-weight="normal" fill="#1a1a1a" stroke="#1a1a1a" stroke-width="0.22" >873</text>
<rect x="319.30" y="185.86" width="2.5" height="5.2" fill="#fff" stroke="#3030ff" stroke-width="1"/>
<text x="324.90" y="191.06" font-size="7.7" text-anchor="start" font-weight="normal" fill="#1a1a1a" stroke="#1a1a1a" stroke-width="0.22" >SPL</text>
<text x="352.60" y="191.06" font-size="7.7" text-anchor="start" font-weight="normal" fill="#1a1a1a" stroke="#1a1a1a" stroke-width="0.22" >Tconv</text>
<text x="397.00" y="191.06" font-size="7.7" text-anchor="end" font-weight="normal" fill="#1a1a1a" stroke="#1a1a1a" stroke-width="0.22" >892</text>
<rect x="318.80" y="195.34" width="3.5" height="6.2" fill="#ff0000"/>
<text x="324.90" y="201.04" font-size="7.7" text-anchor="start" font-weight="normal" fill="#1a1a1a" stroke="#1a1a1a" stroke-width="0.22" >TUM</text>
<text x="352.60" y="201.04" font-size="7.7" text-anchor="start" font-weight="normal" fill="#1a1a1a" stroke="#1a1a1a" stroke-width="0.22" >Treg</text>
<text x="397.00" y="201.04" font-size="7.7" text-anchor="end" font-weight="normal" fill="#1a1a1a" stroke="#1a1a1a" stroke-width="0.22" >1599</text>
<rect x="318.80" y="205.32" width="3.5" height="6.2" fill="#0000ff"/>
<text x="324.90" y="211.02" font-size="7.7" text-anchor="start" font-weight="normal" fill="#1a1a1a" stroke="#1a1a1a" stroke-width="0.22" >TUM</text>
<text x="352.60" y="211.02" font-size="7.7" text-anchor="start" font-weight="normal" fill="#1a1a1a" stroke="#1a1a1a" stroke-width="0.22" >Tconv</text>
<text x="397.00" y="211.02" font-size="7.7" text-anchor="end" font-weight="normal" fill="#1a1a1a" stroke="#1a1a1a" stroke-width="0.22" >1413</text>
<line x1="439.8" y1="25.8" x2="439.8" y2="133.07999999999998" stroke="#d8d8d8" stroke-width="0.9"/>
<line x1="456.2" y1="25.8" x2="456.2" y2="133.07999999999998" stroke="#d8d8d8" stroke-width="0.9"/>
<line x1="457.8" y1="25.8" x2="457.8" y2="133.07999999999998" stroke="#aaaaaa" stroke-width="0.9"/>
<line x1="474.2" y1="25.8" x2="474.2" y2="133.07999999999998" stroke="#d0d0d0" stroke-width="0.9"/>
<line x1="504.5" y1="25.8" x2="504.5" y2="133.07999999999998" stroke="#d0d0d0" stroke-width="0.9"/>
<line x1="529.4" y1="25.8" x2="529.4" y2="133.07999999999998" stroke="#d0d0d0" stroke-width="0.9"/>
<rect x="433.6" y="25.8" width="106.89999999999998" height="107.27999999999999" fill="none" stroke="#c4c4c4" stroke-width="1"/>
<line x1="433.6" y1="63.0" x2="540.5" y2="63.0" stroke="#9a9a9a" stroke-width="0.8"/>
<path d="M452.90,63.00 L452.90,62.60 L453.53,61.29 L454.45,59.54 L455.42,57.34 L456.20,54.85 L457.07,47.04 L457.80,40.01 L458.88,34.12 L460.00,29.92 L460.98,30.62 L461.90,34.93 L462.72,40.24 L463.60,45.22 L464.70,51.40 L466.00,57.15 L466.84,59.30 L467.80,60.63 L468.69,61.84 L469.30,62.60 L469.30,63.00 Z" fill="#6a6a6a" stroke="#5a5a5a" stroke-width="0.4"/>
<line x1="433.6" y1="80.52" x2="540.5" y2="80.52" stroke="#ffa8a8" stroke-width="0.8"/>
<path d="M452.90,80.52 L452.90,80.20 L453.44,79.33 L454.18,78.35 L455.07,77.43 L456.03,75.51 L456.98,74.75 L457.86,72.87 L458.60,71.16 L459.61,67.85 L460.45,65.23 L461.19,61.38 L461.90,59.33 L462.77,58.02 L463.54,57.74 L464.40,57.00 L465.17,55.52 L466.00,54.40 L466.83,53.16 L467.60,52.40 L468.49,52.27 L469.29,53.37 L470.10,54.67 L470.84,54.01 L471.59,53.12 L472.60,53.02 L473.28,53.77 L474.06,55.62 L474.90,57.22 L475.78,58.25 L476.66,60.75 L477.50,61.38 L478.35,61.68 L479.26,61.70 L480.16,62.08 L481.01,62.88 L481.77,62.67 L482.40,62.71 L483.30,64.58 L484.00,68.21 L484.71,68.19 L485.54,68.08 L486.44,68.23 L487.30,69.42 L488.11,69.61 L488.91,70.95 L489.73,71.80 L490.60,73.50 L491.30,73.37 L491.99,74.94 L492.72,75.89 L493.57,76.56 L494.60,77.66 L495.28,77.43 L496.03,77.66 L496.84,78.17 L497.70,78.02 L498.58,78.37 L499.47,78.49 L500.34,78.35 L501.19,78.67 L502.00,78.73 L502.91,79.02 L503.86,79.24 L504.82,79.52 L505.76,79.60 L506.64,79.79 L507.43,79.95 L508.10,80.09 L508.60,80.20 L508.60,80.52 Z" fill="rgba(255,70,70,0.24)" stroke="none"/>
<path d="M452.90,80.52 L452.90,80.20 L453.44,79.33 L454.18,78.35 L455.07,77.43 L456.03,75.51 L456.98,74.75 L457.86,72.87 L458.60,71.16 L459.61,67.85 L460.45,65.23 L461.19,61.38 L461.90,59.33 L462.77,58.02 L463.54,57.74 L464.40,57.00 L465.17,55.52 L466.00,54.40 L466.83,53.16 L467.60,52.40 L468.49,52.27 L469.29,53.37 L470.10,54.67 L470.84,54.01 L471.59,53.12 L472.60,53.02 L473.28,53.77 L474.06,55.62 L474.90,57.22 L475.78,58.25 L476.66,60.75 L477.50,61.38 L478.35,61.68 L479.26,61.70 L480.16,62.08 L481.01,62.88 L481.77,62.67 L482.40,62.71 L483.30,64.58 L484.00,68.21 L484.71,68.19 L485.54,68.08 L486.44,68.23 L487.30,69.42 L488.11,69.61 L488.91,70.95 L489.73,71.80 L490.60,73.50 L491.30,73.37 L491.99,74.94 L492.72,75.89 L493.57,76.56 L494.60,77.66 L495.28,77.43 L496.03,77.66 L496.84,78.17 L497.70,78.02 L498.58,78.37 L499.47,78.49 L500.34,78.35 L501.19,78.67 L502.00,78.73 L502.91,79.02 L503.86,79.24 L504.82,79.52 L505.76,79.60 L506.64,79.79 L507.43,79.95 L508.10,80.09 L508.60,80.20" fill="none" stroke="#ff4040" stroke-width="1.0" stroke-linejoin="round"/>
<line x1="433.6" y1="98.03999999999999" x2="540.5" y2="98.03999999999999" stroke="#8a8aff" stroke-width="0.8"/>
<path d="M452.90,98.04 L452.90,98.40 L453.51,97.96 L454.40,97.36 L455.36,96.53 L456.20,95.18 L457.09,92.66 L457.89,89.75 L458.60,86.14 L459.45,79.73 L460.30,72.78 L461.45,68.73 L462.70,66.20 L463.53,65.85 L464.37,68.22 L465.20,69.91 L465.91,72.77 L466.61,75.41 L467.60,77.85 L468.27,79.79 L469.02,80.66 L469.84,82.82 L470.73,83.68 L471.65,84.65 L472.60,86.24 L473.35,87.18 L474.16,87.79 L475.00,88.67 L475.86,89.26 L476.71,89.57 L477.55,90.76 L478.35,90.38 L479.10,91.36 L480.01,92.00 L480.85,92.60 L481.65,93.27 L482.43,94.07 L483.20,94.63 L484.00,95.18 L484.87,95.85 L485.81,96.42 L486.76,97.06 L487.63,97.60 L488.37,98.06 L488.90,98.40 L488.90,98.04 Z" fill="rgba(80,80,255,0.26)" stroke="none"/>
<path d="M452.90,98.04 L452.90,98.40 L453.51,97.96 L454.40,97.36 L455.36,96.53 L456.20,95.18 L457.09,92.66 L457.89,89.75 L458.60,86.14 L459.45,79.73 L460.30,72.78 L461.45,68.73 L462.70,66.20 L463.53,65.85 L464.37,68.22 L465.20,69.91 L465.91,72.77 L466.61,75.41 L467.60,77.85 L468.27,79.79 L469.02,80.66 L469.84,82.82 L470.73,83.68 L471.65,84.65 L472.60,86.24 L473.35,87.18 L474.16,87.79 L475.00,88.67 L475.86,89.26 L476.71,89.57 L477.55,90.76 L478.35,90.38 L479.10,91.36 L480.01,92.00 L480.85,92.60 L481.65,93.27 L482.43,94.07 L483.20,94.63 L484.00,95.18 L484.87,95.85 L485.81,96.42 L486.76,97.06 L487.63,97.60 L488.37,98.06 L488.90,98.40" fill="none" stroke="#4444ff" stroke-width="1.05" stroke-linejoin="round"/>
<line x1="433.6" y1="115.56" x2="540.5" y2="115.56" stroke="#ff8080" stroke-width="0.8"/>
<path d="M452.90,115.56 L452.90,115.60 L453.43,115.40 L454.17,115.16 L455.04,114.88 L456.00,114.69 L456.98,114.33 L457.93,113.54 L458.79,113.20 L459.50,112.88 L460.81,111.42 L461.75,110.42 L462.70,106.82 L463.48,105.28 L464.24,103.49 L465.06,103.54 L466.00,102.42 L466.72,101.66 L467.51,100.59 L468.35,101.89 L469.21,102.10 L470.06,99.91 L470.90,100.81 L471.72,100.55 L472.53,99.79 L473.35,99.49 L474.17,98.71 L474.98,97.57 L475.80,98.60 L476.63,96.35 L477.46,97.31 L478.30,97.16 L479.13,97.19 L479.93,97.65 L480.70,96.52 L481.58,95.79 L482.44,94.88 L483.26,94.41 L484.04,94.22 L484.80,92.54 L485.68,92.52 L486.50,92.57 L487.29,91.70 L488.10,91.65 L488.93,91.84 L489.76,91.18 L490.58,90.87 L491.40,89.84 L492.20,90.65 L493.00,89.17 L493.80,89.83 L494.60,90.61 L495.40,90.32 L496.19,90.45 L497.02,92.20 L497.90,92.41 L498.66,93.92 L499.44,95.32 L500.26,98.07 L501.12,99.48 L502.00,102.02 L502.75,103.07 L503.51,104.19 L504.29,106.06 L505.11,106.82 L505.98,109.55 L506.90,109.55 L507.67,110.34 L508.53,110.79 L509.43,111.56 L510.35,112.96 L511.25,113.42 L512.10,114.33 L512.86,114.85 L513.50,115.30 L514.73,115.82 L515.50,115.73 L516.00,115.60 L516.00,115.56 Z" fill="#ff0000" stroke="#ff0000" stroke-width="0.3"/>
<line x1="433.6" y1="133.07999999999998" x2="540.5" y2="133.07999999999998" stroke="#8080ff" stroke-width="0.8"/>
<path d="M456.20,133.08 L456.20,133.20 L456.78,132.10 L457.63,130.79 L458.59,128.35 L459.52,126.53 L460.30,124.42 L461.55,117.80 L462.70,110.94 L463.46,108.97 L464.29,106.51 L465.15,103.87 L466.00,103.81 L466.82,102.47 L467.65,102.67 L468.48,103.33 L469.30,103.95 L470.09,104.34 L470.85,105.16 L471.66,104.92 L472.60,106.41 L473.31,107.73 L474.06,109.13 L474.85,110.17 L475.69,111.00 L476.57,112.78 L477.50,114.20 L478.24,114.50 L479.01,115.49 L479.82,115.89 L480.64,116.53 L481.48,117.03 L482.33,117.73 L483.17,118.04 L484.00,119.63 L484.81,120.37 L485.61,120.16 L486.40,120.99 L487.20,121.66 L488.01,122.13 L488.84,123.72 L489.70,123.64 L490.60,124.22 L491.36,125.44 L492.18,125.36 L493.02,126.39 L493.89,126.52 L494.76,127.09 L495.62,127.91 L496.46,128.62 L497.26,128.43 L498.01,129.61 L498.70,130.29 L499.76,130.69 L500.75,131.31 L501.66,131.93 L502.45,132.32 L503.10,132.70 L503.60,133.00 L503.60,133.08 Z" fill="#0000ff" stroke="#0000ff" stroke-width="0.3"/>
<line x1="433.6" y1="133.07999999999998" x2="540.5" y2="133.07999999999998" stroke="#8c8cf0" stroke-width="0.8"/>
<rect x="435.60" y="132.88" width="0.9" height="1.4" fill="#333" opacity="0.55"/>
<rect x="438.70" y="132.88" width="0.9" height="1.4" fill="#333" opacity="0.55"/>
<rect x="441.80" y="132.88" width="0.9" height="1.4" fill="#333" opacity="0.55"/>
<rect x="444.90" y="132.88" width="0.9" height="1.4" fill="#333" opacity="0.55"/>
<rect x="448.00" y="132.88" width="0.9" height="1.4" fill="#333" opacity="0.55"/>
<rect x="451.10" y="132.88" width="0.9" height="1.4" fill="#333" opacity="0.55"/>
<rect x="454.20" y="132.88" width="0.9" height="1.4" fill="#333" opacity="0.55"/>
<rect x="457.30" y="132.88" width="0.9" height="1.4" fill="#333" opacity="0.55"/>
<rect x="460.40" y="132.88" width="0.9" height="1.4" fill="#333" opacity="0.55"/>
<rect x="463.50" y="132.88" width="0.9" height="1.4" fill="#333" opacity="0.55"/>
<rect x="466.60" y="132.88" width="0.9" height="1.4" fill="#333" opacity="0.55"/>
<rect x="469.70" y="132.88" width="0.9" height="1.4" fill="#333" opacity="0.55"/>
<rect x="472.80" y="132.88" width="0.9" height="1.4" fill="#333" opacity="0.55"/>
<rect x="475.90" y="132.88" width="0.9" height="1.4" fill="#333" opacity="0.55"/>
<rect x="479.00" y="132.88" width="0.9" height="1.4" fill="#333" opacity="0.55"/>
<rect x="482.10" y="132.88" width="0.9" height="1.4" fill="#333" opacity="0.55"/>
<rect x="485.20" y="132.88" width="0.9" height="1.4" fill="#333" opacity="0.55"/>
<rect x="488.30" y="132.88" width="0.9" height="1.4" fill="#333" opacity="0.55"/>
<rect x="491.40" y="132.88" width="0.9" height="1.4" fill="#333" opacity="0.55"/>
<rect x="494.50" y="132.88" width="0.9" height="1.4" fill="#333" opacity="0.55"/>
<rect x="497.60" y="132.88" width="0.9" height="1.4" fill="#333" opacity="0.55"/>
<rect x="500.70" y="132.88" width="0.9" height="1.4" fill="#333" opacity="0.55"/>
<rect x="503.80" y="132.88" width="0.9" height="1.4" fill="#333" opacity="0.55"/>
<rect x="506.90" y="132.88" width="0.9" height="1.4" fill="#333" opacity="0.55"/>
<rect x="510.00" y="132.88" width="0.9" height="1.4" fill="#333" opacity="0.55"/>
<rect x="513.10" y="132.88" width="0.9" height="1.4" fill="#333" opacity="0.55"/>
<rect x="516.20" y="132.88" width="0.9" height="1.4" fill="#333" opacity="0.55"/>
<rect x="519.30" y="132.88" width="0.9" height="1.4" fill="#333" opacity="0.55"/>
<rect x="522.40" y="132.88" width="0.9" height="1.4" fill="#333" opacity="0.55"/>
<rect x="525.50" y="132.88" width="0.9" height="1.4" fill="#333" opacity="0.55"/>
<rect x="528.60" y="132.88" width="0.9" height="1.4" fill="#333" opacity="0.55"/>
<rect x="531.70" y="132.88" width="0.9" height="1.4" fill="#333" opacity="0.55"/>
<rect x="534.80" y="132.88" width="0.9" height="1.4" fill="#333" opacity="0.55"/>
<rect x="537.90" y="132.88" width="0.9" height="1.4" fill="#333" opacity="0.55"/>
<rect x="454.3" y="132.48" width="6.8" height="1.9" fill="#111"/>
<text x="438.40" y="143.30" font-size="6.2" fill="#222">-10<tspan font-size="4.9" dy="-3">3</tspan></text>
<text x="457.80" y="143.30" font-size="6.2" text-anchor="start" font-weight="normal" fill="#222" stroke="#222" stroke-width="0.22" >0</text>
<text x="474.70" y="143.30" font-size="6.2" fill="#222" stroke="#222" stroke-width="0.15" text-anchor="start">10<tspan font-size="5.27" dy="-3.10">3</tspan></text>
<text x="504.00" y="143.30" font-size="6.2" fill="#222" stroke="#222" stroke-width="0.15" text-anchor="start">10<tspan font-size="5.27" dy="-3.10">4</tspan></text>
<text x="528.00" y="143.30" font-size="6.2" fill="#222" stroke="#222" stroke-width="0.15" text-anchor="start">10<tspan font-size="5.27" dy="-3.10">5</tspan></text>
<text x="486.30" y="157.50" font-size="10" text-anchor="middle" font-weight="normal" fill="#000" stroke="#000" stroke-width="0.18" >OX40 BV605</text>
<rect x="433.7" y="163.5" width="76.40000000000003" height="49.900000000000006" fill="#fff" stroke="#b4b4b4" stroke-width="0.9"/>
<line x1="433.7" y1="173.48" x2="510.1" y2="173.48" stroke="#bababa" stroke-width="0.9"/>
<line x1="433.7" y1="183.46" x2="510.1" y2="183.46" stroke="#bababa" stroke-width="0.9"/>
<line x1="433.7" y1="193.44" x2="510.1" y2="193.44" stroke="#bababa" stroke-width="0.9"/>
<line x1="433.7" y1="203.42" x2="510.1" y2="203.42" stroke="#bababa" stroke-width="0.9"/>
<line x1="439.8" y1="163.5" x2="439.8" y2="213.4" stroke="#bababa" stroke-width="0.9"/>
<line x1="461.7" y1="163.5" x2="461.7" y2="213.4" stroke="#bababa" stroke-width="0.9"/>
<line x1="487.8" y1="163.5" x2="487.8" y2="213.4" stroke="#bababa" stroke-width="0.9"/>
<rect x="434.90" y="165.40" width="3.5" height="6.2" fill="#7a7a7a"/>
<text x="441.00" y="171.10" font-size="7.7" text-anchor="start" font-weight="normal" fill="#1a1a1a" stroke="#1a1a1a" stroke-width="0.22" >SPL</text>
<text x="463.30" y="171.10" font-size="7.7" text-anchor="start" font-weight="normal" fill="#1a1a1a" stroke="#1a1a1a" stroke-width="0.22" >CD4-</text>
<text x="505.90" y="171.10" font-size="7.7" text-anchor="end" font-weight="normal" fill="#1a1a1a" stroke="#1a1a1a" stroke-width="0.22" >221</text>
<rect x="435.40" y="175.88" width="2.5" height="5.2" fill="#fff" stroke="#ff3030" stroke-width="1"/>
<text x="441.00" y="181.08" font-size="7.7" text-anchor="start" font-weight="normal" fill="#1a1a1a" stroke="#1a1a1a" stroke-width="0.22" >SPL</text>
<text x="463.30" y="181.08" font-size="7.7" text-anchor="start" font-weight="normal" fill="#1a1a1a" stroke="#1a1a1a" stroke-width="0.22" >Treg</text>
<text x="505.90" y="181.08" font-size="7.7" text-anchor="end" font-weight="normal" fill="#1a1a1a" stroke="#1a1a1a" stroke-width="0.22" >952</text>
<rect x="435.40" y="185.86" width="2.5" height="5.2" fill="#fff" stroke="#3030ff" stroke-width="1"/>
<text x="441.00" y="191.06" font-size="7.7" text-anchor="start" font-weight="normal" fill="#1a1a1a" stroke="#1a1a1a" stroke-width="0.22" >SPL</text>
<text x="463.30" y="191.06" font-size="7.7" text-anchor="start" font-weight="normal" fill="#1a1a1a" stroke="#1a1a1a" stroke-width="0.22" >Tconv</text>
<text x="505.90" y="191.06" font-size="7.7" text-anchor="end" font-weight="normal" fill="#1a1a1a" stroke="#1a1a1a" stroke-width="0.22" >540</text>
<rect x="434.90" y="195.34" width="3.5" height="6.2" fill="#ff0000"/>
<text x="441.00" y="201.04" font-size="7.7" text-anchor="start" font-weight="normal" fill="#1a1a1a" stroke="#1a1a1a" stroke-width="0.22" >TUM</text>
<text x="463.30" y="201.04" font-size="7.7" text-anchor="start" font-weight="normal" fill="#1a1a1a" stroke="#1a1a1a" stroke-width="0.22" >Treg</text>
<text x="505.90" y="201.04" font-size="7.7" text-anchor="end" font-weight="normal" fill="#1a1a1a" stroke="#1a1a1a" stroke-width="0.22" >2257</text>
<rect x="434.90" y="205.32" width="3.5" height="6.2" fill="#0000ff"/>
<text x="441.00" y="211.02" font-size="7.7" text-anchor="start" font-weight="normal" fill="#1a1a1a" stroke="#1a1a1a" stroke-width="0.22" >TUM</text>
<text x="463.30" y="211.02" font-size="7.7" text-anchor="start" font-weight="normal" fill="#1a1a1a" stroke="#1a1a1a" stroke-width="0.22" >Tconv</text>
<text x="505.90" y="211.02" font-size="7.7" text-anchor="end" font-weight="normal" fill="#1a1a1a" stroke="#1a1a1a" stroke-width="0.22" >996</text>
<line x1="216.5" y1="222.2" x2="216.5" y2="329.47999999999996" stroke="#d8d8d8" stroke-width="0.9"/>
<line x1="219.7" y1="222.2" x2="219.7" y2="329.47999999999996" stroke="#aaaaaa" stroke-width="0.9"/>
<line x1="222.5" y1="222.2" x2="222.5" y2="329.47999999999996" stroke="#d8d8d8" stroke-width="0.9"/>
<line x1="242.5" y1="222.2" x2="242.5" y2="329.47999999999996" stroke="#d0d0d0" stroke-width="0.9"/>
<line x1="270.3" y1="222.2" x2="270.3" y2="329.47999999999996" stroke="#d0d0d0" stroke-width="0.9"/>
<line x1="295.4" y1="222.2" x2="295.4" y2="329.47999999999996" stroke="#d0d0d0" stroke-width="0.9"/>
<rect x="200.0" y="222.2" width="106.39999999999998" height="107.27999999999997" fill="none" stroke="#c4c4c4" stroke-width="1"/>
<line x1="200.0" y1="259.4" x2="306.4" y2="259.4" stroke="#9a9a9a" stroke-width="0.8"/>
<path d="M216.80,259.40 L216.80,259.20 L217.37,257.87 L218.18,256.11 L219.12,253.92 L220.07,251.92 L220.90,249.44 L221.78,246.34 L222.60,243.55 L223.39,240.03 L224.20,237.66 L225.06,234.07 L225.96,231.39 L226.79,228.85 L227.50,226.99 L229.10,227.25 L229.84,228.35 L230.68,230.20 L231.60,232.60 L232.35,234.68 L233.15,237.83 L233.98,239.98 L234.80,242.30 L235.62,244.81 L236.44,246.81 L237.27,248.51 L238.10,250.77 L238.91,251.99 L239.70,253.50 L240.52,254.98 L241.40,256.16 L241.95,256.52 L242.32,256.62 L242.82,256.76 L243.78,256.81 L245.50,256.79 L246.04,256.92 L246.63,257.02 L247.29,256.91 L247.99,257.13 L248.75,257.34 L249.54,257.03 L250.37,257.19 L251.23,257.25 L252.11,257.42 L253.02,257.40 L253.94,257.33 L254.87,257.31 L255.80,257.32 L256.73,257.40 L257.66,257.31 L258.57,257.49 L259.46,257.44 L260.34,257.37 L261.18,257.56 L262.00,257.60 L262.77,257.55 L263.50,257.70 L264.46,257.77 L265.39,257.65 L266.31,257.61 L267.20,257.79 L268.07,257.85 L268.92,257.90 L269.75,257.93 L270.56,257.94 L271.36,257.91 L272.14,258.08 L272.91,258.00 L273.67,258.04 L274.42,258.26 L275.15,258.20 L275.88,258.18 L276.60,258.29 L277.56,258.34 L278.54,258.42 L279.51,258.49 L280.47,258.56 L281.41,258.63 L282.32,258.69 L283.18,258.76 L283.98,258.82 L284.72,258.87 L285.37,258.92 L285.94,258.97 L286.40,259.00 L286.40,259.40 Z" fill="#6a6a6a" stroke="#5a5a5a" stroke-width="0.4"/>
<line x1="200.0" y1="276.91999999999996" x2="306.4" y2="276.91999999999996" stroke="#ffa8a8" stroke-width="0.8"/>
<path d="M212.00,276.92 L212.00,276.80 L212.56,276.72 L213.39,276.57 L214.40,276.20 L215.09,275.92 L215.84,275.59 L216.66,275.22 L217.55,274.74 L218.50,273.68 L219.25,272.58 L220.08,271.81 L220.96,270.16 L221.84,268.50 L222.70,266.63 L223.50,265.77 L224.20,263.89 L225.20,261.10 L226.01,257.73 L226.74,255.24 L227.50,253.07 L228.63,251.59 L229.75,250.84 L230.70,249.82 L231.65,248.15 L232.40,246.98 L234.00,248.53 L234.71,249.65 L235.54,252.39 L236.44,254.80 L237.30,257.82 L238.13,259.74 L238.96,262.18 L239.78,264.29 L240.60,267.77 L241.33,268.80 L241.99,270.42 L242.76,271.60 L243.80,272.57 L244.42,273.08 L245.06,273.17 L245.74,274.01 L246.48,273.67 L247.30,274.21 L248.21,274.42 L249.24,274.28 L250.40,274.57 L251.06,274.70 L251.79,274.78 L252.58,274.49 L253.42,274.66 L254.30,274.58 L255.21,274.43 L256.14,274.24 L257.08,274.69 L258.01,274.49 L258.93,274.50 L259.82,274.39 L260.68,274.35 L261.48,274.14 L262.23,274.25 L262.91,274.34 L263.50,274.10 L264.80,274.04 L265.46,274.21 L265.93,274.00 L266.63,274.05 L268.00,274.31 L268.57,274.05 L269.20,274.16 L269.88,273.82 L270.60,274.20 L271.36,274.21 L272.16,274.18 L272.99,274.54 L273.84,274.45 L274.72,274.41 L275.62,274.74 L276.53,274.56 L277.45,274.46 L278.37,274.69 L279.29,274.73 L280.20,274.77 L281.11,274.81 L282.00,274.87 L282.77,274.92 L283.59,275.32 L284.44,275.03 L285.33,275.23 L286.23,275.32 L287.16,275.49 L288.09,275.54 L289.02,275.69 L289.95,275.80 L290.88,275.69 L291.78,275.98 L292.66,275.98 L293.50,276.07 L294.31,276.14 L295.08,276.22 L295.79,276.29 L296.45,276.35 L297.04,276.41 L297.56,276.46 L298.00,276.50 L298.00,276.92 Z" fill="rgba(255,70,70,0.24)" stroke="none"/>
<path d="M212.00,276.92 L212.00,276.80 L212.56,276.72 L213.39,276.57 L214.40,276.20 L215.09,275.92 L215.84,275.59 L216.66,275.22 L217.55,274.74 L218.50,273.68 L219.25,272.58 L220.08,271.81 L220.96,270.16 L221.84,268.50 L222.70,266.63 L223.50,265.77 L224.20,263.89 L225.20,261.10 L226.01,257.73 L226.74,255.24 L227.50,253.07 L228.63,251.59 L229.75,250.84 L230.70,249.82 L231.65,248.15 L232.40,246.98 L234.00,248.53 L234.71,249.65 L235.54,252.39 L236.44,254.80 L237.30,257.82 L238.13,259.74 L238.96,262.18 L239.78,264.29 L240.60,267.77 L241.33,268.80 L241.99,270.42 L242.76,271.60 L243.80,272.57 L244.42,273.08 L245.06,273.17 L245.74,274.01 L246.48,273.67 L247.30,274.21 L248.21,274.42 L249.24,274.28 L250.40,274.57 L251.06,274.70 L251.79,274.78 L252.58,274.49 L253.42,274.66 L254.30,274.58 L255.21,274.43 L256.14,274.24 L257.08,274.69 L258.01,274.49 L258.93,274.50 L259.82,274.39 L260.68,274.35 L261.48,274.14 L262.23,274.25 L262.91,274.34 L263.50,274.10 L264.80,274.04 L265.46,274.21 L265.93,274.00 L266.63,274.05 L268.00,274.31 L268.57,274.05 L269.20,274.16 L269.88,273.82 L270.60,274.20 L271.36,274.21 L272.16,274.18 L272.99,274.54 L273.84,274.45 L274.72,274.41 L275.62,274.74 L276.53,274.56 L277.45,274.46 L278.37,274.69 L279.29,274.73 L280.20,274.77 L281.11,274.81 L282.00,274.87 L282.77,274.92 L283.59,275.32 L284.44,275.03 L285.33,275.23 L286.23,275.32 L287.16,275.49 L288.09,275.54 L289.02,275.69 L289.95,275.80 L290.88,275.69 L291.78,275.98 L292.66,275.98 L293.50,276.07 L294.31,276.14 L295.08,276.22 L295.79,276.29 L296.45,276.35 L297.04,276.41 L297.56,276.46 L298.00,276.50" fill="none" stroke="#ff4040" stroke-width="1.0" stroke-linejoin="round"/>
<line x1="200.0" y1="294.44" x2="306.4" y2="294.44" stroke="#8a8aff" stroke-width="0.8"/>
<path d="M216.00,294.44 L216.00,294.20 L216.55,293.81 L217.31,293.41 L218.20,292.79 L219.18,291.89 L220.18,291.22 L221.14,290.32 L222.00,288.95 L222.90,287.21 L223.78,285.19 L224.62,281.94 L225.44,279.42 L226.24,276.86 L227.00,275.35 L227.90,272.58 L228.77,270.38 L229.59,268.39 L230.34,266.25 L231.00,265.14 L232.12,262.83 L233.00,261.26 L234.00,262.20 L235.00,262.54 L235.94,264.28 L237.00,267.29 L237.93,271.24 L238.96,276.57 L240.00,280.55 L240.93,284.78 L241.85,287.34 L243.00,289.76 L243.54,290.81 L243.96,291.52 L244.44,292.17 L245.15,292.20 L246.28,292.31 L248.00,292.72 L248.52,292.72 L249.09,292.74 L249.70,292.67 L250.35,292.86 L251.04,292.80 L251.76,292.77 L252.51,293.03 L253.29,292.82 L254.09,292.84 L254.92,292.97 L255.77,292.81 L256.63,293.06 L257.50,293.02 L258.39,293.02 L259.28,293.00 L260.18,293.05 L261.08,293.05 L261.98,293.11 L262.87,293.03 L263.76,293.12 L264.64,293.09 L265.50,293.05 L266.36,293.06 L267.19,293.22 L268.00,293.23 L268.82,293.38 L269.66,293.29 L270.53,293.28 L271.42,293.19 L272.32,293.45 L273.24,293.44 L274.16,293.48 L275.10,293.53 L276.03,293.57 L276.96,293.62 L277.88,293.67 L278.80,293.71 L279.70,293.76 L280.58,293.81 L281.44,293.85 L282.27,293.90 L283.08,293.94 L283.85,293.98 L284.59,294.02 L285.28,294.06 L285.93,294.09 L286.53,294.12 L287.08,294.15 L287.57,294.18 L288.00,294.20 L288.00,294.44 Z" fill="rgba(80,80,255,0.26)" stroke="none"/>
<path d="M216.00,294.44 L216.00,294.20 L216.55,293.81 L217.31,293.41 L218.20,292.79 L219.18,291.89 L220.18,291.22 L221.14,290.32 L222.00,288.95 L222.90,287.21 L223.78,285.19 L224.62,281.94 L225.44,279.42 L226.24,276.86 L227.00,275.35 L227.90,272.58 L228.77,270.38 L229.59,268.39 L230.34,266.25 L231.00,265.14 L232.12,262.83 L233.00,261.26 L234.00,262.20 L235.00,262.54 L235.94,264.28 L237.00,267.29 L237.93,271.24 L238.96,276.57 L240.00,280.55 L240.93,284.78 L241.85,287.34 L243.00,289.76 L243.54,290.81 L243.96,291.52 L244.44,292.17 L245.15,292.20 L246.28,292.31 L248.00,292.72 L248.52,292.72 L249.09,292.74 L249.70,292.67 L250.35,292.86 L251.04,292.80 L251.76,292.77 L252.51,293.03 L253.29,292.82 L254.09,292.84 L254.92,292.97 L255.77,292.81 L256.63,293.06 L257.50,293.02 L258.39,293.02 L259.28,293.00 L260.18,293.05 L261.08,293.05 L261.98,293.11 L262.87,293.03 L263.76,293.12 L264.64,293.09 L265.50,293.05 L266.36,293.06 L267.19,293.22 L268.00,293.23 L268.82,293.38 L269.66,293.29 L270.53,293.28 L271.42,293.19 L272.32,293.45 L273.24,293.44 L274.16,293.48 L275.10,293.53 L276.03,293.57 L276.96,293.62 L277.88,293.67 L278.80,293.71 L279.70,293.76 L280.58,293.81 L281.44,293.85 L282.27,293.90 L283.08,293.94 L283.85,293.98 L284.59,294.02 L285.28,294.06 L285.93,294.09 L286.53,294.12 L287.08,294.15 L287.57,294.18 L288.00,294.20" fill="none" stroke="#4444ff" stroke-width="1.05" stroke-linejoin="round"/>
<line x1="200.0" y1="311.96" x2="306.4" y2="311.96" stroke="#ff8080" stroke-width="0.8"/>
<path d="M219.00,311.96 L219.00,312.20 L219.54,311.66 L220.30,310.93 L221.19,310.19 L222.15,309.01 L223.11,307.77 L224.00,306.98 L224.86,305.56 L225.74,305.07 L226.62,302.86 L227.48,302.46 L228.28,300.71 L229.00,299.50 L230.11,296.84 L231.00,294.30 L232.00,292.98 L232.72,291.88 L233.48,291.23 L234.28,291.12 L235.12,289.73 L236.00,290.39 L236.79,289.03 L237.63,289.98 L238.50,290.04 L239.37,290.92 L240.21,290.35 L241.00,290.74 L241.85,291.76 L242.62,292.76 L243.38,293.31 L244.15,296.38 L245.00,295.85 L245.79,296.16 L246.63,296.02 L247.50,296.41 L248.37,295.15 L249.21,295.60 L250.00,295.02 L250.86,295.49 L251.67,296.20 L252.45,295.87 L253.22,297.02 L254.00,297.99 L254.80,298.27 L255.60,298.50 L256.40,298.42 L257.20,298.53 L258.00,298.97 L258.78,299.62 L259.55,300.18 L260.33,300.04 L261.14,300.22 L262.00,300.81 L262.80,300.35 L263.67,300.77 L264.56,301.29 L265.44,299.51 L266.27,299.35 L267.00,298.95 L268.07,297.06 L268.93,298.22 L270.00,297.63 L270.72,298.24 L271.52,297.89 L272.38,298.24 L273.26,300.27 L274.14,299.21 L275.00,299.35 L275.82,300.50 L276.63,301.31 L277.44,300.31 L278.26,302.39 L279.11,302.86 L280.00,303.05 L280.80,303.05 L281.64,302.95 L282.50,303.95 L283.38,305.42 L284.26,304.51 L285.13,305.31 L286.00,305.69 L286.86,306.52 L287.71,306.57 L288.57,307.94 L289.43,308.65 L290.29,308.80 L291.14,309.31 L292.00,309.84 L292.91,310.38 L293.89,310.90 L294.89,311.18 L295.85,311.51 L296.72,311.78 L297.46,312.02 L298.00,312.20 L298.00,311.96 Z" fill="#ff0000" stroke="#ff0000" stroke-width="0.3"/>
<line x1="200.0" y1="329.47999999999996" x2="306.4" y2="329.47999999999996" stroke="#8080ff" stroke-width="0.8"/>
<path d="M221.00,329.48 L221.00,329.70 L221.56,328.83 L222.36,327.51 L223.28,326.08 L224.20,325.10 L225.00,323.34 L226.07,322.02 L227.04,317.73 L228.00,313.30 L229.00,310.11 L230.00,307.07 L231.00,303.62 L232.04,302.22 L233.07,299.97 L234.00,299.13 L235.00,298.15 L236.00,300.49 L236.93,303.31 L237.96,306.69 L239.00,309.63 L239.89,312.97 L240.78,314.78 L242.00,318.15 L242.66,318.39 L243.38,319.64 L244.15,320.43 L244.99,320.41 L245.91,321.03 L246.91,320.67 L248.00,322.00 L248.69,321.89 L249.44,322.10 L250.22,323.01 L251.04,322.82 L251.88,322.80 L252.75,324.25 L253.63,323.38 L254.52,323.84 L255.41,324.23 L256.29,323.73 L257.15,324.52 L258.00,324.76 L258.83,324.86 L259.67,324.59 L260.50,324.39 L261.33,324.66 L262.17,325.14 L263.00,324.98 L263.83,325.34 L264.67,325.00 L265.50,325.88 L266.33,326.42 L267.17,325.71 L268.00,326.09 L268.83,326.15 L269.67,326.09 L270.50,326.43 L271.33,326.13 L272.17,326.40 L273.00,326.65 L273.83,327.26 L274.67,326.84 L275.50,326.99 L276.33,327.39 L277.17,327.40 L278.00,327.87 L278.87,327.97 L279.78,327.96 L280.73,328.12 L281.70,328.21 L282.67,328.55 L283.62,328.75 L284.54,328.95 L285.41,329.14 L286.20,329.31 L286.91,329.47 L287.52,329.60 L288.00,329.70 L288.00,329.48 Z" fill="#0000ff" stroke="#0000ff" stroke-width="0.3"/>
<line x1="200.0" y1="329.47999999999996" x2="306.4" y2="329.47999999999996" stroke="#8c8cf0" stroke-width="0.8"/>
<rect x="202.00" y="329.28" width="0.9" height="1.4" fill="#333" opacity="0.55"/>
<rect x="205.10" y="329.28" width="0.9" height="1.4" fill="#333" opacity="0.55"/>
<rect x="208.20" y="329.28" width="0.9" height="1.4" fill="#333" opacity="0.55"/>
<rect x="211.30" y="329.28" width="0.9" height="1.4" fill="#333" opacity="0.55"/>
<rect x="214.40" y="329.28" width="0.9" height="1.4" fill="#333" opacity="0.55"/>
<rect x="217.50" y="329.28" width="0.9" height="1.4" fill="#333" opacity="0.55"/>
<rect x="220.60" y="329.28" width="0.9" height="1.4" fill="#333" opacity="0.55"/>
<rect x="223.70" y="329.28" width="0.9" height="1.4" fill="#333" opacity="0.55"/>
<rect x="226.80" y="329.28" width="0.9" height="1.4" fill="#333" opacity="0.55"/>
<rect x="229.90" y="329.28" width="0.9" height="1.4" fill="#333" opacity="0.55"/>
<rect x="233.00" y="329.28" width="0.9" height="1.4" fill="#333" opacity="0.55"/>
<rect x="236.10" y="329.28" width="0.9" height="1.4" fill="#333" opacity="0.55"/>
<rect x="239.20" y="329.28" width="0.9" height="1.4" fill="#333" opacity="0.55"/>
<rect x="242.30" y="329.28" width="0.9" height="1.4" fill="#333" opacity="0.55"/>
<rect x="245.40" y="329.28" width="0.9" height="1.4" fill="#333" opacity="0.55"/>
<rect x="248.50" y="329.28" width="0.9" height="1.4" fill="#333" opacity="0.55"/>
<rect x="251.60" y="329.28" width="0.9" height="1.4" fill="#333" opacity="0.55"/>
<rect x="254.70" y="329.28" width="0.9" height="1.4" fill="#333" opacity="0.55"/>
<rect x="257.80" y="329.28" width="0.9" height="1.4" fill="#333" opacity="0.55"/>
<rect x="260.90" y="329.28" width="0.9" height="1.4" fill="#333" opacity="0.55"/>
<rect x="264.00" y="329.28" width="0.9" height="1.4" fill="#333" opacity="0.55"/>
<rect x="267.10" y="329.28" width="0.9" height="1.4" fill="#333" opacity="0.55"/>
<rect x="270.20" y="329.28" width="0.9" height="1.4" fill="#333" opacity="0.55"/>
<rect x="273.30" y="329.28" width="0.9" height="1.4" fill="#333" opacity="0.55"/>
<rect x="276.40" y="329.28" width="0.9" height="1.4" fill="#333" opacity="0.55"/>
<rect x="279.50" y="329.28" width="0.9" height="1.4" fill="#333" opacity="0.55"/>
<rect x="282.60" y="329.28" width="0.9" height="1.4" fill="#333" opacity="0.55"/>
<rect x="285.70" y="329.28" width="0.9" height="1.4" fill="#333" opacity="0.55"/>
<rect x="288.80" y="329.28" width="0.9" height="1.4" fill="#333" opacity="0.55"/>
<rect x="291.90" y="329.28" width="0.9" height="1.4" fill="#333" opacity="0.55"/>
<rect x="295.00" y="329.28" width="0.9" height="1.4" fill="#333" opacity="0.55"/>
<rect x="298.10" y="329.28" width="0.9" height="1.4" fill="#333" opacity="0.55"/>
<rect x="301.20" y="329.28" width="0.9" height="1.4" fill="#333" opacity="0.55"/>
<rect x="304.30" y="329.28" width="0.9" height="1.4" fill="#333" opacity="0.55"/>
<rect x="215.8" y="328.87999999999994" width="6.8" height="1.9" fill="#111"/>
<text x="219.60" y="340.20" font-size="6.2" text-anchor="start" font-weight="normal" fill="#222" stroke="#222" stroke-width="0.22" >0</text>
<text x="241.70" y="340.20" font-size="6.2" fill="#222" stroke="#222" stroke-width="0.15" text-anchor="start">10<tspan font-size="5.27" dy="-3.10">3</tspan></text>
<text x="269.70" y="340.20" font-size="6.2" fill="#222" stroke="#222" stroke-width="0.15" text-anchor="start">10<tspan font-size="5.27" dy="-3.10">4</tspan></text>
<text x="294.70" y="340.20" font-size="6.2" fill="#222" stroke="#222" stroke-width="0.15" text-anchor="start">10<tspan font-size="5.27" dy="-3.10">5</tspan></text>
<text x="252.10" y="355.00" font-size="10" text-anchor="middle" font-weight="normal" fill="#000" stroke="#000" stroke-width="0.18" >Ki67 PE-CY7</text>
<rect x="198.9" y="359.5" width="77.9" height="50.80000000000001" fill="#fff" stroke="#b4b4b4" stroke-width="0.9"/>
<line x1="198.9" y1="369.66" x2="276.8" y2="369.66" stroke="#bababa" stroke-width="0.9"/>
<line x1="198.9" y1="379.82" x2="276.8" y2="379.82" stroke="#bababa" stroke-width="0.9"/>
<line x1="198.9" y1="389.98" x2="276.8" y2="389.98" stroke="#bababa" stroke-width="0.9"/>
<line x1="198.9" y1="400.14" x2="276.8" y2="400.14" stroke="#bababa" stroke-width="0.9"/>
<line x1="204.8" y1="359.5" x2="204.8" y2="410.3" stroke="#bababa" stroke-width="0.9"/>
<line x1="227.3" y1="359.5" x2="227.3" y2="410.3" stroke="#bababa" stroke-width="0.9"/>
<line x1="253.5" y1="359.5" x2="253.5" y2="410.3" stroke="#bababa" stroke-width="0.9"/>
<rect x="200.10" y="361.40" width="3.5" height="6.2" fill="#7a7a7a"/>
<text x="206.00" y="367.10" font-size="7.7" text-anchor="start" font-weight="normal" fill="#1a1a1a" stroke="#1a1a1a" stroke-width="0.22" >SPL</text>
<text x="228.90" y="367.10" font-size="7.7" text-anchor="start" font-weight="normal" fill="#1a1a1a" stroke="#1a1a1a" stroke-width="0.22" >CD4-</text>
<text x="272.60" y="367.10" font-size="7.7" text-anchor="end" font-weight="normal" fill="#1a1a1a" stroke="#1a1a1a" stroke-width="0.22" >501</text>
<rect x="200.60" y="372.06" width="2.5" height="5.2" fill="#fff" stroke="#ff3030" stroke-width="1"/>
<text x="206.00" y="377.26" font-size="7.7" text-anchor="start" font-weight="normal" fill="#1a1a1a" stroke="#1a1a1a" stroke-width="0.22" >SPL</text>
<text x="228.90" y="377.26" font-size="7.7" text-anchor="start" font-weight="normal" fill="#1a1a1a" stroke="#1a1a1a" stroke-width="0.22" >Treg</text>
<text x="272.60" y="377.26" font-size="7.7" text-anchor="end" font-weight="normal" fill="#1a1a1a" stroke="#1a1a1a" stroke-width="0.22" >781</text>
<rect x="200.60" y="382.22" width="2.5" height="5.2" fill="#fff" stroke="#3030ff" stroke-width="1"/>
<text x="206.00" y="387.42" font-size="7.7" text-anchor="start" font-weight="normal" fill="#1a1a1a" stroke="#1a1a1a" stroke-width="0.22" >SPL</text>
<text x="228.90" y="387.42" font-size="7.7" text-anchor="start" font-weight="normal" fill="#1a1a1a" stroke="#1a1a1a" stroke-width="0.22" >Tconv</text>
<text x="272.60" y="387.42" font-size="7.7" text-anchor="end" font-weight="normal" fill="#1a1a1a" stroke="#1a1a1a" stroke-width="0.22" >549</text>
<rect x="200.10" y="391.88" width="3.5" height="6.2" fill="#ff0000"/>
<text x="206.00" y="397.58" font-size="7.7" text-anchor="start" font-weight="normal" fill="#1a1a1a" stroke="#1a1a1a" stroke-width="0.22" >TUM</text>
<text x="228.90" y="397.58" font-size="7.7" text-anchor="start" font-weight="normal" fill="#1a1a1a" stroke="#1a1a1a" stroke-width="0.22" >Treg</text>
<text x="272.60" y="397.58" font-size="7.7" text-anchor="end" font-weight="normal" fill="#1a1a1a" stroke="#1a1a1a" stroke-width="0.22" >2147</text>
<rect x="200.10" y="402.04" width="3.5" height="6.2" fill="#0000ff"/>
<text x="206.00" y="407.74" font-size="7.7" text-anchor="start" font-weight="normal" fill="#1a1a1a" stroke="#1a1a1a" stroke-width="0.22" >TUM</text>
<text x="228.90" y="407.74" font-size="7.7" text-anchor="start" font-weight="normal" fill="#1a1a1a" stroke="#1a1a1a" stroke-width="0.22" >Tconv</text>
<text x="272.60" y="407.74" font-size="7.7" text-anchor="end" font-weight="normal" fill="#1a1a1a" stroke="#1a1a1a" stroke-width="0.22" >846</text>
<line x1="323.6" y1="222.2" x2="323.6" y2="329.47999999999996" stroke="#d8d8d8" stroke-width="0.9"/>
<line x1="330.2" y1="222.2" x2="330.2" y2="329.47999999999996" stroke="#aaaaaa" stroke-width="0.9"/>
<line x1="336.4" y1="222.2" x2="336.4" y2="329.47999999999996" stroke="#d8d8d8" stroke-width="0.9"/>
<line x1="361.3" y1="222.2" x2="361.3" y2="329.47999999999996" stroke="#d0d0d0" stroke-width="0.9"/>
<line x1="386.6" y1="222.2" x2="386.6" y2="329.47999999999996" stroke="#d0d0d0" stroke-width="0.9"/>
<line x1="411.5" y1="222.2" x2="411.5" y2="329.47999999999996" stroke="#d0d0d0" stroke-width="0.9"/>
<rect x="315.4" y="222.2" width="107.0" height="107.27999999999997" fill="none" stroke="#c4c4c4" stroke-width="1"/>
<line x1="315.4" y1="259.4" x2="422.4" y2="259.4" stroke="#9a9a9a" stroke-width="0.8"/>
<path d="M326.90,259.40 L326.90,259.40 L327.55,257.53 L328.48,254.40 L329.40,250.93 L330.23,245.32 L331.06,239.64 L331.80,234.44 L332.65,230.24 L333.50,229.54 L334.60,229.80 L335.90,232.35 L336.64,234.38 L337.44,236.29 L338.30,238.29 L339.20,239.92 L339.97,241.48 L340.78,242.68 L341.62,243.90 L342.47,245.22 L343.30,247.12 L344.08,248.25 L344.82,249.59 L345.59,250.73 L346.43,252.68 L347.40,254.29 L348.14,254.96 L349.01,255.47 L349.95,256.64 L350.91,257.04 L351.83,257.82 L352.68,258.48 L353.38,259.00 L353.90,259.40 L353.90,259.40 Z" fill="#6a6a6a" stroke="#5a5a5a" stroke-width="0.4"/>
<line x1="315.4" y1="276.91999999999996" x2="422.4" y2="276.91999999999996" stroke="#ffa8a8" stroke-width="0.8"/>
<path d="M345.70,276.92 L345.70,276.80 L346.23,276.07 L346.94,275.08 L347.80,274.07 L348.74,273.14 L349.72,271.60 L350.67,269.95 L351.55,268.10 L352.30,266.64 L353.28,264.26 L354.12,261.93 L354.88,259.54 L355.62,255.95 L356.40,254.21 L357.26,252.14 L358.16,250.02 L359.04,247.68 L359.84,246.88 L360.50,246.71 L361.40,247.99 L362.10,250.02 L362.87,249.76 L363.74,248.84 L364.60,248.75 L365.75,251.50 L367.00,254.49 L367.82,256.59 L368.76,258.55 L369.64,259.61 L370.30,261.63 L371.00,265.09 L371.70,266.10 L372.60,267.05 L373.60,268.56 L374.33,269.38 L375.09,269.49 L375.95,269.90 L377.00,269.56 L377.70,270.22 L378.45,271.07 L379.25,271.31 L380.11,271.24 L381.02,271.80 L381.98,272.89 L383.00,273.39 L383.76,273.43 L384.59,273.62 L385.46,273.93 L386.36,274.19 L387.28,274.17 L388.19,274.52 L389.10,274.64 L389.98,275.09 L390.82,275.32 L391.60,275.46 L392.69,275.80 L393.78,276.00 L394.83,276.21 L395.82,276.40 L396.70,276.56 L397.44,276.69 L398.00,276.80 L398.00,276.92 Z" fill="rgba(255,70,70,0.24)" stroke="none"/>
<path d="M345.70,276.92 L345.70,276.80 L346.23,276.07 L346.94,275.08 L347.80,274.07 L348.74,273.14 L349.72,271.60 L350.67,269.95 L351.55,268.10 L352.30,266.64 L353.28,264.26 L354.12,261.93 L354.88,259.54 L355.62,255.95 L356.40,254.21 L357.26,252.14 L358.16,250.02 L359.04,247.68 L359.84,246.88 L360.50,246.71 L361.40,247.99 L362.10,250.02 L362.87,249.76 L363.74,248.84 L364.60,248.75 L365.75,251.50 L367.00,254.49 L367.82,256.59 L368.76,258.55 L369.64,259.61 L370.30,261.63 L371.00,265.09 L371.70,266.10 L372.60,267.05 L373.60,268.56 L374.33,269.38 L375.09,269.49 L375.95,269.90 L377.00,269.56 L377.70,270.22 L378.45,271.07 L379.25,271.31 L380.11,271.24 L381.02,271.80 L381.98,272.89 L383.00,273.39 L383.76,273.43 L384.59,273.62 L385.46,273.93 L386.36,274.19 L387.28,274.17 L388.19,274.52 L389.10,274.64 L389.98,275.09 L390.82,275.32 L391.60,275.46 L392.69,275.80 L393.78,276.00 L394.83,276.21 L395.82,276.40 L396.70,276.56 L397.44,276.69 L398.00,276.80" fill="none" stroke="#ff4040" stroke-width="1.0" stroke-linejoin="round"/>
<line x1="315.4" y1="294.44" x2="422.4" y2="294.44" stroke="#8a8aff" stroke-width="0.8"/>
<path d="M347.00,294.44 L347.00,294.30 L347.56,293.56 L348.33,292.49 L349.25,291.27 L350.22,289.64 L351.17,288.12 L352.00,287.19 L352.88,284.68 L353.72,282.35 L354.52,279.89 L355.28,277.74 L356.00,275.24 L357.07,272.26 L358.04,269.52 L359.00,267.58 L360.00,265.52 L361.00,263.86 L362.00,262.43 L363.00,262.77 L364.00,263.74 L365.00,264.69 L366.00,265.85 L367.00,266.53 L368.00,268.16 L368.96,270.58 L369.93,273.43 L371.00,276.55 L371.70,277.77 L372.43,278.28 L373.21,279.28 L374.06,279.45 L375.00,280.87 L375.75,282.03 L376.57,281.91 L377.43,284.09 L378.32,284.61 L379.23,284.98 L380.13,285.66 L381.00,287.48 L381.86,288.36 L382.71,288.73 L383.57,289.95 L384.43,291.02 L385.29,291.81 L386.14,292.29 L387.00,293.07 L387.91,293.44 L388.89,293.75 L389.89,293.95 L390.85,294.08 L391.72,294.16 L392.46,294.22 L393.00,294.30 L393.00,294.44 Z" fill="rgba(80,80,255,0.26)" stroke="none"/>
<path d="M347.00,294.44 L347.00,294.30 L347.56,293.56 L348.33,292.49 L349.25,291.27 L350.22,289.64 L351.17,288.12 L352.00,287.19 L352.88,284.68 L353.72,282.35 L354.52,279.89 L355.28,277.74 L356.00,275.24 L357.07,272.26 L358.04,269.52 L359.00,267.58 L360.00,265.52 L361.00,263.86 L362.00,262.43 L363.00,262.77 L364.00,263.74 L365.00,264.69 L366.00,265.85 L367.00,266.53 L368.00,268.16 L368.96,270.58 L369.93,273.43 L371.00,276.55 L371.70,277.77 L372.43,278.28 L373.21,279.28 L374.06,279.45 L375.00,280.87 L375.75,282.03 L376.57,281.91 L377.43,284.09 L378.32,284.61 L379.23,284.98 L380.13,285.66 L381.00,287.48 L381.86,288.36 L382.71,288.73 L383.57,289.95 L384.43,291.02 L385.29,291.81 L386.14,292.29 L387.00,293.07 L387.91,293.44 L388.89,293.75 L389.89,293.95 L390.85,294.08 L391.72,294.16 L392.46,294.22 L393.00,294.30" fill="none" stroke="#4444ff" stroke-width="1.05" stroke-linejoin="round"/>
<line x1="315.4" y1="311.96" x2="422.4" y2="311.96" stroke="#ff8080" stroke-width="0.8"/>
<path d="M350.00,311.96 L350.00,312.20 L350.56,311.81 L351.33,311.33 L352.25,310.68 L353.22,310.06 L354.17,309.52 L355.00,308.01 L355.88,306.04 L356.72,304.30 L357.52,302.17 L358.28,300.87 L359.00,298.14 L360.04,295.75 L360.96,293.14 L362.00,292.17 L362.75,290.93 L363.58,289.99 L364.42,287.86 L365.25,286.95 L366.00,286.87 L367.11,287.69 L368.11,288.77 L369.00,289.21 L370.00,289.55 L371.00,287.79 L371.93,289.21 L372.96,289.66 L374.00,291.69 L374.96,293.88 L375.93,296.97 L377.00,300.20 L377.74,300.76 L378.53,300.75 L379.35,301.53 L380.18,300.98 L381.00,301.73 L381.77,302.57 L382.50,303.70 L383.26,303.83 L384.07,304.47 L385.00,305.77 L385.75,307.11 L386.57,307.60 L387.43,307.80 L388.32,308.29 L389.23,308.84 L390.13,309.50 L391.00,310.07 L391.91,310.42 L392.89,310.92 L393.89,311.18 L394.85,311.51 L395.72,311.78 L396.46,312.02 L397.00,312.20 L397.00,311.96 Z" fill="#ff0000" stroke="#ff0000" stroke-width="0.3"/>
<line x1="315.4" y1="329.47999999999996" x2="422.4" y2="329.47999999999996" stroke="#8080ff" stroke-width="0.8"/>
<path d="M351.00,329.48 L351.00,329.70 L351.56,328.17 L352.33,325.70 L353.25,323.35 L354.22,320.21 L355.17,317.60 L356.00,315.27 L356.88,312.28 L357.72,309.04 L358.52,306.41 L359.28,303.70 L360.00,302.63 L361.07,300.88 L362.04,299.21 L363.00,300.17 L364.00,301.41 L365.00,302.60 L366.00,302.32 L366.96,303.01 L367.93,301.02 L369.00,300.39 L369.75,301.12 L370.58,303.22 L371.42,304.10 L372.25,305.35 L373.00,308.31 L374.00,311.24 L374.89,314.58 L376.00,318.18 L376.73,318.93 L377.56,319.89 L378.44,320.47 L379.33,321.51 L380.20,322.17 L381.00,323.26 L381.83,323.65 L382.58,324.32 L383.30,324.96 L384.09,325.82 L385.00,326.51 L385.80,327.09 L386.74,327.48 L387.75,327.92 L388.74,328.52 L389.66,329.00 L390.44,329.40 L391.00,329.70 L391.00,329.48 Z" fill="#0000ff" stroke="#0000ff" stroke-width="0.3"/>
<line x1="315.4" y1="329.47999999999996" x2="422.4" y2="329.47999999999996" stroke="#8c8cf0" stroke-width="0.8"/>
<rect x="317.40" y="329.28" width="0.9" height="1.4" fill="#333" opacity="0.55"/>
<rect x="320.50" y="329.28" width="0.9" height="1.4" fill="#333" opacity="0.55"/>
<rect x="323.60" y="329.28" width="0.9" height="1.4" fill="#333" opacity="0.55"/>
<rect x="326.70" y="329.28" width="0.9" height="1.4" fill="#333" opacity="0.55"/>
<rect x="329.80" y="329.28" width="0.9" height="1.4" fill="#333" opacity="0.55"/>
<rect x="332.90" y="329.28" width="0.9" height="1.4" fill="#333" opacity="0.55"/>
<rect x="336.00" y="329.28" width="0.9" height="1.4" fill="#333" opacity="0.55"/>
<rect x="339.10" y="329.28" width="0.9" height="1.4" fill="#333" opacity="0.55"/>
<rect x="342.20" y="329.28" width="0.9" height="1.4" fill="#333" opacity="0.55"/>
<rect x="345.30" y="329.28" width="0.9" height="1.4" fill="#333" opacity="0.55"/>
<rect x="348.40" y="329.28" width="0.9" height="1.4" fill="#333" opacity="0.55"/>
<rect x="351.50" y="329.28" width="0.9" height="1.4" fill="#333" opacity="0.55"/>
<rect x="354.60" y="329.28" width="0.9" height="1.4" fill="#333" opacity="0.55"/>
<rect x="357.70" y="329.28" width="0.9" height="1.4" fill="#333" opacity="0.55"/>
<rect x="360.80" y="329.28" width="0.9" height="1.4" fill="#333" opacity="0.55"/>
<rect x="363.90" y="329.28" width="0.9" height="1.4" fill="#333" opacity="0.55"/>
<rect x="367.00" y="329.28" width="0.9" height="1.4" fill="#333" opacity="0.55"/>
<rect x="370.10" y="329.28" width="0.9" height="1.4" fill="#333" opacity="0.55"/>
<rect x="373.20" y="329.28" width="0.9" height="1.4" fill="#333" opacity="0.55"/>
<rect x="376.30" y="329.28" width="0.9" height="1.4" fill="#333" opacity="0.55"/>
<rect x="379.40" y="329.28" width="0.9" height="1.4" fill="#333" opacity="0.55"/>
<rect x="382.50" y="329.28" width="0.9" height="1.4" fill="#333" opacity="0.55"/>
<rect x="385.60" y="329.28" width="0.9" height="1.4" fill="#333" opacity="0.55"/>
<rect x="388.70" y="329.28" width="0.9" height="1.4" fill="#333" opacity="0.55"/>
<rect x="391.80" y="329.28" width="0.9" height="1.4" fill="#333" opacity="0.55"/>
<rect x="394.90" y="329.28" width="0.9" height="1.4" fill="#333" opacity="0.55"/>
<rect x="398.00" y="329.28" width="0.9" height="1.4" fill="#333" opacity="0.55"/>
<rect x="401.10" y="329.28" width="0.9" height="1.4" fill="#333" opacity="0.55"/>
<rect x="404.20" y="329.28" width="0.9" height="1.4" fill="#333" opacity="0.55"/>
<rect x="407.30" y="329.28" width="0.9" height="1.4" fill="#333" opacity="0.55"/>
<rect x="410.40" y="329.28" width="0.9" height="1.4" fill="#333" opacity="0.55"/>
<rect x="413.50" y="329.28" width="0.9" height="1.4" fill="#333" opacity="0.55"/>
<rect x="416.60" y="329.28" width="0.9" height="1.4" fill="#333" opacity="0.55"/>
<rect x="419.70" y="329.28" width="0.9" height="1.4" fill="#333" opacity="0.55"/>
<rect x="327.8" y="328.87999999999994" width="6.8" height="1.9" fill="#111"/>
<text x="330.60" y="340.20" font-size="6.2" text-anchor="start" font-weight="normal" fill="#222" stroke="#222" stroke-width="0.22" >0</text>
<text x="360.70" y="340.20" font-size="6.2" fill="#222" stroke="#222" stroke-width="0.15" text-anchor="start">10<tspan font-size="5.27" dy="-3.10">3</tspan></text>
<text x="386.70" y="340.20" font-size="6.2" fill="#222" stroke="#222" stroke-width="0.15" text-anchor="start">10<tspan font-size="5.27" dy="-3.10">4</tspan></text>
<text x="410.70" y="340.20" font-size="6.2" fill="#222" stroke="#222" stroke-width="0.15" text-anchor="start">10<tspan font-size="5.27" dy="-3.10">5</tspan></text>
<text x="368.20" y="355.00" font-size="10" text-anchor="middle" font-weight="normal" fill="#000" stroke="#000" stroke-width="0.18" >MDR</text>
<rect x="315.5" y="359.5" width="77.0" height="50.80000000000001" fill="#fff" stroke="#b4b4b4" stroke-width="0.9"/>
<line x1="315.5" y1="369.66" x2="392.5" y2="369.66" stroke="#bababa" stroke-width="0.9"/>
<line x1="315.5" y1="379.82" x2="392.5" y2="379.82" stroke="#bababa" stroke-width="0.9"/>
<line x1="315.5" y1="389.98" x2="392.5" y2="389.98" stroke="#bababa" stroke-width="0.9"/>
<line x1="315.5" y1="400.14" x2="392.5" y2="400.14" stroke="#bababa" stroke-width="0.9"/>
<line x1="320.9" y1="359.5" x2="320.9" y2="410.3" stroke="#bababa" stroke-width="0.9"/>
<line x1="343.2" y1="359.5" x2="343.2" y2="410.3" stroke="#bababa" stroke-width="0.9"/>
<line x1="369.3" y1="359.5" x2="369.3" y2="410.3" stroke="#bababa" stroke-width="0.9"/>
<rect x="316.70" y="361.40" width="3.5" height="6.2" fill="#7a7a7a"/>
<text x="322.10" y="367.10" font-size="7.7" text-anchor="start" font-weight="normal" fill="#1a1a1a" stroke="#1a1a1a" stroke-width="0.22" >FMO</text>
<text x="344.80" y="367.10" font-size="7.7" text-anchor="start" font-weight="normal" fill="#1a1a1a" stroke="#1a1a1a" stroke-width="0.22" >CD4</text>
<text x="388.30" y="367.10" font-size="7.7" text-anchor="end" font-weight="normal" fill="#1a1a1a" stroke="#1a1a1a" stroke-width="0.22" >123</text>
<rect x="317.20" y="372.06" width="2.5" height="5.2" fill="#fff" stroke="#ff3030" stroke-width="1"/>
<text x="322.10" y="377.26" font-size="7.7" text-anchor="start" font-weight="normal" fill="#1a1a1a" stroke="#1a1a1a" stroke-width="0.22" >SPL</text>
<text x="344.80" y="377.26" font-size="7.7" text-anchor="start" font-weight="normal" fill="#1a1a1a" stroke="#1a1a1a" stroke-width="0.22" >Treg</text>
<text x="388.30" y="377.26" font-size="7.7" text-anchor="end" font-weight="normal" fill="#1a1a1a" stroke="#1a1a1a" stroke-width="0.22" >1318</text>
<rect x="317.20" y="382.22" width="2.5" height="5.2" fill="#fff" stroke="#3030ff" stroke-width="1"/>
<text x="322.10" y="387.42" font-size="7.7" text-anchor="start" font-weight="normal" fill="#1a1a1a" stroke="#1a1a1a" stroke-width="0.22" >SPL</text>
<text x="344.80" y="387.42" font-size="7.7" text-anchor="start" font-weight="normal" fill="#1a1a1a" stroke="#1a1a1a" stroke-width="0.22" >Tconv</text>
<text x="388.30" y="387.42" font-size="7.7" text-anchor="end" font-weight="normal" fill="#1a1a1a" stroke="#1a1a1a" stroke-width="0.22" >1513</text>
<rect x="316.70" y="391.88" width="3.5" height="6.2" fill="#ff0000"/>
<text x="322.10" y="397.58" font-size="7.7" text-anchor="start" font-weight="normal" fill="#1a1a1a" stroke="#1a1a1a" stroke-width="0.22" >TUM</text>
<text x="344.80" y="397.58" font-size="7.7" text-anchor="start" font-weight="normal" fill="#1a1a1a" stroke="#1a1a1a" stroke-width="0.22" >Treg</text>
<text x="388.30" y="397.58" font-size="7.7" text-anchor="end" font-weight="normal" fill="#1a1a1a" stroke="#1a1a1a" stroke-width="0.22" >2120</text>
<rect x="316.70" y="402.04" width="3.5" height="6.2" fill="#0000ff"/>
<text x="322.10" y="407.74" font-size="7.7" text-anchor="start" font-weight="normal" fill="#1a1a1a" stroke="#1a1a1a" stroke-width="0.22" >TUM</text>
<text x="344.80" y="407.74" font-size="7.7" text-anchor="start" font-weight="normal" fill="#1a1a1a" stroke="#1a1a1a" stroke-width="0.22" >Tconv</text>
<text x="388.30" y="407.74" font-size="7.7" text-anchor="end" font-weight="normal" fill="#1a1a1a" stroke="#1a1a1a" stroke-width="0.22" >1770</text>
<line x1="442.0" y1="222.2" x2="442.0" y2="329.47999999999996" stroke="#d8d8d8" stroke-width="0.9"/>
<line x1="447.4" y1="222.2" x2="447.4" y2="329.47999999999996" stroke="#aaaaaa" stroke-width="0.9"/>
<line x1="453.0" y1="222.2" x2="453.0" y2="329.47999999999996" stroke="#d8d8d8" stroke-width="0.9"/>
<line x1="476.6" y1="222.2" x2="476.6" y2="329.47999999999996" stroke="#d0d0d0" stroke-width="0.9"/>
<line x1="503.4" y1="222.2" x2="503.4" y2="329.47999999999996" stroke="#d0d0d0" stroke-width="0.9"/>
<line x1="527.4" y1="222.2" x2="527.4" y2="329.47999999999996" stroke="#d0d0d0" stroke-width="0.9"/>
<rect x="431.3" y="222.2" width="106.69999999999999" height="107.27999999999997" fill="none" stroke="#c4c4c4" stroke-width="1"/>
<line x1="431.3" y1="259.4" x2="538.0" y2="259.4" stroke="#9a9a9a" stroke-width="0.8"/>
<path d="M458.00,259.40 L458.00,259.40 L458.81,257.75 L459.96,255.29 L461.00,251.96 L462.06,244.37 L463.00,236.38 L464.00,229.69 L465.00,227.18 L466.00,230.32 L467.00,236.04 L467.88,242.85 L469.00,249.11 L469.65,250.35 L470.38,251.72 L471.19,252.27 L472.07,252.94 L473.00,253.93 L473.77,254.72 L474.65,255.71 L475.58,256.67 L476.51,257.54 L477.36,258.30 L478.08,258.91 L478.60,259.40 L478.60,259.40 Z" fill="#6a6a6a" stroke="#5a5a5a" stroke-width="0.4"/>
<line x1="431.3" y1="276.91999999999996" x2="538.0" y2="276.91999999999996" stroke="#ffa8a8" stroke-width="0.8"/>
<path d="M477.00,276.92 L477.00,276.80 L477.49,276.72 L478.15,276.63 L478.94,276.51 L479.82,276.39 L480.75,276.25 L481.70,276.10 L482.64,275.94 L483.53,275.82 L484.33,275.52 L485.00,275.31 L486.06,275.04 L486.89,274.63 L487.59,274.40 L488.26,274.00 L489.00,272.57 L489.82,271.98 L490.65,270.13 L491.47,268.31 L492.26,266.88 L493.00,264.85 L494.11,261.32 L495.11,257.80 L496.00,255.04 L497.06,254.63 L498.00,253.94 L499.00,250.51 L500.00,247.84 L501.00,249.14 L502.00,250.03 L502.94,248.64 L504.00,247.57 L504.89,250.28 L505.89,253.16 L507.00,256.79 L507.77,258.40 L508.62,261.48 L509.50,264.03 L510.31,265.78 L511.00,267.85 L512.12,270.20 L513.00,271.44 L513.88,272.50 L515.00,274.46 L515.61,274.96 L516.26,275.26 L517.02,275.60 L517.91,275.77 L519.00,276.00 L519.67,276.12 L520.47,276.22 L521.36,276.32 L522.30,276.42 L523.25,276.50 L524.18,276.58 L525.06,276.64 L525.85,276.70 L526.51,276.76 L527.00,276.80 L527.00,276.92 Z" fill="rgba(255,70,70,0.24)" stroke="none"/>
<path d="M477.00,276.92 L477.00,276.80 L477.49,276.72 L478.15,276.63 L478.94,276.51 L479.82,276.39 L480.75,276.25 L481.70,276.10 L482.64,275.94 L483.53,275.82 L484.33,275.52 L485.00,275.31 L486.06,275.04 L486.89,274.63 L487.59,274.40 L488.26,274.00 L489.00,272.57 L489.82,271.98 L490.65,270.13 L491.47,268.31 L492.26,266.88 L493.00,264.85 L494.11,261.32 L495.11,257.80 L496.00,255.04 L497.06,254.63 L498.00,253.94 L499.00,250.51 L500.00,247.84 L501.00,249.14 L502.00,250.03 L502.94,248.64 L504.00,247.57 L504.89,250.28 L505.89,253.16 L507.00,256.79 L507.77,258.40 L508.62,261.48 L509.50,264.03 L510.31,265.78 L511.00,267.85 L512.12,270.20 L513.00,271.44 L513.88,272.50 L515.00,274.46 L515.61,274.96 L516.26,275.26 L517.02,275.60 L517.91,275.77 L519.00,276.00 L519.67,276.12 L520.47,276.22 L521.36,276.32 L522.30,276.42 L523.25,276.50 L524.18,276.58 L525.06,276.64 L525.85,276.70 L526.51,276.76 L527.00,276.80" fill="none" stroke="#ff4040" stroke-width="1.0" stroke-linejoin="round"/>
<line x1="431.3" y1="294.44" x2="538.0" y2="294.44" stroke="#8a8aff" stroke-width="0.8"/>
<path d="M479.00,294.44 L479.00,294.30 L479.49,294.13 L480.12,293.94 L480.87,293.73 L481.72,293.49 L482.62,293.17 L483.56,292.82 L484.50,292.38 L485.40,292.06 L486.25,291.47 L487.00,291.09 L487.98,290.28 L488.92,289.16 L489.82,288.32 L490.67,286.13 L491.49,284.80 L492.27,282.89 L493.00,282.36 L493.94,279.68 L494.79,277.74 L495.57,275.78 L496.30,274.48 L497.00,272.41 L498.07,269.44 L499.04,268.02 L500.00,265.83 L501.00,264.90 L502.00,262.81 L503.00,262.91 L504.00,264.05 L505.00,265.17 L506.00,267.28 L506.96,269.71 L507.93,273.38 L509.00,277.15 L509.72,279.11 L510.48,281.36 L511.28,283.83 L512.12,285.70 L513.00,288.38 L513.73,288.60 L514.44,289.66 L515.19,291.32 L516.00,291.96 L516.92,292.43 L518.00,292.90 L518.70,293.08 L519.51,293.48 L520.41,293.66 L521.36,293.80 L522.33,293.91 L523.29,294.01 L524.22,294.08 L525.09,294.14 L525.86,294.19 L526.50,294.24 L527.00,294.30 L527.00,294.44 Z" fill="rgba(80,80,255,0.26)" stroke="none"/>
<path d="M479.00,294.44 L479.00,294.30 L479.49,294.13 L480.12,293.94 L480.87,293.73 L481.72,293.49 L482.62,293.17 L483.56,292.82 L484.50,292.38 L485.40,292.06 L486.25,291.47 L487.00,291.09 L487.98,290.28 L488.92,289.16 L489.82,288.32 L490.67,286.13 L491.49,284.80 L492.27,282.89 L493.00,282.36 L493.94,279.68 L494.79,277.74 L495.57,275.78 L496.30,274.48 L497.00,272.41 L498.07,269.44 L499.04,268.02 L500.00,265.83 L501.00,264.90 L502.00,262.81 L503.00,262.91 L504.00,264.05 L505.00,265.17 L506.00,267.28 L506.96,269.71 L507.93,273.38 L509.00,277.15 L509.72,279.11 L510.48,281.36 L511.28,283.83 L512.12,285.70 L513.00,288.38 L513.73,288.60 L514.44,289.66 L515.19,291.32 L516.00,291.96 L516.92,292.43 L518.00,292.90 L518.70,293.08 L519.51,293.48 L520.41,293.66 L521.36,293.80 L522.33,293.91 L523.29,294.01 L524.22,294.08 L525.09,294.14 L525.86,294.19 L526.50,294.24 L527.00,294.30" fill="none" stroke="#4444ff" stroke-width="1.05" stroke-linejoin="round"/>
<line x1="431.3" y1="311.96" x2="538.0" y2="311.96" stroke="#ff8080" stroke-width="0.8"/>
<path d="M477.00,311.96 L477.00,312.20 L477.50,312.06 L478.13,311.90 L478.89,311.71 L479.74,311.51 L480.66,311.29 L481.62,311.04 L482.61,310.66 L483.59,310.37 L484.55,310.17 L485.45,309.94 L486.27,309.50 L487.00,309.30 L488.08,308.17 L489.06,306.79 L489.96,306.28 L490.78,305.45 L491.55,303.83 L492.28,303.14 L493.00,302.44 L493.94,300.08 L494.79,298.53 L495.57,298.32 L496.30,295.29 L497.00,293.85 L498.11,292.51 L499.11,291.39 L500.00,289.34 L501.06,287.24 L502.00,285.55 L502.94,288.99 L504.00,290.98 L504.93,290.85 L505.96,289.17 L507.00,289.62 L507.93,292.25 L508.85,294.61 L510.00,298.25 L510.71,299.58 L511.48,299.62 L512.31,301.41 L513.19,301.28 L514.09,303.09 L515.00,304.63 L515.79,305.06 L516.58,306.02 L517.40,306.73 L518.24,306.18 L519.11,307.89 L520.03,308.17 L521.00,309.12 L521.73,309.67 L522.50,309.79 L523.32,310.23 L524.15,310.46 L525.00,310.74 L525.85,310.91 L526.68,311.21 L527.50,311.43 L528.27,311.63 L529.00,311.80 L530.01,311.99 L531.03,312.10 L532.03,312.16 L532.95,312.18 L533.78,312.18 L534.48,312.18 L535.00,312.20 L535.00,311.96 Z" fill="#ff0000" stroke="#ff0000" stroke-width="0.3"/>
<line x1="431.3" y1="329.47999999999996" x2="538.0" y2="329.47999999999996" stroke="#8080ff" stroke-width="0.8"/>
<path d="M483.00,329.48 L483.00,329.70 L483.49,329.39 L484.14,329.03 L484.91,328.61 L485.77,328.29 L486.69,327.64 L487.63,327.10 L488.57,326.12 L489.46,326.34 L490.29,324.55 L491.00,322.91 L492.02,322.54 L492.93,321.07 L493.75,317.74 L494.52,316.10 L495.26,314.14 L496.00,312.48 L496.90,308.34 L497.77,307.86 L498.59,304.32 L499.34,302.69 L500.00,301.56 L501.06,300.51 L502.00,299.68 L502.89,301.08 L503.89,303.68 L505.00,306.26 L505.70,307.26 L506.43,311.12 L507.21,312.80 L508.06,315.03 L509.00,316.92 L509.73,317.09 L510.51,319.39 L511.33,320.87 L512.18,320.87 L513.08,322.33 L514.02,322.65 L515.00,324.66 L515.73,324.22 L516.50,324.39 L517.32,324.96 L518.15,326.08 L519.00,326.69 L519.85,326.70 L520.68,327.10 L521.50,327.44 L522.27,328.13 L523.00,328.06 L524.01,328.53 L525.03,328.70 L526.03,328.98 L526.95,329.21 L527.78,329.41 L528.48,329.57 L529.00,329.70 L529.00,329.48 Z" fill="#0000ff" stroke="#0000ff" stroke-width="0.3"/>
<line x1="431.3" y1="329.47999999999996" x2="538.0" y2="329.47999999999996" stroke="#8c8cf0" stroke-width="0.8"/>
<rect x="433.30" y="329.28" width="0.9" height="1.4" fill="#333" opacity="0.55"/>
<rect x="436.40" y="329.28" width="0.9" height="1.4" fill="#333" opacity="0.55"/>
<rect x="439.50" y="329.28" width="0.9" height="1.4" fill="#333" opacity="0.55"/>
<rect x="442.60" y="329.28" width="0.9" height="1.4" fill="#333" opacity="0.55"/>
<rect x="445.70" y="329.28" width="0.9" height="1.4" fill="#333" opacity="0.55"/>
<rect x="448.80" y="329.28" width="0.9" height="1.4" fill="#333" opacity="0.55"/>
<rect x="451.90" y="329.28" width="0.9" height="1.4" fill="#333" opacity="0.55"/>
<rect x="455.00" y="329.28" width="0.9" height="1.4" fill="#333" opacity="0.55"/>
<rect x="458.10" y="329.28" width="0.9" height="1.4" fill="#333" opacity="0.55"/>
<rect x="461.20" y="329.28" width="0.9" height="1.4" fill="#333" opacity="0.55"/>
<rect x="464.30" y="329.28" width="0.9" height="1.4" fill="#333" opacity="0.55"/>
<rect x="467.40" y="329.28" width="0.9" height="1.4" fill="#333" opacity="0.55"/>
<rect x="470.50" y="329.28" width="0.9" height="1.4" fill="#333" opacity="0.55"/>
<rect x="473.60" y="329.28" width="0.9" height="1.4" fill="#333" opacity="0.55"/>
<rect x="476.70" y="329.28" width="0.9" height="1.4" fill="#333" opacity="0.55"/>
<rect x="479.80" y="329.28" width="0.9" height="1.4" fill="#333" opacity="0.55"/>
<rect x="482.90" y="329.28" width="0.9" height="1.4" fill="#333" opacity="0.55"/>
<rect x="486.00" y="329.28" width="0.9" height="1.4" fill="#333" opacity="0.55"/>
<rect x="489.10" y="329.28" width="0.9" height="1.4" fill="#333" opacity="0.55"/>
<rect x="492.20" y="329.28" width="0.9" height="1.4" fill="#333" opacity="0.55"/>
<rect x="495.30" y="329.28" width="0.9" height="1.4" fill="#333" opacity="0.55"/>
<rect x="498.40" y="329.28" width="0.9" height="1.4" fill="#333" opacity="0.55"/>
<rect x="501.50" y="329.28" width="0.9" height="1.4" fill="#333" opacity="0.55"/>
<rect x="504.60" y="329.28" width="0.9" height="1.4" fill="#333" opacity="0.55"/>
<rect x="507.70" y="329.28" width="0.9" height="1.4" fill="#333" opacity="0.55"/>
<rect x="510.80" y="329.28" width="0.9" height="1.4" fill="#333" opacity="0.55"/>
<rect x="513.90" y="329.28" width="0.9" height="1.4" fill="#333" opacity="0.55"/>
<rect x="517.00" y="329.28" width="0.9" height="1.4" fill="#333" opacity="0.55"/>
<rect x="520.10" y="329.28" width="0.9" height="1.4" fill="#333" opacity="0.55"/>
<rect x="523.20" y="329.28" width="0.9" height="1.4" fill="#333" opacity="0.55"/>
<rect x="526.30" y="329.28" width="0.9" height="1.4" fill="#333" opacity="0.55"/>
<rect x="529.40" y="329.28" width="0.9" height="1.4" fill="#333" opacity="0.55"/>
<rect x="532.50" y="329.28" width="0.9" height="1.4" fill="#333" opacity="0.55"/>
<rect x="535.60" y="329.28" width="0.9" height="1.4" fill="#333" opacity="0.55"/>
<rect x="444.8" y="328.87999999999994" width="6.8" height="1.9" fill="#111"/>
<text x="447.50" y="340.20" font-size="6.2" text-anchor="start" font-weight="normal" fill="#222" stroke="#222" stroke-width="0.22" >0</text>
<text x="476.20" y="340.20" font-size="6.2" fill="#222" stroke="#222" stroke-width="0.15" text-anchor="start">10<tspan font-size="5.27" dy="-3.10">3</tspan></text>
<text x="501.30" y="340.20" font-size="6.2" fill="#222" stroke="#222" stroke-width="0.15" text-anchor="start">10<tspan font-size="5.27" dy="-3.10">4</tspan></text>
<text x="526.00" y="340.20" font-size="6.2" fill="#222" stroke="#222" stroke-width="0.15" text-anchor="start">10<tspan font-size="5.27" dy="-3.10">5</tspan></text>
<text x="484.30" y="355.00" font-size="10" text-anchor="middle" font-weight="normal" fill="#000" stroke="#000" stroke-width="0.18" >Actb mRNA AF488</text>
<rect x="431.5" y="359.5" width="81.20000000000005" height="50.80000000000001" fill="#fff" stroke="#b4b4b4" stroke-width="0.9"/>
<line x1="431.5" y1="369.66" x2="512.7" y2="369.66" stroke="#bababa" stroke-width="0.9"/>
<line x1="431.5" y1="379.82" x2="512.7" y2="379.82" stroke="#bababa" stroke-width="0.9"/>
<line x1="431.5" y1="389.98" x2="512.7" y2="389.98" stroke="#bababa" stroke-width="0.9"/>
<line x1="431.5" y1="400.14" x2="512.7" y2="400.14" stroke="#bababa" stroke-width="0.9"/>
<line x1="437.4" y1="359.5" x2="437.4" y2="410.3" stroke="#bababa" stroke-width="0.9"/>
<line x1="459.5" y1="359.5" x2="459.5" y2="410.3" stroke="#bababa" stroke-width="0.9"/>
<line x1="485.7" y1="359.5" x2="485.7" y2="410.3" stroke="#bababa" stroke-width="0.9"/>
<rect x="432.70" y="361.40" width="3.5" height="6.2" fill="#7a7a7a"/>
<text x="438.60" y="367.10" font-size="7.7" text-anchor="start" font-weight="normal" fill="#1a1a1a" stroke="#1a1a1a" stroke-width="0.22" >FMO</text>
<text x="461.10" y="367.10" font-size="7.7" text-anchor="start" font-weight="normal" fill="#1a1a1a" stroke="#1a1a1a" stroke-width="0.22" >CD4</text>
<text x="508.50" y="367.10" font-size="7.7" text-anchor="end" font-weight="normal" fill="#1a1a1a" stroke="#1a1a1a" stroke-width="0.22" >435</text>
<rect x="433.20" y="372.06" width="2.5" height="5.2" fill="#fff" stroke="#ff3030" stroke-width="1"/>
<text x="438.60" y="377.26" font-size="7.7" text-anchor="start" font-weight="normal" fill="#1a1a1a" stroke="#1a1a1a" stroke-width="0.22" >SPL</text>
<text x="461.10" y="377.26" font-size="7.7" text-anchor="start" font-weight="normal" fill="#1a1a1a" stroke="#1a1a1a" stroke-width="0.22" >Treg</text>
<text x="508.50" y="377.26" font-size="7.7" text-anchor="end" font-weight="normal" fill="#1a1a1a" stroke="#1a1a1a" stroke-width="0.22" >8937</text>
<rect x="433.20" y="382.22" width="2.5" height="5.2" fill="#fff" stroke="#3030ff" stroke-width="1"/>
<text x="438.60" y="387.42" font-size="7.7" text-anchor="start" font-weight="normal" fill="#1a1a1a" stroke="#1a1a1a" stroke-width="0.22" >SPL</text>
<text x="461.10" y="387.42" font-size="7.7" text-anchor="start" font-weight="normal" fill="#1a1a1a" stroke="#1a1a1a" stroke-width="0.22" >Tconv</text>
<text x="508.50" y="387.42" font-size="7.7" text-anchor="end" font-weight="normal" fill="#1a1a1a" stroke="#1a1a1a" stroke-width="0.22" >8855</text>
<rect x="432.70" y="391.88" width="3.5" height="6.2" fill="#ff0000"/>
<text x="438.60" y="397.58" font-size="7.7" text-anchor="start" font-weight="normal" fill="#1a1a1a" stroke="#1a1a1a" stroke-width="0.22" >TUM</text>
<text x="461.10" y="397.58" font-size="7.7" text-anchor="start" font-weight="normal" fill="#1a1a1a" stroke="#1a1a1a" stroke-width="0.22" >Treg</text>
<text x="508.50" y="397.58" font-size="7.7" text-anchor="end" font-weight="normal" fill="#1a1a1a" stroke="#1a1a1a" stroke-width="0.22" >10808</text>
<rect x="432.70" y="402.04" width="3.5" height="6.2" fill="#0000ff"/>
<text x="438.60" y="407.74" font-size="7.7" text-anchor="start" font-weight="normal" fill="#1a1a1a" stroke="#1a1a1a" stroke-width="0.22" >TUM</text>
<text x="461.10" y="407.74" font-size="7.7" text-anchor="start" font-weight="normal" fill="#1a1a1a" stroke="#1a1a1a" stroke-width="0.22" >Tconv</text>
<text x="508.50" y="407.74" font-size="7.7" text-anchor="end" font-weight="normal" fill="#1a1a1a" stroke="#1a1a1a" stroke-width="0.22" >9172</text></svg></body></html>
